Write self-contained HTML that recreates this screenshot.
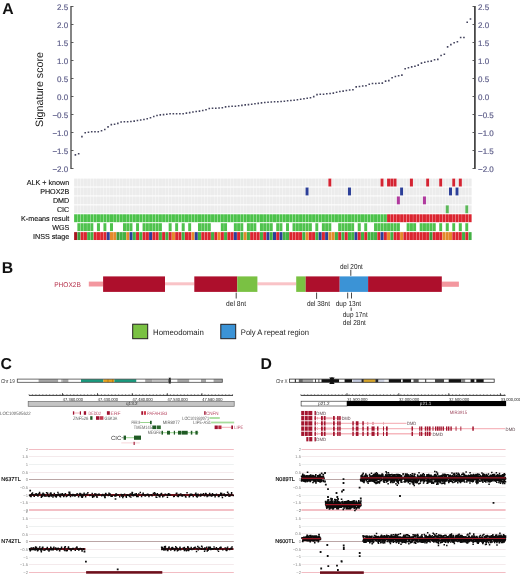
<!DOCTYPE html>
<html><head><meta charset="utf-8"><style>
html,body{margin:0;padding:0;background:#fff;}
svg{display:block;font-family:"Liberation Sans",Arial,Helvetica,sans-serif;text-rendering:geometricPrecision;}
</style></head><body>
<svg width="520" height="576" viewBox="0 0 520 576">
<text x="2.2" y="13.9" font-size="15.8" font-weight="bold" fill="#111">A</text>
<line x1="71" y1="6" x2="71" y2="169" stroke="#333" stroke-width="1.2"/>
<line x1="474.9" y1="6" x2="474.9" y2="169" stroke="#333" stroke-width="1.6"/>
<line x1="71" y1="6.5" x2="73.5" y2="6.5" stroke="#4a4a4a" stroke-width="0.9"/>
<line x1="472.5" y1="6.5" x2="475" y2="6.5" stroke="#4a4a4a" stroke-width="0.9"/>
<text x="68.2" y="9.6" font-size="8" fill="#5c5c88" stroke="#5c5c88" stroke-width="0.18" text-anchor="end">2.5</text>
<text x="478" y="9.6" font-size="8" fill="#5c5c88" stroke="#5c5c88" stroke-width="0.18">2.5</text>
<line x1="71" y1="24.5" x2="73.5" y2="24.5" stroke="#4a4a4a" stroke-width="0.9"/>
<line x1="472.5" y1="24.5" x2="475" y2="24.5" stroke="#4a4a4a" stroke-width="0.9"/>
<text x="68.2" y="27.6" font-size="8" fill="#5c5c88" stroke="#5c5c88" stroke-width="0.18" text-anchor="end">2.0</text>
<text x="478" y="27.6" font-size="8" fill="#5c5c88" stroke="#5c5c88" stroke-width="0.18">2.0</text>
<line x1="71" y1="42.5" x2="73.5" y2="42.5" stroke="#4a4a4a" stroke-width="0.9"/>
<line x1="472.5" y1="42.5" x2="475" y2="42.5" stroke="#4a4a4a" stroke-width="0.9"/>
<text x="68.2" y="45.6" font-size="8" fill="#5c5c88" stroke="#5c5c88" stroke-width="0.18" text-anchor="end">1.5</text>
<text x="478" y="45.6" font-size="8" fill="#5c5c88" stroke="#5c5c88" stroke-width="0.18">1.5</text>
<line x1="71" y1="60.5" x2="73.5" y2="60.5" stroke="#4a4a4a" stroke-width="0.9"/>
<line x1="472.5" y1="60.5" x2="475" y2="60.5" stroke="#4a4a4a" stroke-width="0.9"/>
<text x="68.2" y="63.6" font-size="8" fill="#5c5c88" stroke="#5c5c88" stroke-width="0.18" text-anchor="end">1.0</text>
<text x="478" y="63.6" font-size="8" fill="#5c5c88" stroke="#5c5c88" stroke-width="0.18">1.0</text>
<line x1="71" y1="78.5" x2="73.5" y2="78.5" stroke="#4a4a4a" stroke-width="0.9"/>
<line x1="472.5" y1="78.5" x2="475" y2="78.5" stroke="#4a4a4a" stroke-width="0.9"/>
<text x="68.2" y="81.6" font-size="8" fill="#5c5c88" stroke="#5c5c88" stroke-width="0.18" text-anchor="end">0.5</text>
<text x="478" y="81.6" font-size="8" fill="#5c5c88" stroke="#5c5c88" stroke-width="0.18">0.5</text>
<line x1="71" y1="96.5" x2="73.5" y2="96.5" stroke="#4a4a4a" stroke-width="0.9"/>
<line x1="472.5" y1="96.5" x2="475" y2="96.5" stroke="#4a4a4a" stroke-width="0.9"/>
<text x="68.2" y="99.6" font-size="8" fill="#5c5c88" stroke="#5c5c88" stroke-width="0.18" text-anchor="end">0.0</text>
<text x="478" y="99.6" font-size="8" fill="#5c5c88" stroke="#5c5c88" stroke-width="0.18">0.0</text>
<line x1="71" y1="114.5" x2="73.5" y2="114.5" stroke="#4a4a4a" stroke-width="0.9"/>
<line x1="472.5" y1="114.5" x2="475" y2="114.5" stroke="#4a4a4a" stroke-width="0.9"/>
<text x="68.2" y="117.6" font-size="8" fill="#5c5c88" stroke="#5c5c88" stroke-width="0.18" text-anchor="end">−0.5</text>
<text x="478" y="117.6" font-size="8" fill="#5c5c88" stroke="#5c5c88" stroke-width="0.18">−0.5</text>
<line x1="71" y1="132.5" x2="73.5" y2="132.5" stroke="#4a4a4a" stroke-width="0.9"/>
<line x1="472.5" y1="132.5" x2="475" y2="132.5" stroke="#4a4a4a" stroke-width="0.9"/>
<text x="68.2" y="135.6" font-size="8" fill="#5c5c88" stroke="#5c5c88" stroke-width="0.18" text-anchor="end">−1.0</text>
<text x="478" y="135.6" font-size="8" fill="#5c5c88" stroke="#5c5c88" stroke-width="0.18">−1.0</text>
<line x1="71" y1="150.5" x2="73.5" y2="150.5" stroke="#4a4a4a" stroke-width="0.9"/>
<line x1="472.5" y1="150.5" x2="475" y2="150.5" stroke="#4a4a4a" stroke-width="0.9"/>
<text x="68.2" y="153.6" font-size="8" fill="#5c5c88" stroke="#5c5c88" stroke-width="0.18" text-anchor="end">−1.5</text>
<text x="478" y="153.6" font-size="8" fill="#5c5c88" stroke="#5c5c88" stroke-width="0.18">−1.5</text>
<line x1="71" y1="168.5" x2="73.5" y2="168.5" stroke="#4a4a4a" stroke-width="0.9"/>
<line x1="472.5" y1="168.5" x2="475" y2="168.5" stroke="#4a4a4a" stroke-width="0.9"/>
<text x="68.2" y="171.6" font-size="8" fill="#5c5c88" stroke="#5c5c88" stroke-width="0.18" text-anchor="end">−2.0</text>
<text x="478" y="171.6" font-size="8" fill="#5c5c88" stroke="#5c5c88" stroke-width="0.18">−2.0</text>
<text transform="translate(43.2,89.5) rotate(-90)" font-size="10.7" fill="#1a1a1a" text-anchor="middle">Signature score</text>
<path d="M74.6 154.1h1.6v1.6h-1.6zM77.87 153h1.6v1.6h-1.6zM81.13 135.8h1.6v1.6h-1.6zM84.4 132h1.6v1.6h-1.6zM87.66 131.5h1.6v1.6h-1.6zM90.93 131h1.6v1.6h-1.6zM94.19 131h1.6v1.6h-1.6zM97.46 131h1.6v1.6h-1.6zM100.72 130h1.6v1.6h-1.6zM103.99 128.7h1.6v1.6h-1.6zM107.25 126.1h1.6v1.6h-1.6zM110.52 123.8h1.6v1.6h-1.6zM113.78 123.4h1.6v1.6h-1.6zM117.05 122.6h1.6v1.6h-1.6zM120.31 121.2h1.6v1.6h-1.6zM123.58 121h1.6v1.6h-1.6zM126.84 120.9h1.6v1.6h-1.6zM130.1 120.7h1.6v1.6h-1.6zM133.37 120.3h1.6v1.6h-1.6zM136.63 119.7h1.6v1.6h-1.6zM139.9 119.2h1.6v1.6h-1.6zM143.16 118.7h1.6v1.6h-1.6zM146.43 118h1.6v1.6h-1.6zM149.69 116.9h1.6v1.6h-1.6zM152.96 115.7h1.6v1.6h-1.6zM156.22 114.7h1.6v1.6h-1.6zM159.49 114.1h1.6v1.6h-1.6zM162.75 113.8h1.6v1.6h-1.6zM166.02 113.4h1.6v1.6h-1.6zM169.28 113h1.6v1.6h-1.6zM172.55 113h1.6v1.6h-1.6zM175.81 113h1.6v1.6h-1.6zM179.08 113h1.6v1.6h-1.6zM182.34 113h1.6v1.6h-1.6zM185.61 112.3h1.6v1.6h-1.6zM188.88 111.8h1.6v1.6h-1.6zM192.14 111.2h1.6v1.6h-1.6zM195.41 110.7h1.6v1.6h-1.6zM198.67 110.3h1.6v1.6h-1.6zM201.94 109.7h1.6v1.6h-1.6zM205.2 108.9h1.6v1.6h-1.6zM208.47 107.7h1.6v1.6h-1.6zM211.73 107.4h1.6v1.6h-1.6zM215 107.4h1.6v1.6h-1.6zM218.26 107.2h1.6v1.6h-1.6zM221.53 106.9h1.6v1.6h-1.6zM224.79 106.1h1.6v1.6h-1.6zM228.06 105.7h1.6v1.6h-1.6zM231.32 105.4h1.6v1.6h-1.6zM234.59 105.4h1.6v1.6h-1.6zM237.85 104.9h1.6v1.6h-1.6zM241.12 104.6h1.6v1.6h-1.6zM244.38 104.1h1.6v1.6h-1.6zM247.65 103.8h1.6v1.6h-1.6zM250.91 103.5h1.6v1.6h-1.6zM254.18 103h1.6v1.6h-1.6zM257.44 102.6h1.6v1.6h-1.6zM260.7 102.1h1.6v1.6h-1.6zM263.97 101.7h1.6v1.6h-1.6zM267.24 101.5h1.6v1.6h-1.6zM270.5 101.2h1.6v1.6h-1.6zM273.77 101h1.6v1.6h-1.6zM277.03 100.9h1.6v1.6h-1.6zM280.3 100.7h1.6v1.6h-1.6zM283.56 100.4h1.6v1.6h-1.6zM286.82 100h1.6v1.6h-1.6zM290.09 99.7h1.6v1.6h-1.6zM293.35 99.5h1.6v1.6h-1.6zM296.62 98.9h1.6v1.6h-1.6zM299.88 98.4h1.6v1.6h-1.6zM303.15 98h1.6v1.6h-1.6zM306.42 97.4h1.6v1.6h-1.6zM309.68 96.9h1.6v1.6h-1.6zM312.94 95.8h1.6v1.6h-1.6zM316.21 93.8h1.6v1.6h-1.6zM319.47 93.5h1.6v1.6h-1.6zM322.74 93.4h1.6v1.6h-1.6zM326 93h1.6v1.6h-1.6zM329.27 92.7h1.6v1.6h-1.6zM332.54 92.3h1.6v1.6h-1.6zM335.8 91.5h1.6v1.6h-1.6zM339.06 90.7h1.6v1.6h-1.6zM342.33 90.3h1.6v1.6h-1.6zM345.59 89.7h1.6v1.6h-1.6zM348.86 89.2h1.6v1.6h-1.6zM352.13 88.9h1.6v1.6h-1.6zM355.39 86.1h1.6v1.6h-1.6zM358.66 85.7h1.6v1.6h-1.6zM361.92 85.2h1.6v1.6h-1.6zM365.19 84.9h1.6v1.6h-1.6zM368.45 83.4h1.6v1.6h-1.6zM371.71 82.7h1.6v1.6h-1.6zM374.98 82.7h1.6v1.6h-1.6zM378.25 82.4h1.6v1.6h-1.6zM381.51 82.3h1.6v1.6h-1.6zM384.78 80.3h1.6v1.6h-1.6zM388.04 79.8h1.6v1.6h-1.6zM391.31 76.9h1.6v1.6h-1.6zM394.57 75.7h1.6v1.6h-1.6zM397.83 75h1.6v1.6h-1.6zM401.1 74.3h1.6v1.6h-1.6zM404.36 68h1.6v1.6h-1.6zM407.63 66.9h1.6v1.6h-1.6zM410.9 66.1h1.6v1.6h-1.6zM414.16 65.4h1.6v1.6h-1.6zM417.43 64.3h1.6v1.6h-1.6zM420.69 62.3h1.6v1.6h-1.6zM423.95 61.5h1.6v1.6h-1.6zM427.22 60.7h1.6v1.6h-1.6zM430.48 60.3h1.6v1.6h-1.6zM433.75 59h1.6v1.6h-1.6zM437.02 58.6h1.6v1.6h-1.6zM440.28 54.7h1.6v1.6h-1.6zM443.55 53.5h1.6v1.6h-1.6zM446.81 46.1h1.6v1.6h-1.6zM450.07 43.8h1.6v1.6h-1.6zM453.34 41.9h1.6v1.6h-1.6zM456.6 41h1.6v1.6h-1.6zM459.87 36.7h1.6v1.6h-1.6zM463.14 36.7h1.6v1.6h-1.6zM466.4 21.5h1.6v1.6h-1.6zM469.67 18.2h1.6v1.6h-1.6z" fill="#44445e"/>
<text x="69.3" y="185.1" font-size="7.2" fill="#111" stroke="#111" stroke-width="0.12" text-anchor="end">ALK + known</text>
<text x="69.3" y="194.02" font-size="7.2" fill="#111" stroke="#111" stroke-width="0.12" text-anchor="end">PHOX2B</text>
<text x="69.3" y="202.94" font-size="7.2" fill="#111" stroke="#111" stroke-width="0.12" text-anchor="end">DMD</text>
<text x="69.3" y="211.86" font-size="7.2" fill="#111" stroke="#111" stroke-width="0.12" text-anchor="end">CIC</text>
<text x="69.3" y="220.78" font-size="7.2" fill="#111" stroke="#111" stroke-width="0.12" text-anchor="end">K-means result</text>
<text x="69.3" y="229.7" font-size="7.2" fill="#111" stroke="#111" stroke-width="0.12" text-anchor="end">WGS</text>
<text x="69.3" y="238.62" font-size="7.2" fill="#111" stroke="#111" stroke-width="0.12" text-anchor="end">INSS stage</text>
<rect x="74.12" y="178.6" width="3.02" height="7.9" fill="#ececec"/>
<rect x="77.38" y="178.6" width="3.02" height="7.9" fill="#ececec"/>
<rect x="80.64" y="178.6" width="3.02" height="7.9" fill="#ececec"/>
<rect x="83.9" y="178.6" width="3.02" height="7.9" fill="#ececec"/>
<rect x="87.16" y="178.6" width="3.02" height="7.9" fill="#ececec"/>
<rect x="90.42" y="178.6" width="3.02" height="7.9" fill="#ececec"/>
<rect x="93.68" y="178.6" width="3.02" height="7.9" fill="#ececec"/>
<rect x="96.94" y="178.6" width="3.02" height="7.9" fill="#ececec"/>
<rect x="100.2" y="178.6" width="3.02" height="7.9" fill="#ececec"/>
<rect x="103.46" y="178.6" width="3.02" height="7.9" fill="#ececec"/>
<rect x="106.72" y="178.6" width="3.02" height="7.9" fill="#ececec"/>
<rect x="109.98" y="178.6" width="3.02" height="7.9" fill="#ececec"/>
<rect x="113.24" y="178.6" width="3.02" height="7.9" fill="#ececec"/>
<rect x="116.5" y="178.6" width="3.02" height="7.9" fill="#ececec"/>
<rect x="119.76" y="178.6" width="3.02" height="7.9" fill="#ececec"/>
<rect x="123.02" y="178.6" width="3.02" height="7.9" fill="#ececec"/>
<rect x="126.28" y="178.6" width="3.02" height="7.9" fill="#ececec"/>
<rect x="129.54" y="178.6" width="3.02" height="7.9" fill="#ececec"/>
<rect x="132.8" y="178.6" width="3.02" height="7.9" fill="#ececec"/>
<rect x="136.06" y="178.6" width="3.02" height="7.9" fill="#ececec"/>
<rect x="139.32" y="178.6" width="3.02" height="7.9" fill="#ececec"/>
<rect x="142.58" y="178.6" width="3.02" height="7.9" fill="#ececec"/>
<rect x="145.84" y="178.6" width="3.02" height="7.9" fill="#ececec"/>
<rect x="149.1" y="178.6" width="3.02" height="7.9" fill="#ececec"/>
<rect x="152.36" y="178.6" width="3.02" height="7.9" fill="#ececec"/>
<rect x="155.62" y="178.6" width="3.02" height="7.9" fill="#ececec"/>
<rect x="158.88" y="178.6" width="3.02" height="7.9" fill="#ececec"/>
<rect x="162.14" y="178.6" width="3.02" height="7.9" fill="#ececec"/>
<rect x="165.4" y="178.6" width="3.02" height="7.9" fill="#ececec"/>
<rect x="168.66" y="178.6" width="3.02" height="7.9" fill="#ececec"/>
<rect x="171.92" y="178.6" width="3.02" height="7.9" fill="#ececec"/>
<rect x="175.18" y="178.6" width="3.02" height="7.9" fill="#ececec"/>
<rect x="178.44" y="178.6" width="3.02" height="7.9" fill="#ececec"/>
<rect x="181.7" y="178.6" width="3.02" height="7.9" fill="#ececec"/>
<rect x="184.96" y="178.6" width="3.02" height="7.9" fill="#ececec"/>
<rect x="188.22" y="178.6" width="3.02" height="7.9" fill="#ececec"/>
<rect x="191.48" y="178.6" width="3.02" height="7.9" fill="#ececec"/>
<rect x="194.74" y="178.6" width="3.02" height="7.9" fill="#ececec"/>
<rect x="198" y="178.6" width="3.02" height="7.9" fill="#ececec"/>
<rect x="201.26" y="178.6" width="3.02" height="7.9" fill="#ececec"/>
<rect x="204.52" y="178.6" width="3.02" height="7.9" fill="#ececec"/>
<rect x="207.78" y="178.6" width="3.02" height="7.9" fill="#ececec"/>
<rect x="211.04" y="178.6" width="3.02" height="7.9" fill="#ececec"/>
<rect x="214.3" y="178.6" width="3.02" height="7.9" fill="#ececec"/>
<rect x="217.56" y="178.6" width="3.02" height="7.9" fill="#ececec"/>
<rect x="220.82" y="178.6" width="3.02" height="7.9" fill="#ececec"/>
<rect x="224.08" y="178.6" width="3.02" height="7.9" fill="#ececec"/>
<rect x="227.34" y="178.6" width="3.02" height="7.9" fill="#ececec"/>
<rect x="230.6" y="178.6" width="3.02" height="7.9" fill="#ececec"/>
<rect x="233.86" y="178.6" width="3.02" height="7.9" fill="#ececec"/>
<rect x="237.12" y="178.6" width="3.02" height="7.9" fill="#ececec"/>
<rect x="240.38" y="178.6" width="3.02" height="7.9" fill="#ececec"/>
<rect x="243.64" y="178.6" width="3.02" height="7.9" fill="#ececec"/>
<rect x="246.9" y="178.6" width="3.02" height="7.9" fill="#ececec"/>
<rect x="250.16" y="178.6" width="3.02" height="7.9" fill="#ececec"/>
<rect x="253.42" y="178.6" width="3.02" height="7.9" fill="#ececec"/>
<rect x="256.68" y="178.6" width="3.02" height="7.9" fill="#ececec"/>
<rect x="259.94" y="178.6" width="3.02" height="7.9" fill="#ececec"/>
<rect x="263.2" y="178.6" width="3.02" height="7.9" fill="#ececec"/>
<rect x="266.46" y="178.6" width="3.02" height="7.9" fill="#ececec"/>
<rect x="269.72" y="178.6" width="3.02" height="7.9" fill="#ececec"/>
<rect x="272.98" y="178.6" width="3.02" height="7.9" fill="#ececec"/>
<rect x="276.24" y="178.6" width="3.02" height="7.9" fill="#ececec"/>
<rect x="279.5" y="178.6" width="3.02" height="7.9" fill="#ececec"/>
<rect x="282.76" y="178.6" width="3.02" height="7.9" fill="#ececec"/>
<rect x="286.02" y="178.6" width="3.02" height="7.9" fill="#ececec"/>
<rect x="289.28" y="178.6" width="3.02" height="7.9" fill="#ececec"/>
<rect x="292.54" y="178.6" width="3.02" height="7.9" fill="#ececec"/>
<rect x="295.8" y="178.6" width="3.02" height="7.9" fill="#ececec"/>
<rect x="299.06" y="178.6" width="3.02" height="7.9" fill="#ececec"/>
<rect x="302.32" y="178.6" width="3.02" height="7.9" fill="#ececec"/>
<rect x="305.58" y="178.6" width="3.02" height="7.9" fill="#ececec"/>
<rect x="308.84" y="178.6" width="3.02" height="7.9" fill="#ececec"/>
<rect x="312.1" y="178.6" width="3.02" height="7.9" fill="#ececec"/>
<rect x="315.36" y="178.6" width="3.02" height="7.9" fill="#ececec"/>
<rect x="318.62" y="178.6" width="3.02" height="7.9" fill="#ececec"/>
<rect x="321.88" y="178.6" width="3.02" height="7.9" fill="#ececec"/>
<rect x="325.14" y="178.6" width="3.02" height="7.9" fill="#ececec"/>
<rect x="328.4" y="178.6" width="3.02" height="7.9" fill="#d42432"/>
<rect x="331.66" y="178.6" width="3.02" height="7.9" fill="#ececec"/>
<rect x="334.92" y="178.6" width="3.02" height="7.9" fill="#ececec"/>
<rect x="338.18" y="178.6" width="3.02" height="7.9" fill="#ececec"/>
<rect x="341.44" y="178.6" width="3.02" height="7.9" fill="#ececec"/>
<rect x="344.7" y="178.6" width="3.02" height="7.9" fill="#ececec"/>
<rect x="347.96" y="178.6" width="3.02" height="7.9" fill="#ececec"/>
<rect x="351.22" y="178.6" width="3.02" height="7.9" fill="#ececec"/>
<rect x="354.48" y="178.6" width="3.02" height="7.9" fill="#ececec"/>
<rect x="357.74" y="178.6" width="3.02" height="7.9" fill="#ececec"/>
<rect x="361" y="178.6" width="3.02" height="7.9" fill="#ececec"/>
<rect x="364.26" y="178.6" width="3.02" height="7.9" fill="#ececec"/>
<rect x="367.52" y="178.6" width="3.02" height="7.9" fill="#ececec"/>
<rect x="370.78" y="178.6" width="3.02" height="7.9" fill="#ececec"/>
<rect x="374.04" y="178.6" width="3.02" height="7.9" fill="#ececec"/>
<rect x="377.3" y="178.6" width="3.02" height="7.9" fill="#ececec"/>
<rect x="380.56" y="178.6" width="3.02" height="7.9" fill="#d42432"/>
<rect x="383.82" y="178.6" width="3.02" height="7.9" fill="#ececec"/>
<rect x="387.08" y="178.6" width="3.02" height="7.9" fill="#d42432"/>
<rect x="390.34" y="178.6" width="3.02" height="7.9" fill="#d42432"/>
<rect x="393.6" y="178.6" width="3.02" height="7.9" fill="#d42432"/>
<rect x="396.86" y="178.6" width="3.02" height="7.9" fill="#ececec"/>
<rect x="400.12" y="178.6" width="3.02" height="7.9" fill="#ececec"/>
<rect x="403.38" y="178.6" width="3.02" height="7.9" fill="#ececec"/>
<rect x="406.64" y="178.6" width="3.02" height="7.9" fill="#ececec"/>
<rect x="409.9" y="178.6" width="3.02" height="7.9" fill="#d42432"/>
<rect x="413.16" y="178.6" width="3.02" height="7.9" fill="#ececec"/>
<rect x="416.42" y="178.6" width="3.02" height="7.9" fill="#ececec"/>
<rect x="419.68" y="178.6" width="3.02" height="7.9" fill="#ececec"/>
<rect x="422.94" y="178.6" width="3.02" height="7.9" fill="#ececec"/>
<rect x="426.2" y="178.6" width="3.02" height="7.9" fill="#d42432"/>
<rect x="429.46" y="178.6" width="3.02" height="7.9" fill="#ececec"/>
<rect x="432.72" y="178.6" width="3.02" height="7.9" fill="#ececec"/>
<rect x="435.98" y="178.6" width="3.02" height="7.9" fill="#ececec"/>
<rect x="439.24" y="178.6" width="3.02" height="7.9" fill="#d42432"/>
<rect x="442.5" y="178.6" width="3.02" height="7.9" fill="#ececec"/>
<rect x="445.76" y="178.6" width="3.02" height="7.9" fill="#ececec"/>
<rect x="449.02" y="178.6" width="3.02" height="7.9" fill="#ececec"/>
<rect x="452.28" y="178.6" width="3.02" height="7.9" fill="#d42432"/>
<rect x="455.54" y="178.6" width="3.02" height="7.9" fill="#ececec"/>
<rect x="458.8" y="178.6" width="3.02" height="7.9" fill="#d42432"/>
<rect x="462.06" y="178.6" width="3.02" height="7.9" fill="#ececec"/>
<rect x="465.32" y="178.6" width="3.02" height="7.9" fill="#ececec"/>
<rect x="468.58" y="178.6" width="3.02" height="7.9" fill="#ececec"/>
<rect x="74.12" y="187.52" width="3.02" height="7.9" fill="#ececec"/>
<rect x="77.38" y="187.52" width="3.02" height="7.9" fill="#ececec"/>
<rect x="80.64" y="187.52" width="3.02" height="7.9" fill="#ececec"/>
<rect x="83.9" y="187.52" width="3.02" height="7.9" fill="#ececec"/>
<rect x="87.16" y="187.52" width="3.02" height="7.9" fill="#ececec"/>
<rect x="90.42" y="187.52" width="3.02" height="7.9" fill="#ececec"/>
<rect x="93.68" y="187.52" width="3.02" height="7.9" fill="#ececec"/>
<rect x="96.94" y="187.52" width="3.02" height="7.9" fill="#ececec"/>
<rect x="100.2" y="187.52" width="3.02" height="7.9" fill="#ececec"/>
<rect x="103.46" y="187.52" width="3.02" height="7.9" fill="#ececec"/>
<rect x="106.72" y="187.52" width="3.02" height="7.9" fill="#ececec"/>
<rect x="109.98" y="187.52" width="3.02" height="7.9" fill="#ececec"/>
<rect x="113.24" y="187.52" width="3.02" height="7.9" fill="#ececec"/>
<rect x="116.5" y="187.52" width="3.02" height="7.9" fill="#ececec"/>
<rect x="119.76" y="187.52" width="3.02" height="7.9" fill="#ececec"/>
<rect x="123.02" y="187.52" width="3.02" height="7.9" fill="#ececec"/>
<rect x="126.28" y="187.52" width="3.02" height="7.9" fill="#ececec"/>
<rect x="129.54" y="187.52" width="3.02" height="7.9" fill="#ececec"/>
<rect x="132.8" y="187.52" width="3.02" height="7.9" fill="#ececec"/>
<rect x="136.06" y="187.52" width="3.02" height="7.9" fill="#ececec"/>
<rect x="139.32" y="187.52" width="3.02" height="7.9" fill="#ececec"/>
<rect x="142.58" y="187.52" width="3.02" height="7.9" fill="#ececec"/>
<rect x="145.84" y="187.52" width="3.02" height="7.9" fill="#ececec"/>
<rect x="149.1" y="187.52" width="3.02" height="7.9" fill="#ececec"/>
<rect x="152.36" y="187.52" width="3.02" height="7.9" fill="#ececec"/>
<rect x="155.62" y="187.52" width="3.02" height="7.9" fill="#ececec"/>
<rect x="158.88" y="187.52" width="3.02" height="7.9" fill="#ececec"/>
<rect x="162.14" y="187.52" width="3.02" height="7.9" fill="#ececec"/>
<rect x="165.4" y="187.52" width="3.02" height="7.9" fill="#ececec"/>
<rect x="168.66" y="187.52" width="3.02" height="7.9" fill="#ececec"/>
<rect x="171.92" y="187.52" width="3.02" height="7.9" fill="#ececec"/>
<rect x="175.18" y="187.52" width="3.02" height="7.9" fill="#ececec"/>
<rect x="178.44" y="187.52" width="3.02" height="7.9" fill="#ececec"/>
<rect x="181.7" y="187.52" width="3.02" height="7.9" fill="#ececec"/>
<rect x="184.96" y="187.52" width="3.02" height="7.9" fill="#ececec"/>
<rect x="188.22" y="187.52" width="3.02" height="7.9" fill="#ececec"/>
<rect x="191.48" y="187.52" width="3.02" height="7.9" fill="#ececec"/>
<rect x="194.74" y="187.52" width="3.02" height="7.9" fill="#ececec"/>
<rect x="198" y="187.52" width="3.02" height="7.9" fill="#ececec"/>
<rect x="201.26" y="187.52" width="3.02" height="7.9" fill="#ececec"/>
<rect x="204.52" y="187.52" width="3.02" height="7.9" fill="#ececec"/>
<rect x="207.78" y="187.52" width="3.02" height="7.9" fill="#ececec"/>
<rect x="211.04" y="187.52" width="3.02" height="7.9" fill="#ececec"/>
<rect x="214.3" y="187.52" width="3.02" height="7.9" fill="#ececec"/>
<rect x="217.56" y="187.52" width="3.02" height="7.9" fill="#ececec"/>
<rect x="220.82" y="187.52" width="3.02" height="7.9" fill="#ececec"/>
<rect x="224.08" y="187.52" width="3.02" height="7.9" fill="#ececec"/>
<rect x="227.34" y="187.52" width="3.02" height="7.9" fill="#ececec"/>
<rect x="230.6" y="187.52" width="3.02" height="7.9" fill="#ececec"/>
<rect x="233.86" y="187.52" width="3.02" height="7.9" fill="#ececec"/>
<rect x="237.12" y="187.52" width="3.02" height="7.9" fill="#ececec"/>
<rect x="240.38" y="187.52" width="3.02" height="7.9" fill="#ececec"/>
<rect x="243.64" y="187.52" width="3.02" height="7.9" fill="#ececec"/>
<rect x="246.9" y="187.52" width="3.02" height="7.9" fill="#ececec"/>
<rect x="250.16" y="187.52" width="3.02" height="7.9" fill="#ececec"/>
<rect x="253.42" y="187.52" width="3.02" height="7.9" fill="#ececec"/>
<rect x="256.68" y="187.52" width="3.02" height="7.9" fill="#ececec"/>
<rect x="259.94" y="187.52" width="3.02" height="7.9" fill="#ececec"/>
<rect x="263.2" y="187.52" width="3.02" height="7.9" fill="#ececec"/>
<rect x="266.46" y="187.52" width="3.02" height="7.9" fill="#ececec"/>
<rect x="269.72" y="187.52" width="3.02" height="7.9" fill="#ececec"/>
<rect x="272.98" y="187.52" width="3.02" height="7.9" fill="#ececec"/>
<rect x="276.24" y="187.52" width="3.02" height="7.9" fill="#ececec"/>
<rect x="279.5" y="187.52" width="3.02" height="7.9" fill="#ececec"/>
<rect x="282.76" y="187.52" width="3.02" height="7.9" fill="#ececec"/>
<rect x="286.02" y="187.52" width="3.02" height="7.9" fill="#ececec"/>
<rect x="289.28" y="187.52" width="3.02" height="7.9" fill="#ececec"/>
<rect x="292.54" y="187.52" width="3.02" height="7.9" fill="#ececec"/>
<rect x="295.8" y="187.52" width="3.02" height="7.9" fill="#ececec"/>
<rect x="299.06" y="187.52" width="3.02" height="7.9" fill="#ececec"/>
<rect x="302.32" y="187.52" width="3.02" height="7.9" fill="#ececec"/>
<rect x="305.58" y="187.52" width="3.02" height="7.9" fill="#2c3f98"/>
<rect x="308.84" y="187.52" width="3.02" height="7.9" fill="#ececec"/>
<rect x="312.1" y="187.52" width="3.02" height="7.9" fill="#ececec"/>
<rect x="315.36" y="187.52" width="3.02" height="7.9" fill="#ececec"/>
<rect x="318.62" y="187.52" width="3.02" height="7.9" fill="#ececec"/>
<rect x="321.88" y="187.52" width="3.02" height="7.9" fill="#ececec"/>
<rect x="325.14" y="187.52" width="3.02" height="7.9" fill="#ececec"/>
<rect x="328.4" y="187.52" width="3.02" height="7.9" fill="#ececec"/>
<rect x="331.66" y="187.52" width="3.02" height="7.9" fill="#ececec"/>
<rect x="334.92" y="187.52" width="3.02" height="7.9" fill="#ececec"/>
<rect x="338.18" y="187.52" width="3.02" height="7.9" fill="#ececec"/>
<rect x="341.44" y="187.52" width="3.02" height="7.9" fill="#ececec"/>
<rect x="344.7" y="187.52" width="3.02" height="7.9" fill="#ececec"/>
<rect x="347.96" y="187.52" width="3.02" height="7.9" fill="#2c3f98"/>
<rect x="351.22" y="187.52" width="3.02" height="7.9" fill="#ececec"/>
<rect x="354.48" y="187.52" width="3.02" height="7.9" fill="#ececec"/>
<rect x="357.74" y="187.52" width="3.02" height="7.9" fill="#ececec"/>
<rect x="361" y="187.52" width="3.02" height="7.9" fill="#ececec"/>
<rect x="364.26" y="187.52" width="3.02" height="7.9" fill="#ececec"/>
<rect x="367.52" y="187.52" width="3.02" height="7.9" fill="#ececec"/>
<rect x="370.78" y="187.52" width="3.02" height="7.9" fill="#ececec"/>
<rect x="374.04" y="187.52" width="3.02" height="7.9" fill="#ececec"/>
<rect x="377.3" y="187.52" width="3.02" height="7.9" fill="#ececec"/>
<rect x="380.56" y="187.52" width="3.02" height="7.9" fill="#ececec"/>
<rect x="383.82" y="187.52" width="3.02" height="7.9" fill="#ececec"/>
<rect x="387.08" y="187.52" width="3.02" height="7.9" fill="#ececec"/>
<rect x="390.34" y="187.52" width="3.02" height="7.9" fill="#ececec"/>
<rect x="393.6" y="187.52" width="3.02" height="7.9" fill="#ececec"/>
<rect x="396.86" y="187.52" width="3.02" height="7.9" fill="#ececec"/>
<rect x="400.12" y="187.52" width="3.02" height="7.9" fill="#2c3f98"/>
<rect x="403.38" y="187.52" width="3.02" height="7.9" fill="#ececec"/>
<rect x="406.64" y="187.52" width="3.02" height="7.9" fill="#ececec"/>
<rect x="409.9" y="187.52" width="3.02" height="7.9" fill="#ececec"/>
<rect x="413.16" y="187.52" width="3.02" height="7.9" fill="#ececec"/>
<rect x="416.42" y="187.52" width="3.02" height="7.9" fill="#ececec"/>
<rect x="419.68" y="187.52" width="3.02" height="7.9" fill="#ececec"/>
<rect x="422.94" y="187.52" width="3.02" height="7.9" fill="#ececec"/>
<rect x="426.2" y="187.52" width="3.02" height="7.9" fill="#ececec"/>
<rect x="429.46" y="187.52" width="3.02" height="7.9" fill="#ececec"/>
<rect x="432.72" y="187.52" width="3.02" height="7.9" fill="#ececec"/>
<rect x="435.98" y="187.52" width="3.02" height="7.9" fill="#ececec"/>
<rect x="439.24" y="187.52" width="3.02" height="7.9" fill="#ececec"/>
<rect x="442.5" y="187.52" width="3.02" height="7.9" fill="#ececec"/>
<rect x="445.76" y="187.52" width="3.02" height="7.9" fill="#ececec"/>
<rect x="449.02" y="187.52" width="3.02" height="7.9" fill="#2c3f98"/>
<rect x="452.28" y="187.52" width="3.02" height="7.9" fill="#ececec"/>
<rect x="455.54" y="187.52" width="3.02" height="7.9" fill="#2c3f98"/>
<rect x="458.8" y="187.52" width="3.02" height="7.9" fill="#ececec"/>
<rect x="462.06" y="187.52" width="3.02" height="7.9" fill="#ececec"/>
<rect x="465.32" y="187.52" width="3.02" height="7.9" fill="#ececec"/>
<rect x="468.58" y="187.52" width="3.02" height="7.9" fill="#ececec"/>
<rect x="74.12" y="196.44" width="3.02" height="7.9" fill="#ececec"/>
<rect x="77.38" y="196.44" width="3.02" height="7.9" fill="#ececec"/>
<rect x="80.64" y="196.44" width="3.02" height="7.9" fill="#ececec"/>
<rect x="83.9" y="196.44" width="3.02" height="7.9" fill="#ececec"/>
<rect x="87.16" y="196.44" width="3.02" height="7.9" fill="#ececec"/>
<rect x="90.42" y="196.44" width="3.02" height="7.9" fill="#ececec"/>
<rect x="93.68" y="196.44" width="3.02" height="7.9" fill="#ececec"/>
<rect x="96.94" y="196.44" width="3.02" height="7.9" fill="#ececec"/>
<rect x="100.2" y="196.44" width="3.02" height="7.9" fill="#ececec"/>
<rect x="103.46" y="196.44" width="3.02" height="7.9" fill="#ececec"/>
<rect x="106.72" y="196.44" width="3.02" height="7.9" fill="#ececec"/>
<rect x="109.98" y="196.44" width="3.02" height="7.9" fill="#ececec"/>
<rect x="113.24" y="196.44" width="3.02" height="7.9" fill="#ececec"/>
<rect x="116.5" y="196.44" width="3.02" height="7.9" fill="#ececec"/>
<rect x="119.76" y="196.44" width="3.02" height="7.9" fill="#ececec"/>
<rect x="123.02" y="196.44" width="3.02" height="7.9" fill="#ececec"/>
<rect x="126.28" y="196.44" width="3.02" height="7.9" fill="#ececec"/>
<rect x="129.54" y="196.44" width="3.02" height="7.9" fill="#ececec"/>
<rect x="132.8" y="196.44" width="3.02" height="7.9" fill="#ececec"/>
<rect x="136.06" y="196.44" width="3.02" height="7.9" fill="#ececec"/>
<rect x="139.32" y="196.44" width="3.02" height="7.9" fill="#ececec"/>
<rect x="142.58" y="196.44" width="3.02" height="7.9" fill="#ececec"/>
<rect x="145.84" y="196.44" width="3.02" height="7.9" fill="#ececec"/>
<rect x="149.1" y="196.44" width="3.02" height="7.9" fill="#ececec"/>
<rect x="152.36" y="196.44" width="3.02" height="7.9" fill="#ececec"/>
<rect x="155.62" y="196.44" width="3.02" height="7.9" fill="#ececec"/>
<rect x="158.88" y="196.44" width="3.02" height="7.9" fill="#ececec"/>
<rect x="162.14" y="196.44" width="3.02" height="7.9" fill="#ececec"/>
<rect x="165.4" y="196.44" width="3.02" height="7.9" fill="#ececec"/>
<rect x="168.66" y="196.44" width="3.02" height="7.9" fill="#ececec"/>
<rect x="171.92" y="196.44" width="3.02" height="7.9" fill="#ececec"/>
<rect x="175.18" y="196.44" width="3.02" height="7.9" fill="#ececec"/>
<rect x="178.44" y="196.44" width="3.02" height="7.9" fill="#ececec"/>
<rect x="181.7" y="196.44" width="3.02" height="7.9" fill="#ececec"/>
<rect x="184.96" y="196.44" width="3.02" height="7.9" fill="#ececec"/>
<rect x="188.22" y="196.44" width="3.02" height="7.9" fill="#ececec"/>
<rect x="191.48" y="196.44" width="3.02" height="7.9" fill="#ececec"/>
<rect x="194.74" y="196.44" width="3.02" height="7.9" fill="#ececec"/>
<rect x="198" y="196.44" width="3.02" height="7.9" fill="#ececec"/>
<rect x="201.26" y="196.44" width="3.02" height="7.9" fill="#ececec"/>
<rect x="204.52" y="196.44" width="3.02" height="7.9" fill="#ececec"/>
<rect x="207.78" y="196.44" width="3.02" height="7.9" fill="#ececec"/>
<rect x="211.04" y="196.44" width="3.02" height="7.9" fill="#ececec"/>
<rect x="214.3" y="196.44" width="3.02" height="7.9" fill="#ececec"/>
<rect x="217.56" y="196.44" width="3.02" height="7.9" fill="#ececec"/>
<rect x="220.82" y="196.44" width="3.02" height="7.9" fill="#ececec"/>
<rect x="224.08" y="196.44" width="3.02" height="7.9" fill="#ececec"/>
<rect x="227.34" y="196.44" width="3.02" height="7.9" fill="#ececec"/>
<rect x="230.6" y="196.44" width="3.02" height="7.9" fill="#ececec"/>
<rect x="233.86" y="196.44" width="3.02" height="7.9" fill="#ececec"/>
<rect x="237.12" y="196.44" width="3.02" height="7.9" fill="#ececec"/>
<rect x="240.38" y="196.44" width="3.02" height="7.9" fill="#ececec"/>
<rect x="243.64" y="196.44" width="3.02" height="7.9" fill="#ececec"/>
<rect x="246.9" y="196.44" width="3.02" height="7.9" fill="#ececec"/>
<rect x="250.16" y="196.44" width="3.02" height="7.9" fill="#ececec"/>
<rect x="253.42" y="196.44" width="3.02" height="7.9" fill="#ececec"/>
<rect x="256.68" y="196.44" width="3.02" height="7.9" fill="#ececec"/>
<rect x="259.94" y="196.44" width="3.02" height="7.9" fill="#ececec"/>
<rect x="263.2" y="196.44" width="3.02" height="7.9" fill="#ececec"/>
<rect x="266.46" y="196.44" width="3.02" height="7.9" fill="#ececec"/>
<rect x="269.72" y="196.44" width="3.02" height="7.9" fill="#ececec"/>
<rect x="272.98" y="196.44" width="3.02" height="7.9" fill="#ececec"/>
<rect x="276.24" y="196.44" width="3.02" height="7.9" fill="#ececec"/>
<rect x="279.5" y="196.44" width="3.02" height="7.9" fill="#ececec"/>
<rect x="282.76" y="196.44" width="3.02" height="7.9" fill="#ececec"/>
<rect x="286.02" y="196.44" width="3.02" height="7.9" fill="#ececec"/>
<rect x="289.28" y="196.44" width="3.02" height="7.9" fill="#ececec"/>
<rect x="292.54" y="196.44" width="3.02" height="7.9" fill="#ececec"/>
<rect x="295.8" y="196.44" width="3.02" height="7.9" fill="#ececec"/>
<rect x="299.06" y="196.44" width="3.02" height="7.9" fill="#ececec"/>
<rect x="302.32" y="196.44" width="3.02" height="7.9" fill="#ececec"/>
<rect x="305.58" y="196.44" width="3.02" height="7.9" fill="#ececec"/>
<rect x="308.84" y="196.44" width="3.02" height="7.9" fill="#ececec"/>
<rect x="312.1" y="196.44" width="3.02" height="7.9" fill="#ececec"/>
<rect x="315.36" y="196.44" width="3.02" height="7.9" fill="#ececec"/>
<rect x="318.62" y="196.44" width="3.02" height="7.9" fill="#ececec"/>
<rect x="321.88" y="196.44" width="3.02" height="7.9" fill="#ececec"/>
<rect x="325.14" y="196.44" width="3.02" height="7.9" fill="#ececec"/>
<rect x="328.4" y="196.44" width="3.02" height="7.9" fill="#ececec"/>
<rect x="331.66" y="196.44" width="3.02" height="7.9" fill="#ececec"/>
<rect x="334.92" y="196.44" width="3.02" height="7.9" fill="#ececec"/>
<rect x="338.18" y="196.44" width="3.02" height="7.9" fill="#ececec"/>
<rect x="341.44" y="196.44" width="3.02" height="7.9" fill="#ececec"/>
<rect x="344.7" y="196.44" width="3.02" height="7.9" fill="#ececec"/>
<rect x="347.96" y="196.44" width="3.02" height="7.9" fill="#ececec"/>
<rect x="351.22" y="196.44" width="3.02" height="7.9" fill="#ececec"/>
<rect x="354.48" y="196.44" width="3.02" height="7.9" fill="#ececec"/>
<rect x="357.74" y="196.44" width="3.02" height="7.9" fill="#ececec"/>
<rect x="361" y="196.44" width="3.02" height="7.9" fill="#ececec"/>
<rect x="364.26" y="196.44" width="3.02" height="7.9" fill="#ececec"/>
<rect x="367.52" y="196.44" width="3.02" height="7.9" fill="#ececec"/>
<rect x="370.78" y="196.44" width="3.02" height="7.9" fill="#ececec"/>
<rect x="374.04" y="196.44" width="3.02" height="7.9" fill="#ececec"/>
<rect x="377.3" y="196.44" width="3.02" height="7.9" fill="#ececec"/>
<rect x="380.56" y="196.44" width="3.02" height="7.9" fill="#ececec"/>
<rect x="383.82" y="196.44" width="3.02" height="7.9" fill="#ececec"/>
<rect x="387.08" y="196.44" width="3.02" height="7.9" fill="#ececec"/>
<rect x="390.34" y="196.44" width="3.02" height="7.9" fill="#ececec"/>
<rect x="393.6" y="196.44" width="3.02" height="7.9" fill="#ececec"/>
<rect x="396.86" y="196.44" width="3.02" height="7.9" fill="#b03a9e"/>
<rect x="400.12" y="196.44" width="3.02" height="7.9" fill="#ececec"/>
<rect x="403.38" y="196.44" width="3.02" height="7.9" fill="#ececec"/>
<rect x="406.64" y="196.44" width="3.02" height="7.9" fill="#ececec"/>
<rect x="409.9" y="196.44" width="3.02" height="7.9" fill="#ececec"/>
<rect x="413.16" y="196.44" width="3.02" height="7.9" fill="#ececec"/>
<rect x="416.42" y="196.44" width="3.02" height="7.9" fill="#ececec"/>
<rect x="419.68" y="196.44" width="3.02" height="7.9" fill="#ececec"/>
<rect x="422.94" y="196.44" width="3.02" height="7.9" fill="#b03a9e"/>
<rect x="426.2" y="196.44" width="3.02" height="7.9" fill="#ececec"/>
<rect x="429.46" y="196.44" width="3.02" height="7.9" fill="#ececec"/>
<rect x="432.72" y="196.44" width="3.02" height="7.9" fill="#ececec"/>
<rect x="435.98" y="196.44" width="3.02" height="7.9" fill="#ececec"/>
<rect x="439.24" y="196.44" width="3.02" height="7.9" fill="#ececec"/>
<rect x="442.5" y="196.44" width="3.02" height="7.9" fill="#ececec"/>
<rect x="445.76" y="196.44" width="3.02" height="7.9" fill="#ececec"/>
<rect x="449.02" y="196.44" width="3.02" height="7.9" fill="#ececec"/>
<rect x="452.28" y="196.44" width="3.02" height="7.9" fill="#ececec"/>
<rect x="455.54" y="196.44" width="3.02" height="7.9" fill="#ececec"/>
<rect x="458.8" y="196.44" width="3.02" height="7.9" fill="#ececec"/>
<rect x="462.06" y="196.44" width="3.02" height="7.9" fill="#ececec"/>
<rect x="465.32" y="196.44" width="3.02" height="7.9" fill="#ececec"/>
<rect x="468.58" y="196.44" width="3.02" height="7.9" fill="#ececec"/>
<rect x="74.12" y="205.36" width="3.02" height="7.9" fill="#ececec"/>
<rect x="77.38" y="205.36" width="3.02" height="7.9" fill="#ececec"/>
<rect x="80.64" y="205.36" width="3.02" height="7.9" fill="#ececec"/>
<rect x="83.9" y="205.36" width="3.02" height="7.9" fill="#ececec"/>
<rect x="87.16" y="205.36" width="3.02" height="7.9" fill="#ececec"/>
<rect x="90.42" y="205.36" width="3.02" height="7.9" fill="#ececec"/>
<rect x="93.68" y="205.36" width="3.02" height="7.9" fill="#ececec"/>
<rect x="96.94" y="205.36" width="3.02" height="7.9" fill="#ececec"/>
<rect x="100.2" y="205.36" width="3.02" height="7.9" fill="#ececec"/>
<rect x="103.46" y="205.36" width="3.02" height="7.9" fill="#ececec"/>
<rect x="106.72" y="205.36" width="3.02" height="7.9" fill="#ececec"/>
<rect x="109.98" y="205.36" width="3.02" height="7.9" fill="#ececec"/>
<rect x="113.24" y="205.36" width="3.02" height="7.9" fill="#ececec"/>
<rect x="116.5" y="205.36" width="3.02" height="7.9" fill="#ececec"/>
<rect x="119.76" y="205.36" width="3.02" height="7.9" fill="#ececec"/>
<rect x="123.02" y="205.36" width="3.02" height="7.9" fill="#ececec"/>
<rect x="126.28" y="205.36" width="3.02" height="7.9" fill="#ececec"/>
<rect x="129.54" y="205.36" width="3.02" height="7.9" fill="#ececec"/>
<rect x="132.8" y="205.36" width="3.02" height="7.9" fill="#ececec"/>
<rect x="136.06" y="205.36" width="3.02" height="7.9" fill="#ececec"/>
<rect x="139.32" y="205.36" width="3.02" height="7.9" fill="#ececec"/>
<rect x="142.58" y="205.36" width="3.02" height="7.9" fill="#ececec"/>
<rect x="145.84" y="205.36" width="3.02" height="7.9" fill="#ececec"/>
<rect x="149.1" y="205.36" width="3.02" height="7.9" fill="#ececec"/>
<rect x="152.36" y="205.36" width="3.02" height="7.9" fill="#ececec"/>
<rect x="155.62" y="205.36" width="3.02" height="7.9" fill="#ececec"/>
<rect x="158.88" y="205.36" width="3.02" height="7.9" fill="#ececec"/>
<rect x="162.14" y="205.36" width="3.02" height="7.9" fill="#ececec"/>
<rect x="165.4" y="205.36" width="3.02" height="7.9" fill="#ececec"/>
<rect x="168.66" y="205.36" width="3.02" height="7.9" fill="#ececec"/>
<rect x="171.92" y="205.36" width="3.02" height="7.9" fill="#ececec"/>
<rect x="175.18" y="205.36" width="3.02" height="7.9" fill="#ececec"/>
<rect x="178.44" y="205.36" width="3.02" height="7.9" fill="#ececec"/>
<rect x="181.7" y="205.36" width="3.02" height="7.9" fill="#ececec"/>
<rect x="184.96" y="205.36" width="3.02" height="7.9" fill="#ececec"/>
<rect x="188.22" y="205.36" width="3.02" height="7.9" fill="#ececec"/>
<rect x="191.48" y="205.36" width="3.02" height="7.9" fill="#ececec"/>
<rect x="194.74" y="205.36" width="3.02" height="7.9" fill="#ececec"/>
<rect x="198" y="205.36" width="3.02" height="7.9" fill="#ececec"/>
<rect x="201.26" y="205.36" width="3.02" height="7.9" fill="#ececec"/>
<rect x="204.52" y="205.36" width="3.02" height="7.9" fill="#ececec"/>
<rect x="207.78" y="205.36" width="3.02" height="7.9" fill="#ececec"/>
<rect x="211.04" y="205.36" width="3.02" height="7.9" fill="#ececec"/>
<rect x="214.3" y="205.36" width="3.02" height="7.9" fill="#ececec"/>
<rect x="217.56" y="205.36" width="3.02" height="7.9" fill="#ececec"/>
<rect x="220.82" y="205.36" width="3.02" height="7.9" fill="#ececec"/>
<rect x="224.08" y="205.36" width="3.02" height="7.9" fill="#ececec"/>
<rect x="227.34" y="205.36" width="3.02" height="7.9" fill="#ececec"/>
<rect x="230.6" y="205.36" width="3.02" height="7.9" fill="#ececec"/>
<rect x="233.86" y="205.36" width="3.02" height="7.9" fill="#ececec"/>
<rect x="237.12" y="205.36" width="3.02" height="7.9" fill="#ececec"/>
<rect x="240.38" y="205.36" width="3.02" height="7.9" fill="#ececec"/>
<rect x="243.64" y="205.36" width="3.02" height="7.9" fill="#ececec"/>
<rect x="246.9" y="205.36" width="3.02" height="7.9" fill="#ececec"/>
<rect x="250.16" y="205.36" width="3.02" height="7.9" fill="#ececec"/>
<rect x="253.42" y="205.36" width="3.02" height="7.9" fill="#ececec"/>
<rect x="256.68" y="205.36" width="3.02" height="7.9" fill="#ececec"/>
<rect x="259.94" y="205.36" width="3.02" height="7.9" fill="#ececec"/>
<rect x="263.2" y="205.36" width="3.02" height="7.9" fill="#ececec"/>
<rect x="266.46" y="205.36" width="3.02" height="7.9" fill="#ececec"/>
<rect x="269.72" y="205.36" width="3.02" height="7.9" fill="#ececec"/>
<rect x="272.98" y="205.36" width="3.02" height="7.9" fill="#ececec"/>
<rect x="276.24" y="205.36" width="3.02" height="7.9" fill="#ececec"/>
<rect x="279.5" y="205.36" width="3.02" height="7.9" fill="#ececec"/>
<rect x="282.76" y="205.36" width="3.02" height="7.9" fill="#ececec"/>
<rect x="286.02" y="205.36" width="3.02" height="7.9" fill="#ececec"/>
<rect x="289.28" y="205.36" width="3.02" height="7.9" fill="#ececec"/>
<rect x="292.54" y="205.36" width="3.02" height="7.9" fill="#ececec"/>
<rect x="295.8" y="205.36" width="3.02" height="7.9" fill="#ececec"/>
<rect x="299.06" y="205.36" width="3.02" height="7.9" fill="#ececec"/>
<rect x="302.32" y="205.36" width="3.02" height="7.9" fill="#ececec"/>
<rect x="305.58" y="205.36" width="3.02" height="7.9" fill="#ececec"/>
<rect x="308.84" y="205.36" width="3.02" height="7.9" fill="#ececec"/>
<rect x="312.1" y="205.36" width="3.02" height="7.9" fill="#ececec"/>
<rect x="315.36" y="205.36" width="3.02" height="7.9" fill="#ececec"/>
<rect x="318.62" y="205.36" width="3.02" height="7.9" fill="#ececec"/>
<rect x="321.88" y="205.36" width="3.02" height="7.9" fill="#ececec"/>
<rect x="325.14" y="205.36" width="3.02" height="7.9" fill="#ececec"/>
<rect x="328.4" y="205.36" width="3.02" height="7.9" fill="#ececec"/>
<rect x="331.66" y="205.36" width="3.02" height="7.9" fill="#ececec"/>
<rect x="334.92" y="205.36" width="3.02" height="7.9" fill="#ececec"/>
<rect x="338.18" y="205.36" width="3.02" height="7.9" fill="#ececec"/>
<rect x="341.44" y="205.36" width="3.02" height="7.9" fill="#ececec"/>
<rect x="344.7" y="205.36" width="3.02" height="7.9" fill="#ececec"/>
<rect x="347.96" y="205.36" width="3.02" height="7.9" fill="#ececec"/>
<rect x="351.22" y="205.36" width="3.02" height="7.9" fill="#ececec"/>
<rect x="354.48" y="205.36" width="3.02" height="7.9" fill="#ececec"/>
<rect x="357.74" y="205.36" width="3.02" height="7.9" fill="#ececec"/>
<rect x="361" y="205.36" width="3.02" height="7.9" fill="#ececec"/>
<rect x="364.26" y="205.36" width="3.02" height="7.9" fill="#ececec"/>
<rect x="367.52" y="205.36" width="3.02" height="7.9" fill="#ececec"/>
<rect x="370.78" y="205.36" width="3.02" height="7.9" fill="#ececec"/>
<rect x="374.04" y="205.36" width="3.02" height="7.9" fill="#ececec"/>
<rect x="377.3" y="205.36" width="3.02" height="7.9" fill="#ececec"/>
<rect x="380.56" y="205.36" width="3.02" height="7.9" fill="#ececec"/>
<rect x="383.82" y="205.36" width="3.02" height="7.9" fill="#ececec"/>
<rect x="387.08" y="205.36" width="3.02" height="7.9" fill="#ececec"/>
<rect x="390.34" y="205.36" width="3.02" height="7.9" fill="#ececec"/>
<rect x="393.6" y="205.36" width="3.02" height="7.9" fill="#ececec"/>
<rect x="396.86" y="205.36" width="3.02" height="7.9" fill="#ececec"/>
<rect x="400.12" y="205.36" width="3.02" height="7.9" fill="#ececec"/>
<rect x="403.38" y="205.36" width="3.02" height="7.9" fill="#ececec"/>
<rect x="406.64" y="205.36" width="3.02" height="7.9" fill="#ececec"/>
<rect x="409.9" y="205.36" width="3.02" height="7.9" fill="#ececec"/>
<rect x="413.16" y="205.36" width="3.02" height="7.9" fill="#ececec"/>
<rect x="416.42" y="205.36" width="3.02" height="7.9" fill="#ececec"/>
<rect x="419.68" y="205.36" width="3.02" height="7.9" fill="#ececec"/>
<rect x="422.94" y="205.36" width="3.02" height="7.9" fill="#ececec"/>
<rect x="426.2" y="205.36" width="3.02" height="7.9" fill="#ececec"/>
<rect x="429.46" y="205.36" width="3.02" height="7.9" fill="#ececec"/>
<rect x="432.72" y="205.36" width="3.02" height="7.9" fill="#ececec"/>
<rect x="435.98" y="205.36" width="3.02" height="7.9" fill="#ececec"/>
<rect x="439.24" y="205.36" width="3.02" height="7.9" fill="#ececec"/>
<rect x="442.5" y="205.36" width="3.02" height="7.9" fill="#ececec"/>
<rect x="445.76" y="205.36" width="3.02" height="7.9" fill="#5cb85a"/>
<rect x="449.02" y="205.36" width="3.02" height="7.9" fill="#ececec"/>
<rect x="452.28" y="205.36" width="3.02" height="7.9" fill="#ececec"/>
<rect x="455.54" y="205.36" width="3.02" height="7.9" fill="#ececec"/>
<rect x="458.8" y="205.36" width="3.02" height="7.9" fill="#ececec"/>
<rect x="462.06" y="205.36" width="3.02" height="7.9" fill="#ececec"/>
<rect x="465.32" y="205.36" width="3.02" height="7.9" fill="#5cb85a"/>
<rect x="468.58" y="205.36" width="3.02" height="7.9" fill="#ececec"/>
<rect x="74.12" y="214.28" width="3.02" height="7.9" fill="#4cc24a"/>
<rect x="77.38" y="214.28" width="3.02" height="7.9" fill="#4cc24a"/>
<rect x="80.64" y="214.28" width="3.02" height="7.9" fill="#4cc24a"/>
<rect x="83.9" y="214.28" width="3.02" height="7.9" fill="#4cc24a"/>
<rect x="87.16" y="214.28" width="3.02" height="7.9" fill="#4cc24a"/>
<rect x="90.42" y="214.28" width="3.02" height="7.9" fill="#4cc24a"/>
<rect x="93.68" y="214.28" width="3.02" height="7.9" fill="#4cc24a"/>
<rect x="96.94" y="214.28" width="3.02" height="7.9" fill="#4cc24a"/>
<rect x="100.2" y="214.28" width="3.02" height="7.9" fill="#4cc24a"/>
<rect x="103.46" y="214.28" width="3.02" height="7.9" fill="#4cc24a"/>
<rect x="106.72" y="214.28" width="3.02" height="7.9" fill="#4cc24a"/>
<rect x="109.98" y="214.28" width="3.02" height="7.9" fill="#4cc24a"/>
<rect x="113.24" y="214.28" width="3.02" height="7.9" fill="#4cc24a"/>
<rect x="116.5" y="214.28" width="3.02" height="7.9" fill="#4cc24a"/>
<rect x="119.76" y="214.28" width="3.02" height="7.9" fill="#4cc24a"/>
<rect x="123.02" y="214.28" width="3.02" height="7.9" fill="#4cc24a"/>
<rect x="126.28" y="214.28" width="3.02" height="7.9" fill="#4cc24a"/>
<rect x="129.54" y="214.28" width="3.02" height="7.9" fill="#4cc24a"/>
<rect x="132.8" y="214.28" width="3.02" height="7.9" fill="#4cc24a"/>
<rect x="136.06" y="214.28" width="3.02" height="7.9" fill="#4cc24a"/>
<rect x="139.32" y="214.28" width="3.02" height="7.9" fill="#4cc24a"/>
<rect x="142.58" y="214.28" width="3.02" height="7.9" fill="#4cc24a"/>
<rect x="145.84" y="214.28" width="3.02" height="7.9" fill="#4cc24a"/>
<rect x="149.1" y="214.28" width="3.02" height="7.9" fill="#4cc24a"/>
<rect x="152.36" y="214.28" width="3.02" height="7.9" fill="#4cc24a"/>
<rect x="155.62" y="214.28" width="3.02" height="7.9" fill="#4cc24a"/>
<rect x="158.88" y="214.28" width="3.02" height="7.9" fill="#4cc24a"/>
<rect x="162.14" y="214.28" width="3.02" height="7.9" fill="#4cc24a"/>
<rect x="165.4" y="214.28" width="3.02" height="7.9" fill="#4cc24a"/>
<rect x="168.66" y="214.28" width="3.02" height="7.9" fill="#4cc24a"/>
<rect x="171.92" y="214.28" width="3.02" height="7.9" fill="#4cc24a"/>
<rect x="175.18" y="214.28" width="3.02" height="7.9" fill="#4cc24a"/>
<rect x="178.44" y="214.28" width="3.02" height="7.9" fill="#4cc24a"/>
<rect x="181.7" y="214.28" width="3.02" height="7.9" fill="#4cc24a"/>
<rect x="184.96" y="214.28" width="3.02" height="7.9" fill="#4cc24a"/>
<rect x="188.22" y="214.28" width="3.02" height="7.9" fill="#4cc24a"/>
<rect x="191.48" y="214.28" width="3.02" height="7.9" fill="#4cc24a"/>
<rect x="194.74" y="214.28" width="3.02" height="7.9" fill="#4cc24a"/>
<rect x="198" y="214.28" width="3.02" height="7.9" fill="#4cc24a"/>
<rect x="201.26" y="214.28" width="3.02" height="7.9" fill="#4cc24a"/>
<rect x="204.52" y="214.28" width="3.02" height="7.9" fill="#4cc24a"/>
<rect x="207.78" y="214.28" width="3.02" height="7.9" fill="#4cc24a"/>
<rect x="211.04" y="214.28" width="3.02" height="7.9" fill="#4cc24a"/>
<rect x="214.3" y="214.28" width="3.02" height="7.9" fill="#4cc24a"/>
<rect x="217.56" y="214.28" width="3.02" height="7.9" fill="#4cc24a"/>
<rect x="220.82" y="214.28" width="3.02" height="7.9" fill="#4cc24a"/>
<rect x="224.08" y="214.28" width="3.02" height="7.9" fill="#4cc24a"/>
<rect x="227.34" y="214.28" width="3.02" height="7.9" fill="#4cc24a"/>
<rect x="230.6" y="214.28" width="3.02" height="7.9" fill="#4cc24a"/>
<rect x="233.86" y="214.28" width="3.02" height="7.9" fill="#4cc24a"/>
<rect x="237.12" y="214.28" width="3.02" height="7.9" fill="#4cc24a"/>
<rect x="240.38" y="214.28" width="3.02" height="7.9" fill="#4cc24a"/>
<rect x="243.64" y="214.28" width="3.02" height="7.9" fill="#4cc24a"/>
<rect x="246.9" y="214.28" width="3.02" height="7.9" fill="#4cc24a"/>
<rect x="250.16" y="214.28" width="3.02" height="7.9" fill="#4cc24a"/>
<rect x="253.42" y="214.28" width="3.02" height="7.9" fill="#4cc24a"/>
<rect x="256.68" y="214.28" width="3.02" height="7.9" fill="#4cc24a"/>
<rect x="259.94" y="214.28" width="3.02" height="7.9" fill="#4cc24a"/>
<rect x="263.2" y="214.28" width="3.02" height="7.9" fill="#4cc24a"/>
<rect x="266.46" y="214.28" width="3.02" height="7.9" fill="#4cc24a"/>
<rect x="269.72" y="214.28" width="3.02" height="7.9" fill="#4cc24a"/>
<rect x="272.98" y="214.28" width="3.02" height="7.9" fill="#4cc24a"/>
<rect x="276.24" y="214.28" width="3.02" height="7.9" fill="#4cc24a"/>
<rect x="279.5" y="214.28" width="3.02" height="7.9" fill="#4cc24a"/>
<rect x="282.76" y="214.28" width="3.02" height="7.9" fill="#4cc24a"/>
<rect x="286.02" y="214.28" width="3.02" height="7.9" fill="#4cc24a"/>
<rect x="289.28" y="214.28" width="3.02" height="7.9" fill="#4cc24a"/>
<rect x="292.54" y="214.28" width="3.02" height="7.9" fill="#4cc24a"/>
<rect x="295.8" y="214.28" width="3.02" height="7.9" fill="#4cc24a"/>
<rect x="299.06" y="214.28" width="3.02" height="7.9" fill="#4cc24a"/>
<rect x="302.32" y="214.28" width="3.02" height="7.9" fill="#4cc24a"/>
<rect x="305.58" y="214.28" width="3.02" height="7.9" fill="#4cc24a"/>
<rect x="308.84" y="214.28" width="3.02" height="7.9" fill="#4cc24a"/>
<rect x="312.1" y="214.28" width="3.02" height="7.9" fill="#4cc24a"/>
<rect x="315.36" y="214.28" width="3.02" height="7.9" fill="#4cc24a"/>
<rect x="318.62" y="214.28" width="3.02" height="7.9" fill="#4cc24a"/>
<rect x="321.88" y="214.28" width="3.02" height="7.9" fill="#4cc24a"/>
<rect x="325.14" y="214.28" width="3.02" height="7.9" fill="#4cc24a"/>
<rect x="328.4" y="214.28" width="3.02" height="7.9" fill="#4cc24a"/>
<rect x="331.66" y="214.28" width="3.02" height="7.9" fill="#4cc24a"/>
<rect x="334.92" y="214.28" width="3.02" height="7.9" fill="#4cc24a"/>
<rect x="338.18" y="214.28" width="3.02" height="7.9" fill="#4cc24a"/>
<rect x="341.44" y="214.28" width="3.02" height="7.9" fill="#4cc24a"/>
<rect x="344.7" y="214.28" width="3.02" height="7.9" fill="#4cc24a"/>
<rect x="347.96" y="214.28" width="3.02" height="7.9" fill="#4cc24a"/>
<rect x="351.22" y="214.28" width="3.02" height="7.9" fill="#4cc24a"/>
<rect x="354.48" y="214.28" width="3.02" height="7.9" fill="#4cc24a"/>
<rect x="357.74" y="214.28" width="3.02" height="7.9" fill="#4cc24a"/>
<rect x="361" y="214.28" width="3.02" height="7.9" fill="#4cc24a"/>
<rect x="364.26" y="214.28" width="3.02" height="7.9" fill="#4cc24a"/>
<rect x="367.52" y="214.28" width="3.02" height="7.9" fill="#4cc24a"/>
<rect x="370.78" y="214.28" width="3.02" height="7.9" fill="#4cc24a"/>
<rect x="374.04" y="214.28" width="3.02" height="7.9" fill="#4cc24a"/>
<rect x="377.3" y="214.28" width="3.02" height="7.9" fill="#4cc24a"/>
<rect x="380.56" y="214.28" width="3.02" height="7.9" fill="#4cc24a"/>
<rect x="383.82" y="214.28" width="3.02" height="7.9" fill="#4cc24a"/>
<rect x="387.08" y="214.28" width="3.02" height="7.9" fill="#db2530"/>
<rect x="390.34" y="214.28" width="3.02" height="7.9" fill="#db2530"/>
<rect x="393.6" y="214.28" width="3.02" height="7.9" fill="#db2530"/>
<rect x="396.86" y="214.28" width="3.02" height="7.9" fill="#db2530"/>
<rect x="400.12" y="214.28" width="3.02" height="7.9" fill="#db2530"/>
<rect x="403.38" y="214.28" width="3.02" height="7.9" fill="#db2530"/>
<rect x="406.64" y="214.28" width="3.02" height="7.9" fill="#db2530"/>
<rect x="409.9" y="214.28" width="3.02" height="7.9" fill="#db2530"/>
<rect x="413.16" y="214.28" width="3.02" height="7.9" fill="#db2530"/>
<rect x="416.42" y="214.28" width="3.02" height="7.9" fill="#db2530"/>
<rect x="419.68" y="214.28" width="3.02" height="7.9" fill="#db2530"/>
<rect x="422.94" y="214.28" width="3.02" height="7.9" fill="#db2530"/>
<rect x="426.2" y="214.28" width="3.02" height="7.9" fill="#db2530"/>
<rect x="429.46" y="214.28" width="3.02" height="7.9" fill="#db2530"/>
<rect x="432.72" y="214.28" width="3.02" height="7.9" fill="#db2530"/>
<rect x="435.98" y="214.28" width="3.02" height="7.9" fill="#db2530"/>
<rect x="439.24" y="214.28" width="3.02" height="7.9" fill="#db2530"/>
<rect x="442.5" y="214.28" width="3.02" height="7.9" fill="#db2530"/>
<rect x="445.76" y="214.28" width="3.02" height="7.9" fill="#db2530"/>
<rect x="449.02" y="214.28" width="3.02" height="7.9" fill="#db2530"/>
<rect x="452.28" y="214.28" width="3.02" height="7.9" fill="#db2530"/>
<rect x="455.54" y="214.28" width="3.02" height="7.9" fill="#db2530"/>
<rect x="458.8" y="214.28" width="3.02" height="7.9" fill="#db2530"/>
<rect x="462.06" y="214.28" width="3.02" height="7.9" fill="#db2530"/>
<rect x="465.32" y="214.28" width="3.02" height="7.9" fill="#db2530"/>
<rect x="468.58" y="214.28" width="3.02" height="7.9" fill="#db2530"/>
<rect x="74.12" y="223.2" width="3.02" height="7.9" fill="#ffffff"/>
<rect x="77.38" y="223.2" width="3.02" height="7.9" fill="#50c24e"/>
<rect x="80.64" y="223.2" width="3.02" height="7.9" fill="#50c24e"/>
<rect x="83.9" y="223.2" width="3.02" height="7.9" fill="#50c24e"/>
<rect x="87.16" y="223.2" width="3.02" height="7.9" fill="#50c24e"/>
<rect x="90.42" y="223.2" width="3.02" height="7.9" fill="#50c24e"/>
<rect x="93.68" y="223.2" width="3.02" height="7.9" fill="#ffffff"/>
<rect x="96.94" y="223.2" width="3.02" height="7.9" fill="#50c24e"/>
<rect x="100.2" y="223.2" width="3.02" height="7.9" fill="#ffffff"/>
<rect x="103.46" y="223.2" width="3.02" height="7.9" fill="#50c24e"/>
<rect x="106.72" y="223.2" width="3.02" height="7.9" fill="#ffffff"/>
<rect x="109.98" y="223.2" width="3.02" height="7.9" fill="#50c24e"/>
<rect x="113.24" y="223.2" width="3.02" height="7.9" fill="#ffffff"/>
<rect x="116.5" y="223.2" width="3.02" height="7.9" fill="#ffffff"/>
<rect x="119.76" y="223.2" width="3.02" height="7.9" fill="#ffffff"/>
<rect x="123.02" y="223.2" width="3.02" height="7.9" fill="#50c24e"/>
<rect x="126.28" y="223.2" width="3.02" height="7.9" fill="#50c24e"/>
<rect x="129.54" y="223.2" width="3.02" height="7.9" fill="#50c24e"/>
<rect x="132.8" y="223.2" width="3.02" height="7.9" fill="#ffffff"/>
<rect x="136.06" y="223.2" width="3.02" height="7.9" fill="#50c24e"/>
<rect x="139.32" y="223.2" width="3.02" height="7.9" fill="#ffffff"/>
<rect x="142.58" y="223.2" width="3.02" height="7.9" fill="#50c24e"/>
<rect x="145.84" y="223.2" width="3.02" height="7.9" fill="#50c24e"/>
<rect x="149.1" y="223.2" width="3.02" height="7.9" fill="#50c24e"/>
<rect x="152.36" y="223.2" width="3.02" height="7.9" fill="#50c24e"/>
<rect x="155.62" y="223.2" width="3.02" height="7.9" fill="#50c24e"/>
<rect x="158.88" y="223.2" width="3.02" height="7.9" fill="#50c24e"/>
<rect x="162.14" y="223.2" width="3.02" height="7.9" fill="#ffffff"/>
<rect x="165.4" y="223.2" width="3.02" height="7.9" fill="#ffffff"/>
<rect x="168.66" y="223.2" width="3.02" height="7.9" fill="#50c24e"/>
<rect x="171.92" y="223.2" width="3.02" height="7.9" fill="#ffffff"/>
<rect x="175.18" y="223.2" width="3.02" height="7.9" fill="#50c24e"/>
<rect x="178.44" y="223.2" width="3.02" height="7.9" fill="#ffffff"/>
<rect x="181.7" y="223.2" width="3.02" height="7.9" fill="#50c24e"/>
<rect x="184.96" y="223.2" width="3.02" height="7.9" fill="#ffffff"/>
<rect x="188.22" y="223.2" width="3.02" height="7.9" fill="#50c24e"/>
<rect x="191.48" y="223.2" width="3.02" height="7.9" fill="#ffffff"/>
<rect x="194.74" y="223.2" width="3.02" height="7.9" fill="#ffffff"/>
<rect x="198" y="223.2" width="3.02" height="7.9" fill="#50c24e"/>
<rect x="201.26" y="223.2" width="3.02" height="7.9" fill="#50c24e"/>
<rect x="204.52" y="223.2" width="3.02" height="7.9" fill="#50c24e"/>
<rect x="207.78" y="223.2" width="3.02" height="7.9" fill="#50c24e"/>
<rect x="211.04" y="223.2" width="3.02" height="7.9" fill="#ffffff"/>
<rect x="214.3" y="223.2" width="3.02" height="7.9" fill="#ffffff"/>
<rect x="217.56" y="223.2" width="3.02" height="7.9" fill="#ffffff"/>
<rect x="220.82" y="223.2" width="3.02" height="7.9" fill="#50c24e"/>
<rect x="224.08" y="223.2" width="3.02" height="7.9" fill="#50c24e"/>
<rect x="227.34" y="223.2" width="3.02" height="7.9" fill="#ffffff"/>
<rect x="230.6" y="223.2" width="3.02" height="7.9" fill="#ffffff"/>
<rect x="233.86" y="223.2" width="3.02" height="7.9" fill="#50c24e"/>
<rect x="237.12" y="223.2" width="3.02" height="7.9" fill="#50c24e"/>
<rect x="240.38" y="223.2" width="3.02" height="7.9" fill="#50c24e"/>
<rect x="243.64" y="223.2" width="3.02" height="7.9" fill="#ffffff"/>
<rect x="246.9" y="223.2" width="3.02" height="7.9" fill="#50c24e"/>
<rect x="250.16" y="223.2" width="3.02" height="7.9" fill="#50c24e"/>
<rect x="253.42" y="223.2" width="3.02" height="7.9" fill="#50c24e"/>
<rect x="256.68" y="223.2" width="3.02" height="7.9" fill="#ffffff"/>
<rect x="259.94" y="223.2" width="3.02" height="7.9" fill="#50c24e"/>
<rect x="263.2" y="223.2" width="3.02" height="7.9" fill="#50c24e"/>
<rect x="266.46" y="223.2" width="3.02" height="7.9" fill="#50c24e"/>
<rect x="269.72" y="223.2" width="3.02" height="7.9" fill="#50c24e"/>
<rect x="272.98" y="223.2" width="3.02" height="7.9" fill="#ffffff"/>
<rect x="276.24" y="223.2" width="3.02" height="7.9" fill="#50c24e"/>
<rect x="279.5" y="223.2" width="3.02" height="7.9" fill="#50c24e"/>
<rect x="282.76" y="223.2" width="3.02" height="7.9" fill="#ffffff"/>
<rect x="286.02" y="223.2" width="3.02" height="7.9" fill="#50c24e"/>
<rect x="289.28" y="223.2" width="3.02" height="7.9" fill="#ffffff"/>
<rect x="292.54" y="223.2" width="3.02" height="7.9" fill="#50c24e"/>
<rect x="295.8" y="223.2" width="3.02" height="7.9" fill="#50c24e"/>
<rect x="299.06" y="223.2" width="3.02" height="7.9" fill="#50c24e"/>
<rect x="302.32" y="223.2" width="3.02" height="7.9" fill="#50c24e"/>
<rect x="305.58" y="223.2" width="3.02" height="7.9" fill="#50c24e"/>
<rect x="308.84" y="223.2" width="3.02" height="7.9" fill="#50c24e"/>
<rect x="312.1" y="223.2" width="3.02" height="7.9" fill="#ffffff"/>
<rect x="315.36" y="223.2" width="3.02" height="7.9" fill="#50c24e"/>
<rect x="318.62" y="223.2" width="3.02" height="7.9" fill="#ffffff"/>
<rect x="321.88" y="223.2" width="3.02" height="7.9" fill="#50c24e"/>
<rect x="325.14" y="223.2" width="3.02" height="7.9" fill="#50c24e"/>
<rect x="328.4" y="223.2" width="3.02" height="7.9" fill="#50c24e"/>
<rect x="331.66" y="223.2" width="3.02" height="7.9" fill="#ffffff"/>
<rect x="334.92" y="223.2" width="3.02" height="7.9" fill="#ffffff"/>
<rect x="338.18" y="223.2" width="3.02" height="7.9" fill="#50c24e"/>
<rect x="341.44" y="223.2" width="3.02" height="7.9" fill="#50c24e"/>
<rect x="344.7" y="223.2" width="3.02" height="7.9" fill="#50c24e"/>
<rect x="347.96" y="223.2" width="3.02" height="7.9" fill="#50c24e"/>
<rect x="351.22" y="223.2" width="3.02" height="7.9" fill="#50c24e"/>
<rect x="354.48" y="223.2" width="3.02" height="7.9" fill="#ffffff"/>
<rect x="357.74" y="223.2" width="3.02" height="7.9" fill="#50c24e"/>
<rect x="361" y="223.2" width="3.02" height="7.9" fill="#ffffff"/>
<rect x="364.26" y="223.2" width="3.02" height="7.9" fill="#50c24e"/>
<rect x="367.52" y="223.2" width="3.02" height="7.9" fill="#ffffff"/>
<rect x="370.78" y="223.2" width="3.02" height="7.9" fill="#ffffff"/>
<rect x="374.04" y="223.2" width="3.02" height="7.9" fill="#50c24e"/>
<rect x="377.3" y="223.2" width="3.02" height="7.9" fill="#50c24e"/>
<rect x="380.56" y="223.2" width="3.02" height="7.9" fill="#50c24e"/>
<rect x="383.82" y="223.2" width="3.02" height="7.9" fill="#50c24e"/>
<rect x="387.08" y="223.2" width="3.02" height="7.9" fill="#50c24e"/>
<rect x="390.34" y="223.2" width="3.02" height="7.9" fill="#50c24e"/>
<rect x="393.6" y="223.2" width="3.02" height="7.9" fill="#50c24e"/>
<rect x="396.86" y="223.2" width="3.02" height="7.9" fill="#50c24e"/>
<rect x="400.12" y="223.2" width="3.02" height="7.9" fill="#ffffff"/>
<rect x="403.38" y="223.2" width="3.02" height="7.9" fill="#ffffff"/>
<rect x="406.64" y="223.2" width="3.02" height="7.9" fill="#50c24e"/>
<rect x="409.9" y="223.2" width="3.02" height="7.9" fill="#50c24e"/>
<rect x="413.16" y="223.2" width="3.02" height="7.9" fill="#50c24e"/>
<rect x="416.42" y="223.2" width="3.02" height="7.9" fill="#ffffff"/>
<rect x="419.68" y="223.2" width="3.02" height="7.9" fill="#50c24e"/>
<rect x="422.94" y="223.2" width="3.02" height="7.9" fill="#50c24e"/>
<rect x="426.2" y="223.2" width="3.02" height="7.9" fill="#50c24e"/>
<rect x="429.46" y="223.2" width="3.02" height="7.9" fill="#50c24e"/>
<rect x="432.72" y="223.2" width="3.02" height="7.9" fill="#50c24e"/>
<rect x="435.98" y="223.2" width="3.02" height="7.9" fill="#ffffff"/>
<rect x="439.24" y="223.2" width="3.02" height="7.9" fill="#50c24e"/>
<rect x="442.5" y="223.2" width="3.02" height="7.9" fill="#ffffff"/>
<rect x="445.76" y="223.2" width="3.02" height="7.9" fill="#50c24e"/>
<rect x="449.02" y="223.2" width="3.02" height="7.9" fill="#ffffff"/>
<rect x="452.28" y="223.2" width="3.02" height="7.9" fill="#50c24e"/>
<rect x="455.54" y="223.2" width="3.02" height="7.9" fill="#ffffff"/>
<rect x="458.8" y="223.2" width="3.02" height="7.9" fill="#50c24e"/>
<rect x="462.06" y="223.2" width="3.02" height="7.9" fill="#ffffff"/>
<rect x="465.32" y="223.2" width="3.02" height="7.9" fill="#50c24e"/>
<rect x="468.58" y="223.2" width="3.02" height="7.9" fill="#ffffff"/>
<rect x="74.12" y="232.12" width="3.02" height="7.9" fill="#a8141e"/>
<rect x="77.38" y="232.12" width="3.02" height="7.9" fill="#3d9a3c"/>
<rect x="80.64" y="232.12" width="3.02" height="7.9" fill="#db2530"/>
<rect x="83.9" y="232.12" width="3.02" height="7.9" fill="#db2530"/>
<rect x="87.16" y="232.12" width="3.02" height="7.9" fill="#42b043"/>
<rect x="90.42" y="232.12" width="3.02" height="7.9" fill="#42b043"/>
<rect x="93.68" y="232.12" width="3.02" height="7.9" fill="#db2530"/>
<rect x="96.94" y="232.12" width="3.02" height="7.9" fill="#db2530"/>
<rect x="100.2" y="232.12" width="3.02" height="7.9" fill="#db2530"/>
<rect x="103.46" y="232.12" width="3.02" height="7.9" fill="#db2530"/>
<rect x="106.72" y="232.12" width="3.02" height="7.9" fill="#2c3f98"/>
<rect x="109.98" y="232.12" width="3.02" height="7.9" fill="#e38a2c"/>
<rect x="113.24" y="232.12" width="3.02" height="7.9" fill="#e38a2c"/>
<rect x="116.5" y="232.12" width="3.02" height="7.9" fill="#3d9a3c"/>
<rect x="119.76" y="232.12" width="3.02" height="7.9" fill="#42b043"/>
<rect x="123.02" y="232.12" width="3.02" height="7.9" fill="#42b043"/>
<rect x="126.28" y="232.12" width="3.02" height="7.9" fill="#e38a2c"/>
<rect x="129.54" y="232.12" width="3.02" height="7.9" fill="#2c3f98"/>
<rect x="132.8" y="232.12" width="3.02" height="7.9" fill="#42b043"/>
<rect x="136.06" y="232.12" width="3.02" height="7.9" fill="#db2530"/>
<rect x="139.32" y="232.12" width="3.02" height="7.9" fill="#42b043"/>
<rect x="142.58" y="232.12" width="3.02" height="7.9" fill="#db2530"/>
<rect x="145.84" y="232.12" width="3.02" height="7.9" fill="#db2530"/>
<rect x="149.1" y="232.12" width="3.02" height="7.9" fill="#2c3f98"/>
<rect x="152.36" y="232.12" width="3.02" height="7.9" fill="#db2530"/>
<rect x="155.62" y="232.12" width="3.02" height="7.9" fill="#db2530"/>
<rect x="158.88" y="232.12" width="3.02" height="7.9" fill="#42b043"/>
<rect x="162.14" y="232.12" width="3.02" height="7.9" fill="#db2530"/>
<rect x="165.4" y="232.12" width="3.02" height="7.9" fill="#42b043"/>
<rect x="168.66" y="232.12" width="3.02" height="7.9" fill="#db2530"/>
<rect x="171.92" y="232.12" width="3.02" height="7.9" fill="#e38a2c"/>
<rect x="175.18" y="232.12" width="3.02" height="7.9" fill="#db2530"/>
<rect x="178.44" y="232.12" width="3.02" height="7.9" fill="#db2530"/>
<rect x="181.7" y="232.12" width="3.02" height="7.9" fill="#42b043"/>
<rect x="184.96" y="232.12" width="3.02" height="7.9" fill="#db2530"/>
<rect x="188.22" y="232.12" width="3.02" height="7.9" fill="#db2530"/>
<rect x="191.48" y="232.12" width="3.02" height="7.9" fill="#e38a2c"/>
<rect x="194.74" y="232.12" width="3.02" height="7.9" fill="#2c3f98"/>
<rect x="198" y="232.12" width="3.02" height="7.9" fill="#42b043"/>
<rect x="201.26" y="232.12" width="3.02" height="7.9" fill="#db2530"/>
<rect x="204.52" y="232.12" width="3.02" height="7.9" fill="#db2530"/>
<rect x="207.78" y="232.12" width="3.02" height="7.9" fill="#db2530"/>
<rect x="211.04" y="232.12" width="3.02" height="7.9" fill="#42b043"/>
<rect x="214.3" y="232.12" width="3.02" height="7.9" fill="#db2530"/>
<rect x="217.56" y="232.12" width="3.02" height="7.9" fill="#e38a2c"/>
<rect x="220.82" y="232.12" width="3.02" height="7.9" fill="#db2530"/>
<rect x="224.08" y="232.12" width="3.02" height="7.9" fill="#42b043"/>
<rect x="227.34" y="232.12" width="3.02" height="7.9" fill="#db2530"/>
<rect x="230.6" y="232.12" width="3.02" height="7.9" fill="#db2530"/>
<rect x="233.86" y="232.12" width="3.02" height="7.9" fill="#2c3f98"/>
<rect x="237.12" y="232.12" width="3.02" height="7.9" fill="#db2530"/>
<rect x="240.38" y="232.12" width="3.02" height="7.9" fill="#42b043"/>
<rect x="243.64" y="232.12" width="3.02" height="7.9" fill="#e38a2c"/>
<rect x="246.9" y="232.12" width="3.02" height="7.9" fill="#42b043"/>
<rect x="250.16" y="232.12" width="3.02" height="7.9" fill="#db2530"/>
<rect x="253.42" y="232.12" width="3.02" height="7.9" fill="#db2530"/>
<rect x="256.68" y="232.12" width="3.02" height="7.9" fill="#db2530"/>
<rect x="259.94" y="232.12" width="3.02" height="7.9" fill="#42b043"/>
<rect x="263.2" y="232.12" width="3.02" height="7.9" fill="#db2530"/>
<rect x="266.46" y="232.12" width="3.02" height="7.9" fill="#2c3f98"/>
<rect x="269.72" y="232.12" width="3.02" height="7.9" fill="#42b043"/>
<rect x="272.98" y="232.12" width="3.02" height="7.9" fill="#2c3f98"/>
<rect x="276.24" y="232.12" width="3.02" height="7.9" fill="#db2530"/>
<rect x="279.5" y="232.12" width="3.02" height="7.9" fill="#2c3f98"/>
<rect x="282.76" y="232.12" width="3.02" height="7.9" fill="#42b043"/>
<rect x="286.02" y="232.12" width="3.02" height="7.9" fill="#42b043"/>
<rect x="289.28" y="232.12" width="3.02" height="7.9" fill="#db2530"/>
<rect x="292.54" y="232.12" width="3.02" height="7.9" fill="#db2530"/>
<rect x="295.8" y="232.12" width="3.02" height="7.9" fill="#db2530"/>
<rect x="299.06" y="232.12" width="3.02" height="7.9" fill="#db2530"/>
<rect x="302.32" y="232.12" width="3.02" height="7.9" fill="#42b043"/>
<rect x="305.58" y="232.12" width="3.02" height="7.9" fill="#e38a2c"/>
<rect x="308.84" y="232.12" width="3.02" height="7.9" fill="#db2530"/>
<rect x="312.1" y="232.12" width="3.02" height="7.9" fill="#db2530"/>
<rect x="315.36" y="232.12" width="3.02" height="7.9" fill="#42b043"/>
<rect x="318.62" y="232.12" width="3.02" height="7.9" fill="#2c3f98"/>
<rect x="321.88" y="232.12" width="3.02" height="7.9" fill="#db2530"/>
<rect x="325.14" y="232.12" width="3.02" height="7.9" fill="#2c3f98"/>
<rect x="328.4" y="232.12" width="3.02" height="7.9" fill="#e38a2c"/>
<rect x="331.66" y="232.12" width="3.02" height="7.9" fill="#e38a2c"/>
<rect x="334.92" y="232.12" width="3.02" height="7.9" fill="#42b043"/>
<rect x="338.18" y="232.12" width="3.02" height="7.9" fill="#db2530"/>
<rect x="341.44" y="232.12" width="3.02" height="7.9" fill="#42b043"/>
<rect x="344.7" y="232.12" width="3.02" height="7.9" fill="#db2530"/>
<rect x="347.96" y="232.12" width="3.02" height="7.9" fill="#42b043"/>
<rect x="351.22" y="232.12" width="3.02" height="7.9" fill="#42b043"/>
<rect x="354.48" y="232.12" width="3.02" height="7.9" fill="#2c3f98"/>
<rect x="357.74" y="232.12" width="3.02" height="7.9" fill="#db2530"/>
<rect x="361" y="232.12" width="3.02" height="7.9" fill="#42b043"/>
<rect x="364.26" y="232.12" width="3.02" height="7.9" fill="#db2530"/>
<rect x="367.52" y="232.12" width="3.02" height="7.9" fill="#42b043"/>
<rect x="370.78" y="232.12" width="3.02" height="7.9" fill="#42b043"/>
<rect x="374.04" y="232.12" width="3.02" height="7.9" fill="#42b043"/>
<rect x="377.3" y="232.12" width="3.02" height="7.9" fill="#db2530"/>
<rect x="380.56" y="232.12" width="3.02" height="7.9" fill="#2c3f98"/>
<rect x="383.82" y="232.12" width="3.02" height="7.9" fill="#db2530"/>
<rect x="387.08" y="232.12" width="3.02" height="7.9" fill="#e38a2c"/>
<rect x="390.34" y="232.12" width="3.02" height="7.9" fill="#42b043"/>
<rect x="393.6" y="232.12" width="3.02" height="7.9" fill="#db2530"/>
<rect x="396.86" y="232.12" width="3.02" height="7.9" fill="#db2530"/>
<rect x="400.12" y="232.12" width="3.02" height="7.9" fill="#e38a2c"/>
<rect x="403.38" y="232.12" width="3.02" height="7.9" fill="#db2530"/>
<rect x="406.64" y="232.12" width="3.02" height="7.9" fill="#db2530"/>
<rect x="409.9" y="232.12" width="3.02" height="7.9" fill="#db2530"/>
<rect x="413.16" y="232.12" width="3.02" height="7.9" fill="#db2530"/>
<rect x="416.42" y="232.12" width="3.02" height="7.9" fill="#db2530"/>
<rect x="419.68" y="232.12" width="3.02" height="7.9" fill="#db2530"/>
<rect x="422.94" y="232.12" width="3.02" height="7.9" fill="#db2530"/>
<rect x="426.2" y="232.12" width="3.02" height="7.9" fill="#db2530"/>
<rect x="429.46" y="232.12" width="3.02" height="7.9" fill="#3d9a3c"/>
<rect x="432.72" y="232.12" width="3.02" height="7.9" fill="#db2530"/>
<rect x="435.98" y="232.12" width="3.02" height="7.9" fill="#db2530"/>
<rect x="439.24" y="232.12" width="3.02" height="7.9" fill="#db2530"/>
<rect x="442.5" y="232.12" width="3.02" height="7.9" fill="#e38a2c"/>
<rect x="445.76" y="232.12" width="3.02" height="7.9" fill="#e38a2c"/>
<rect x="449.02" y="232.12" width="3.02" height="7.9" fill="#e38a2c"/>
<rect x="452.28" y="232.12" width="3.02" height="7.9" fill="#db2530"/>
<rect x="455.54" y="232.12" width="3.02" height="7.9" fill="#db2530"/>
<rect x="458.8" y="232.12" width="3.02" height="7.9" fill="#db2530"/>
<rect x="462.06" y="232.12" width="3.02" height="7.9" fill="#42b043"/>
<rect x="465.32" y="232.12" width="3.02" height="7.9" fill="#db2530"/>
<rect x="468.58" y="232.12" width="3.02" height="7.9" fill="#42b043"/>
<text x="1.8" y="273" font-size="15.8" font-weight="bold" fill="#111">B</text>
<text x="54.2" y="286.7" font-size="7" fill="#b8364f" textLength="26.6" lengthAdjust="spacingAndGlyphs">PHOX2B</text>
<rect x="88.8" y="281.6" width="14.3" height="4.9" fill="#f3979f"/>
<rect x="441.8" y="281.6" width="17.1" height="5.2" fill="#f3979f"/>
<rect x="165" y="282.3" width="29.3" height="3" fill="#f9c3c7"/>
<rect x="257.4" y="282.3" width="38.8" height="3" fill="#f9c3c7"/>
<rect x="103.1" y="276.4" width="61.9" height="15.5" fill="#ad0f2c"/>
<rect x="194.3" y="276.4" width="43" height="15.5" fill="#ad0f2c"/>
<rect x="237.3" y="276.4" width="20.1" height="15.5" fill="#7ac143"/>
<rect x="296.2" y="276.4" width="9.5" height="15.5" fill="#7ac143"/>
<rect x="305.7" y="276.4" width="34" height="15.5" fill="#ad0f2c"/>
<rect x="339.7" y="276.4" width="28.4" height="15.5" fill="#3b93d6"/>
<rect x="368.1" y="276.4" width="73.7" height="15.5" fill="#ad0f2c"/>
<line x1="236.2" y1="292.6" x2="236.2" y2="298.5" stroke="#333" stroke-width="0.9"/>
<line x1="316.6" y1="292.6" x2="316.6" y2="298.9" stroke="#333" stroke-width="0.9"/>
<line x1="347.7" y1="292.6" x2="347.7" y2="298.5" stroke="#333" stroke-width="0.9"/>
<line x1="351.5" y1="292.6" x2="351.5" y2="298.5" stroke="#333" stroke-width="0.9"/>
<line x1="351.2" y1="307.6" x2="351.2" y2="310.9" stroke="#333" stroke-width="0.9"/>
<line x1="350.8" y1="269.8" x2="350.8" y2="275.8" stroke="#333" stroke-width="0.9"/>
<text x="226" y="305.6" font-size="7.3" fill="#222" textLength="20" lengthAdjust="spacingAndGlyphs">del 8nt</text>
<text x="306.9" y="306.1" font-size="7.3" fill="#222" textLength="23.1" lengthAdjust="spacingAndGlyphs">del 38nt</text>
<text x="335.7" y="306.1" font-size="7.3" fill="#222" textLength="25.5" lengthAdjust="spacingAndGlyphs">dup 13nt</text>
<text x="342.8" y="316.9" font-size="7.3" fill="#222" textLength="24.9" lengthAdjust="spacingAndGlyphs">dup 17nt</text>
<text x="342.8" y="324.5" font-size="7.3" fill="#222" textLength="23" lengthAdjust="spacingAndGlyphs">del 28nt</text>
<text x="340" y="268.9" font-size="7.3" fill="#222" textLength="22.8" lengthAdjust="spacingAndGlyphs">del 20nt</text>
<rect x="132.7" y="324.2" width="15" height="14.5" fill="#7ac143" stroke="#231f20" stroke-width="1"/>
<rect x="220.8" y="324.3" width="14.9" height="14.4" fill="#3b93d6" stroke="#231f20" stroke-width="1"/>
<text x="153" y="334.5" font-size="8" fill="#222" textLength="50.8" lengthAdjust="spacingAndGlyphs">Homeodomain</text>
<text x="240.8" y="334.5" font-size="8" fill="#222" textLength="68.2" lengthAdjust="spacingAndGlyphs">Poly A repeat region</text>
<text x="0.6" y="369.1" font-size="15.8" font-weight="bold" fill="#111">C</text>
<text x="260.6" y="369.1" font-size="15.8" font-weight="bold" fill="#111">D</text>
<text x="0.9" y="382.6" font-size="5.6" fill="#333" textLength="13.8" lengthAdjust="spacingAndGlyphs">Chr 19</text>
<text x="275.9" y="382.6" font-size="5.6" fill="#333" textLength="11.8" lengthAdjust="spacingAndGlyphs">Chr X</text>
<rect x="17.3" y="379.1" width="21.3" height="3.2" fill="#ffffff"/>
<rect x="38.6" y="379.1" width="19.7" height="3.2" fill="#a6a6a6"/>
<rect x="58.3" y="379.1" width="1.1" height="3.2" fill="#ffffff"/>
<rect x="59.4" y="379.1" width="1.7" height="3.2" fill="#ffffff"/>
<rect x="61.1" y="379.1" width="1.2" height="3.2" fill="#c2c2c2"/>
<rect x="62.3" y="379.1" width="6.3" height="3.2" fill="#a6a6a6"/>
<rect x="68.6" y="379.1" width="12.4" height="3.2" fill="#ffffff"/>
<rect x="81" y="379.1" width="22.4" height="3.2" fill="#1a9a7e"/>
<rect x="103.4" y="379.1" width="11" height="3.2" fill="#e8a21c"/>
<rect x="114.4" y="379.1" width="22.1" height="3.2" fill="#1a9a7e"/>
<rect x="136.5" y="379.1" width="8.7" height="3.2" fill="#ffffff"/>
<rect x="145.2" y="379.1" width="6.9" height="3.2" fill="#a6a6a6"/>
<rect x="152.1" y="379.1" width="16.2" height="3.2" fill="#c2c2c2"/>
<rect x="168.3" y="379.1" width="2.8" height="3.2" fill="#444"/>
<rect x="171.1" y="379.1" width="5.9" height="3.2" fill="#ffffff"/>
<rect x="177" y="379.1" width="0.9" height="3.2" fill="#c2c2c2"/>
<rect x="177.9" y="379.1" width="11.5" height="3.2" fill="#a6a6a6"/>
<rect x="189.4" y="379.1" width="11.6" height="3.2" fill="#ffffff"/>
<rect x="201" y="379.1" width="5.1" height="3.2" fill="#a6a6a6"/>
<rect x="206.1" y="379.1" width="7.5" height="3.2" fill="#ffffff"/>
<rect x="213.6" y="379.1" width="8.7" height="3.2" fill="#a6a6a6"/>
<rect x="17.3" y="379.1" width="205" height="3.2" fill="none" stroke="#4a4a4a" stroke-width="0.8"/>
<line x1="108" y1="379" x2="108" y2="382.4" stroke="#8a5a00" stroke-width="0.5"/><line x1="112.7" y1="379" x2="112.7" y2="382.4" stroke="#8a5a00" stroke-width="0.5"/>
<path d="M168.6 377.8 L171 377.8 L169.8 380.7 L171 383.6 L168.6 383.6 L169.8 380.7 Z" fill="#222"/>
<rect x="289.4" y="379.1" width="5.4" height="3.2" fill="#ffffff"/>
<rect x="294.8" y="379.1" width="1.2" height="3.2" fill="#333"/>
<rect x="296" y="379.1" width="2.8" height="3.2" fill="#ffffff"/>
<rect x="298.8" y="379.1" width="4.1" height="3.2" fill="#666"/>
<rect x="302.9" y="379.1" width="10.4" height="3.2" fill="#a6a6a6"/>
<rect x="313.3" y="379.1" width="1.7" height="3.2" fill="#ffffff"/>
<rect x="315" y="379.1" width="1" height="3.2" fill="#444"/>
<rect x="316" y="379.1" width="2.4" height="3.2" fill="#ffffff"/>
<rect x="318.4" y="379.1" width="1.2" height="3.2" fill="#444"/>
<rect x="319.6" y="379.1" width="1.9" height="3.2" fill="#ffffff"/>
<rect x="321.5" y="379.1" width="17.7" height="3.2" fill="#111111"/>
<rect x="339.2" y="379.1" width="5.4" height="3.2" fill="#ffffff"/>
<rect x="344.6" y="379.1" width="7.7" height="3.2" fill="#111111"/>
<rect x="352.3" y="379.1" width="0.7" height="3.2" fill="#ffffff"/>
<rect x="353" y="379.1" width="8.5" height="3.2" fill="#c4cadf"/>
<rect x="361.5" y="379.1" width="2.3" height="3.2" fill="#222"/>
<rect x="363.8" y="379.1" width="11.6" height="3.2" fill="#d6a52a"/>
<rect x="375.4" y="379.1" width="3.1" height="3.2" fill="#222"/>
<rect x="378.5" y="379.1" width="6.1" height="3.2" fill="#cdd2e2"/>
<rect x="384.6" y="379.1" width="4.2" height="3.2" fill="#f2f2f2"/>
<rect x="388.8" y="379.1" width="12.4" height="3.2" fill="#111111"/>
<rect x="401.2" y="379.1" width="1.5" height="3.2" fill="#ffffff"/>
<rect x="402.7" y="379.1" width="8.5" height="3.2" fill="#111111"/>
<rect x="411.2" y="379.1" width="2.3" height="3.2" fill="#ffffff"/>
<rect x="413.5" y="379.1" width="5.3" height="3.2" fill="#555"/>
<rect x="418.8" y="379.1" width="6.2" height="3.2" fill="#ffffff"/>
<rect x="425" y="379.1" width="1.5" height="3.2" fill="#555"/>
<rect x="426.5" y="379.1" width="8.5" height="3.2" fill="#ffffff"/>
<rect x="435" y="379.1" width="9" height="3.2" fill="#444"/>
<rect x="444" y="379.1" width="4.7" height="3.2" fill="#ffffff"/>
<rect x="448.7" y="379.1" width="12.6" height="3.2" fill="#111111"/>
<rect x="461.3" y="379.1" width="4.1" height="3.2" fill="#888"/>
<rect x="465.4" y="379.1" width="5.2" height="3.2" fill="#ffffff"/>
<rect x="470.6" y="379.1" width="4" height="3.2" fill="#111111"/>
<rect x="474.6" y="379.1" width="1.7" height="3.2" fill="#ffffff"/>
<rect x="476.3" y="379.1" width="7.5" height="3.2" fill="#111111"/>
<rect x="483.8" y="379.1" width="10.4" height="3.2" fill="#ffffff"/>
<rect x="289.4" y="379.1" width="204.8" height="3.2" fill="none" stroke="#333" stroke-width="0.8"/>
<path d="M329.2 377.4 L334.6 377.4 L332.6 380.7 L334.6 384 L329.2 384 L331.2 380.7 Z" fill="#111"/><rect x="330.5" y="377.6" width="2.8" height="6.2" rx="1" fill="#111"/>
<line x1="29" y1="395.4" x2="233" y2="395.4" stroke="#222" stroke-width="0.9"/>
<path d="M29 394v1.4M32.45 394v1.4M35.9 394v1.4M39.35 394v1.4M42.8 394v1.4M46.25 394v1.4M49.7 394v1.4M53.15 394v1.4M56.6 394v1.4M60.05 394v1.4M63.5 394v1.4M66.95 394v1.4M70.4 394v1.4M73.85 394v1.4M77.3 394v1.4M80.75 394v1.4M84.2 394v1.4M87.65 394v1.4M91.1 394v1.4M94.55 394v1.4M98 394v1.4M101.45 394v1.4M104.9 394v1.4M108.35 394v1.4M111.8 394v1.4M115.25 394v1.4M118.7 394v1.4M122.15 394v1.4M125.6 394v1.4M129.05 394v1.4M132.5 394v1.4M135.95 394v1.4M139.4 394v1.4M142.85 394v1.4M146.3 394v1.4M149.75 394v1.4M153.2 394v1.4M156.65 394v1.4M160.1 394v1.4M163.55 394v1.4M167 394v1.4M170.45 394v1.4M173.9 394v1.4M177.35 394v1.4M180.8 394v1.4M184.25 394v1.4M187.7 394v1.4M191.15 394v1.4M194.6 394v1.4M198.05 394v1.4M201.5 394v1.4M204.95 394v1.4M208.4 394v1.4M211.85 394v1.4M215.3 394v1.4M218.75 394v1.4M222.2 394v1.4M225.65 394v1.4M229.1 394v1.4M232.55 394v1.4" stroke="#444" stroke-width="0.5"/>
<line x1="62.5" y1="393.2" x2="62.5" y2="395.4" stroke="#222" stroke-width="0.8"/>
<text x="62.8" y="400.5" font-size="4.4" fill="#222" textLength="20.2" lengthAdjust="spacingAndGlyphs">47,380,000</text>
<line x1="97.5" y1="393.2" x2="97.5" y2="395.4" stroke="#222" stroke-width="0.8"/>
<text x="97.8" y="400.5" font-size="4.4" fill="#222" textLength="20.2" lengthAdjust="spacingAndGlyphs">47,430,000</text>
<line x1="132.3" y1="393.2" x2="132.3" y2="395.4" stroke="#222" stroke-width="0.8"/>
<text x="132.6" y="400.5" font-size="4.4" fill="#222" textLength="20.2" lengthAdjust="spacingAndGlyphs">47,480,000</text>
<line x1="167.3" y1="393.2" x2="167.3" y2="395.4" stroke="#222" stroke-width="0.8"/>
<text x="167.6" y="400.5" font-size="4.4" fill="#222" textLength="20.2" lengthAdjust="spacingAndGlyphs">47,530,000</text>
<line x1="201.9" y1="393.2" x2="201.9" y2="395.4" stroke="#222" stroke-width="0.8"/>
<text x="202.2" y="400.5" font-size="4.4" fill="#222" textLength="20.2" lengthAdjust="spacingAndGlyphs">47,580,000</text>
<line x1="300.8" y1="395.4" x2="505.6" y2="395.4" stroke="#222" stroke-width="0.9"/>
<path d="M300.8 394v1.4M304.25 394v1.4M307.7 394v1.4M311.15 394v1.4M314.6 394v1.4M318.05 394v1.4M321.5 394v1.4M324.95 394v1.4M328.4 394v1.4M331.85 394v1.4M335.3 394v1.4M338.75 394v1.4M342.2 394v1.4M345.65 394v1.4M349.1 394v1.4M352.55 394v1.4M356 394v1.4M359.45 394v1.4M362.9 394v1.4M366.35 394v1.4M369.8 394v1.4M373.25 394v1.4M376.7 394v1.4M380.15 394v1.4M383.6 394v1.4M387.05 394v1.4M390.5 394v1.4M393.95 394v1.4M397.4 394v1.4M400.85 394v1.4M404.3 394v1.4M407.75 394v1.4M411.2 394v1.4M414.65 394v1.4M418.1 394v1.4M421.55 394v1.4M425 394v1.4M428.45 394v1.4M431.9 394v1.4M435.35 394v1.4M438.8 394v1.4M442.25 394v1.4M445.7 394v1.4M449.15 394v1.4M452.6 394v1.4M456.05 394v1.4M459.5 394v1.4M462.95 394v1.4M466.4 394v1.4M469.85 394v1.4M473.3 394v1.4M476.75 394v1.4M480.2 394v1.4M483.65 394v1.4M487.1 394v1.4M490.55 394v1.4M494 394v1.4M497.45 394v1.4M500.9 394v1.4M504.35 394v1.4" stroke="#444" stroke-width="0.5"/>
<line x1="347" y1="393.2" x2="347" y2="395.4" stroke="#222" stroke-width="0.8"/>
<text x="347.3" y="400.5" font-size="4.4" fill="#222" textLength="20.2" lengthAdjust="spacingAndGlyphs">31,500,000</text>
<line x1="398.8" y1="393.2" x2="398.8" y2="395.4" stroke="#222" stroke-width="0.8"/>
<text x="399.1" y="400.5" font-size="4.4" fill="#222" textLength="20.2" lengthAdjust="spacingAndGlyphs">32,000,000</text>
<line x1="448.8" y1="393.2" x2="448.8" y2="395.4" stroke="#222" stroke-width="0.8"/>
<text x="449.1" y="400.5" font-size="4.4" fill="#222" textLength="20.2" lengthAdjust="spacingAndGlyphs">32,500,000</text>
<line x1="500.4" y1="393.2" x2="500.4" y2="395.4" stroke="#222" stroke-width="0.8"/>
<text x="500.7" y="400.5" font-size="4.4" fill="#222" textLength="20.2" lengthAdjust="spacingAndGlyphs">33,000,000</text>
<rect x="28.2" y="401.6" width="206" height="4.7" fill="#c4c4c4" stroke="#6a6a6a" stroke-width="0.7"/>
<text x="131.8" y="405.4" font-size="4.6" fill="#333" text-anchor="middle">q13.2</text>
<rect x="301.1" y="401.2" width="45.9" height="4.8" fill="#fff" stroke="#222" stroke-width="0.6"/>
<rect x="347" y="401" width="159.1" height="5.1" fill="#000"/>
<text x="323.9" y="405.2" font-size="4.6" fill="#333" text-anchor="middle">p21.2</text>
<text x="425.6" y="405.2" font-size="4.6" fill="#ddd" text-anchor="middle">p21.1</text>
<text x="0" y="415" font-size="4.8" fill="#5a5a5a" textLength="30.8" lengthAdjust="spacingAndGlyphs">LOC100505622</text>
<line x1="74" y1="413" x2="79.8" y2="413" stroke="#f0a0a8" stroke-width="0.8"/>
<rect x="72.9" y="411.3" width="1.3" height="3.4" fill="#9e1230"/>
<rect x="79.8" y="411.3" width="1.2" height="3.4" fill="#9e1230"/>
<rect x="83.8" y="411.2" width="2.3" height="3.6" fill="#9e1230"/>
<text x="88.5" y="415" font-size="4.8" fill="#b84a64" textLength="12.6" lengthAdjust="spacingAndGlyphs">DEDD2</text>
<rect x="106.9" y="411.2" width="2.9" height="3.6" fill="#9e1230"/>
<text x="110.6" y="415" font-size="4.8" fill="#b84a64" textLength="10" lengthAdjust="spacingAndGlyphs">ERF</text>
<rect x="141.3" y="411.2" width="1.7" height="3.6" fill="#9e1230"/>
<rect x="143.8" y="411.2" width="2.2" height="3.6" fill="#d2384a"/>
<text x="147.1" y="415" font-size="4.8" fill="#b84a64" textLength="20.2" lengthAdjust="spacingAndGlyphs">PAFAH1B3</text>
<rect x="204.2" y="411.2" width="1.4" height="3.6" fill="#9e1230"/>
<text x="206" y="415" font-size="4.8" fill="#b84a64" textLength="12.6" lengthAdjust="spacingAndGlyphs">CNFN</text>
<text x="72.9" y="420" font-size="4.8" fill="#5a5a5a" textLength="15.6" lengthAdjust="spacingAndGlyphs">ZNF526</text>
<rect x="90.2" y="416.2" width="2.3" height="3.6" fill="#1f5a24"/>
<rect x="96" y="416.2" width="3.5" height="3.6" fill="#9e1230"/>
<rect x="100" y="416.2" width="3.4" height="3.6" fill="#c23a50"/>
<text x="104.6" y="420" font-size="4.8" fill="#5a5a5a" textLength="12.7" lengthAdjust="spacingAndGlyphs">GSK3A</text>
<text x="182.3" y="420" font-size="4.8" fill="#5a5a5a" textLength="26.8" lengthAdjust="spacingAndGlyphs">LOC101930071</text>
<line x1="209.4" y1="418" x2="219.8" y2="418" stroke="#a6dc9c" stroke-width="1.8"/>
<text x="131.5" y="424.2" font-size="4.8" fill="#5a5a5a" textLength="8.7" lengthAdjust="spacingAndGlyphs">PRR19</text>
<line x1="140.2" y1="422.5" x2="150" y2="422.5" stroke="#9ad490" stroke-width="1"/>
<rect x="150" y="420.8" width="1.7" height="3.4" fill="#1f5a24"/>
<text x="162.7" y="424.2" font-size="4.8" fill="#5a5a5a" textLength="17.3" lengthAdjust="spacingAndGlyphs">MIR8077</text>
<text x="193.3" y="424.2" font-size="4.8" fill="#5a5a5a" textLength="17.8" lengthAdjust="spacingAndGlyphs">LIPE-AS1</text>
<line x1="211.1" y1="422.5" x2="234.2" y2="422.5" stroke="#a6dc9c" stroke-width="1.8"/>
<text x="133.8" y="429" font-size="4.8" fill="#5a5a5a" textLength="18" lengthAdjust="spacingAndGlyphs">TMEM145</text>
<rect x="152.3" y="425.5" width="3.7" height="3.6" fill="#1f5a24"/>
<rect x="156.6" y="425.5" width="4.2" height="3.6" fill="#2e6a30"/>
<line x1="221.5" y1="427.3" x2="231.3" y2="427.3" stroke="#f3b0b6" stroke-width="1"/>
<rect x="214.6" y="425.5" width="3.2" height="3.6" fill="#9e1230"/>
<rect x="218.3" y="425.5" width="3.2" height="3.6" fill="#b82a40"/>
<rect x="231.3" y="425.5" width="1.7" height="3.6" fill="#9e1230"/>
<text x="234.2" y="429" font-size="4.8" fill="#b84a64" textLength="9" lengthAdjust="spacingAndGlyphs">LIPE</text>
<text x="147.7" y="434.4" font-size="4.8" fill="#5a5a5a" textLength="12.8" lengthAdjust="spacingAndGlyphs">MEGF8</text>
<line x1="160.8" y1="432.7" x2="198.5" y2="432.7" stroke="#9ad490" stroke-width="1"/>
<rect x="161.5" y="430.8" width="1.5" height="3.8" fill="#1f5a24"/>
<rect x="167" y="430.8" width="3" height="3.8" fill="#1f5a24"/>
<rect x="173.8" y="430.8" width="1.2" height="3.8" fill="#1f5a24"/>
<rect x="178" y="430.8" width="3.5" height="3.8" fill="#1f5a24"/>
<rect x="182" y="430.8" width="5.7" height="3.8" fill="#1f5a24"/>
<rect x="190.8" y="430.8" width="1.5" height="3.8" fill="#1f5a24"/>
<rect x="195.4" y="430.8" width="2.3" height="3.8" fill="#1f5a24"/>
<text x="111" y="439.5" font-size="6" fill="#333" textLength="10.3" lengthAdjust="spacingAndGlyphs">CIC</text>
<line x1="121.5" y1="437.7" x2="123.6" y2="437.7" stroke="#555" stroke-width="0.6"/>
<rect x="123.6" y="435.6" width="2.4" height="4.2" fill="#1f5a24"/>
<line x1="126" y1="437.7" x2="134" y2="437.7" stroke="#9ad490" stroke-width="1"/>
<rect x="134" y="435.6" width="7" height="4.2" fill="#1f5a24"/>
<line x1="121.3" y1="442.9" x2="139.8" y2="442.9" stroke="#f4c4c8" stroke-width="0.7"/>
<rect x="133.6" y="441.8" width="1.1" height="3.2" fill="#9e1230"/>
<rect x="301.2" y="410.95" width="3" height="4.3" fill="#a3152f"/>
<rect x="304.8" y="410.95" width="3" height="4.3" fill="#a3152f"/>
<rect x="308.3" y="410.95" width="4" height="4.3" fill="#a3152f"/>
<rect x="314.5" y="410.95" width="1.4" height="4.3" fill="#a3152f"/>
<text x="316.3" y="415" font-size="4.6" fill="#5a4048" textLength="9.8" lengthAdjust="spacingAndGlyphs">DMD</text>
<line x1="314" y1="418.2" x2="341.5" y2="418.2" stroke="#f6b8be" stroke-width="1.4"/>
<rect x="301.2" y="416.05" width="3" height="4.3" fill="#a3152f"/>
<rect x="304.8" y="416.05" width="3" height="4.3" fill="#a3152f"/>
<rect x="308.3" y="416.05" width="4" height="4.3" fill="#a3152f"/>
<rect x="314.5" y="416.05" width="1.4" height="4.3" fill="#a3152f"/>
<rect x="321" y="416.05" width="1.8" height="4.3" fill="#a3152f"/>
<rect x="323.8" y="416.05" width="1.8" height="4.3" fill="#a3152f"/>
<rect x="333" y="416.05" width="1.8" height="4.3" fill="#a3152f"/>
<rect x="337.1" y="416.05" width="1.6" height="4.3" fill="#a3152f"/>
<rect x="339.2" y="416.05" width="1.5" height="4.3" fill="#a3152f"/>
<text x="341.7" y="420.1" font-size="4.6" fill="#5a4048" textLength="8.7" lengthAdjust="spacingAndGlyphs">DMD</text>
<line x1="314" y1="423.4" x2="406.5" y2="423.4" stroke="#f6b8be" stroke-width="1.4"/>
<rect x="301.2" y="421.25" width="3" height="4.3" fill="#a3152f"/>
<rect x="304.8" y="421.25" width="3" height="4.3" fill="#a3152f"/>
<rect x="308.3" y="421.25" width="4" height="4.3" fill="#a3152f"/>
<rect x="314.5" y="421.25" width="1.4" height="4.3" fill="#a3152f"/>
<rect x="321" y="421.25" width="1.8" height="4.3" fill="#a3152f"/>
<rect x="323.8" y="421.25" width="1.8" height="4.3" fill="#a3152f"/>
<rect x="333" y="421.25" width="1.8" height="4.3" fill="#a3152f"/>
<rect x="337.1" y="421.25" width="1.6" height="4.3" fill="#a3152f"/>
<rect x="339.2" y="421.25" width="1.5" height="4.3" fill="#a3152f"/>
<rect x="352.3" y="421.25" width="1.5" height="4.3" fill="#a3152f"/>
<rect x="355.8" y="421.25" width="2.7" height="4.3" fill="#a3152f"/>
<rect x="362.3" y="421.25" width="1.5" height="4.3" fill="#a3152f"/>
<text x="407" y="425.3" font-size="4.6" fill="#5a4048" textLength="9.2" lengthAdjust="spacingAndGlyphs">DMD</text>
<rect x="367" y="421.9" width="1.3" height="3" fill="#e8a0aa"/>
<rect x="372" y="421.9" width="2" height="3" fill="#e8a0aa"/>
<rect x="383.2" y="421.9" width="0.8" height="3" fill="#e8a0aa"/>
<rect x="317" y="416.9" width="1" height="2.6" fill="#eaa4ae"/>
<rect x="326.5" y="416.9" width="1" height="2.6" fill="#eaa4ae"/>
<rect x="328.5" y="416.9" width="1" height="2.6" fill="#eaa4ae"/>
<rect x="330.5" y="416.9" width="1" height="2.6" fill="#eaa4ae"/>
<rect x="317" y="422.1" width="1" height="2.6" fill="#eaa4ae"/>
<rect x="326.5" y="422.1" width="1" height="2.6" fill="#eaa4ae"/>
<rect x="328.5" y="422.1" width="1" height="2.6" fill="#eaa4ae"/>
<rect x="330.5" y="422.1" width="1" height="2.6" fill="#eaa4ae"/>
<rect x="317" y="427.3" width="1" height="2.6" fill="#eaa4ae"/>
<rect x="326.5" y="427.3" width="1" height="2.6" fill="#eaa4ae"/>
<rect x="328.5" y="427.3" width="1" height="2.6" fill="#eaa4ae"/>
<rect x="330.5" y="427.3" width="1" height="2.6" fill="#eaa4ae"/>
<rect x="317" y="432.5" width="1" height="2.6" fill="#eaa4ae"/>
<rect x="326.5" y="432.5" width="1" height="2.6" fill="#eaa4ae"/>
<rect x="328.5" y="432.5" width="1" height="2.6" fill="#eaa4ae"/>
<rect x="330.5" y="432.5" width="1" height="2.6" fill="#eaa4ae"/>
<line x1="314" y1="428.6" x2="505" y2="428.6" stroke="#f6b8be" stroke-width="1.4"/>
<rect x="301.2" y="426.45" width="3" height="4.3" fill="#a3152f"/>
<rect x="304.8" y="426.45" width="3" height="4.3" fill="#a3152f"/>
<rect x="308.3" y="426.45" width="4" height="4.3" fill="#a3152f"/>
<rect x="314.5" y="426.45" width="1.4" height="4.3" fill="#a3152f"/>
<rect x="321" y="426.45" width="1.8" height="4.3" fill="#a3152f"/>
<rect x="323.8" y="426.45" width="1.8" height="4.3" fill="#a3152f"/>
<rect x="333" y="426.45" width="1.8" height="4.3" fill="#a3152f"/>
<rect x="337.1" y="426.45" width="1.6" height="4.3" fill="#a3152f"/>
<rect x="339.2" y="426.45" width="1.5" height="4.3" fill="#a3152f"/>
<rect x="352.3" y="426.45" width="1.5" height="4.3" fill="#a3152f"/>
<rect x="355.8" y="426.45" width="2.7" height="4.3" fill="#a3152f"/>
<rect x="362.3" y="426.45" width="1.5" height="4.3" fill="#a3152f"/>
<rect x="366.9" y="426.45" width="1.6" height="4.3" fill="#a3152f"/>
<rect x="371.5" y="426.45" width="3.1" height="4.3" fill="#a3152f"/>
<rect x="377" y="426.45" width="1.5" height="4.3" fill="#a3152f"/>
<rect x="383" y="426.45" width="1" height="4.3" fill="#a3152f"/>
<rect x="386" y="426.45" width="1.7" height="4.3" fill="#a3152f"/>
<rect x="411.5" y="426.45" width="1.5" height="4.3" fill="#a3152f"/>
<rect x="419.2" y="426.45" width="1.3" height="4.3" fill="#a3152f"/>
<rect x="421" y="426.45" width="1.3" height="4.3" fill="#a3152f"/>
<rect x="424.8" y="426.45" width="1.4" height="4.3" fill="#a3152f"/>
<rect x="426.8" y="426.45" width="1.6" height="4.3" fill="#a3152f"/>
<rect x="429" y="426.45" width="1.6" height="4.3" fill="#a3152f"/>
<rect x="432.5" y="426.45" width="1" height="4.3" fill="#a3152f"/>
<rect x="435" y="426.45" width="1.4" height="4.3" fill="#a3152f"/>
<rect x="437" y="426.45" width="1.6" height="4.3" fill="#a3152f"/>
<rect x="439.2" y="426.45" width="1.4" height="4.3" fill="#a3152f"/>
<rect x="441.2" y="426.45" width="1.2" height="4.3" fill="#a3152f"/>
<rect x="443" y="426.45" width="1" height="4.3" fill="#a3152f"/>
<rect x="446" y="426.45" width="1.2" height="4.3" fill="#a3152f"/>
<rect x="447.8" y="426.45" width="1.2" height="4.3" fill="#a3152f"/>
<rect x="449.6" y="426.45" width="1" height="4.3" fill="#a3152f"/>
<rect x="451.1" y="426.45" width="0.8" height="4.3" fill="#a3152f"/>
<rect x="455.6" y="426.45" width="0.9" height="4.3" fill="#a3152f"/>
<rect x="460.4" y="426.45" width="0.9" height="4.3" fill="#a3152f"/>
<rect x="472.3" y="426.45" width="1.5" height="4.3" fill="#a3152f"/>
<text x="505.6" y="430.5" font-size="4.6" fill="#5a4048" textLength="9.6" lengthAdjust="spacingAndGlyphs">DMD</text>
<line x1="314" y1="433.8" x2="432" y2="433.8" stroke="#f6b8be" stroke-width="1.4"/>
<rect x="301.2" y="431.65" width="3" height="4.3" fill="#a3152f"/>
<rect x="304.8" y="431.65" width="3" height="4.3" fill="#a3152f"/>
<rect x="308.3" y="431.65" width="4" height="4.3" fill="#a3152f"/>
<rect x="314.5" y="431.65" width="1.4" height="4.3" fill="#a3152f"/>
<rect x="321" y="431.65" width="1.8" height="4.3" fill="#a3152f"/>
<rect x="323.8" y="431.65" width="1.8" height="4.3" fill="#a3152f"/>
<rect x="333" y="431.65" width="1.8" height="4.3" fill="#a3152f"/>
<rect x="337.1" y="431.65" width="1.6" height="4.3" fill="#a3152f"/>
<rect x="339.2" y="431.65" width="1.5" height="4.3" fill="#a3152f"/>
<rect x="352.3" y="431.65" width="1.5" height="4.3" fill="#a3152f"/>
<rect x="355.8" y="431.65" width="2.7" height="4.3" fill="#a3152f"/>
<rect x="362.3" y="431.65" width="1.5" height="4.3" fill="#a3152f"/>
<rect x="366.9" y="431.65" width="1.6" height="4.3" fill="#a3152f"/>
<rect x="371.5" y="431.65" width="3.1" height="4.3" fill="#a3152f"/>
<rect x="377" y="431.65" width="1.5" height="4.3" fill="#a3152f"/>
<rect x="383" y="431.65" width="1" height="4.3" fill="#a3152f"/>
<rect x="386" y="431.65" width="1.7" height="4.3" fill="#a3152f"/>
<rect x="411.5" y="431.65" width="1.5" height="4.3" fill="#a3152f"/>
<rect x="419.2" y="431.65" width="1.3" height="4.3" fill="#a3152f"/>
<rect x="421" y="431.65" width="1.3" height="4.3" fill="#a3152f"/>
<rect x="424.8" y="431.65" width="1.4" height="4.3" fill="#a3152f"/>
<rect x="426.8" y="431.65" width="1.6" height="4.3" fill="#a3152f"/>
<rect x="429" y="431.65" width="1.6" height="4.3" fill="#a3152f"/>
<text x="432.5" y="435.7" font-size="4.6" fill="#5a4048" textLength="10.5" lengthAdjust="spacingAndGlyphs">DMD</text>
<rect x="306.3" y="437.05" width="2.1" height="4.3" fill="#a3152f"/>
<rect x="309.2" y="437.05" width="3.1" height="4.3" fill="#a3152f"/>
<rect x="314.5" y="437.05" width="1.4" height="4.3" fill="#a3152f"/>
<text x="316.3" y="441.1" font-size="4.6" fill="#5a4048" textLength="9.8" lengthAdjust="spacingAndGlyphs">DMD</text>
<text x="449.8" y="414.3" font-size="4.8" fill="#a04a60" textLength="17.3" lengthAdjust="spacingAndGlyphs">MIR3915</text>
<line x1="29" y1="510" x2="233.8" y2="510" stroke="#f3c0c6" stroke-width="2"/>
<line x1="29" y1="502.5" x2="233.8" y2="502.5" stroke="#f4eaec" stroke-width="1"/>
<line x1="29" y1="495.5" x2="233.8" y2="495.5" stroke="#eef1f1" stroke-width="1"/>
<line x1="29" y1="487.5" x2="233.8" y2="487.5" stroke="#f4eaec" stroke-width="1"/>
<line x1="29" y1="479.5" x2="233.8" y2="479.5" stroke="#bba6a6" stroke-width="1"/>
<line x1="29" y1="472.5" x2="233.8" y2="472.5" stroke="#f4eaec" stroke-width="1"/>
<line x1="29" y1="464.5" x2="233.8" y2="464.5" stroke="#eef1f1" stroke-width="1"/>
<line x1="29" y1="456.5" x2="233.8" y2="456.5" stroke="#f4eaec" stroke-width="1"/>
<line x1="29" y1="449.5" x2="233.8" y2="449.5" stroke="#f2bcc3" stroke-width="1"/>
<text x="28" y="511.9" font-size="4.2" fill="#8a8a8a" text-anchor="end">−2</text>
<text x="28" y="504.22" font-size="4.2" fill="#8a8a8a" text-anchor="end">−1.5</text>
<text x="28" y="496.55" font-size="4.2" fill="#8a8a8a" text-anchor="end">−1</text>
<text x="28" y="488.88" font-size="4.2" fill="#8a8a8a" text-anchor="end">−0.5</text>
<text x="28" y="481.2" font-size="4.2" fill="#8a8a8a" text-anchor="end">0</text>
<text x="28" y="473.52" font-size="4.2" fill="#8a8a8a" text-anchor="end">0.5</text>
<text x="28" y="465.85" font-size="4.2" fill="#8a8a8a" text-anchor="end">1</text>
<text x="28" y="458.18" font-size="4.2" fill="#8a8a8a" text-anchor="end">1.5</text>
<text x="28" y="450.5" font-size="4.2" fill="#8a8a8a" text-anchor="end">2</text>
<text x="1.2" y="481.2" font-size="5.8" fill="#000" stroke="#000" stroke-width="0.15" textLength="19.5" lengthAdjust="spacingAndGlyphs">N637TL</text>
<line x1="29" y1="572.5" x2="233.8" y2="572.5" stroke="#f2bcc3" stroke-width="1"/>
<line x1="29" y1="564.5" x2="233.8" y2="564.5" stroke="#f4eaec" stroke-width="1"/>
<line x1="29" y1="557.5" x2="233.8" y2="557.5" stroke="#eef1f1" stroke-width="1"/>
<line x1="29" y1="549.5" x2="233.8" y2="549.5" stroke="#f4eaec" stroke-width="1"/>
<line x1="29" y1="541.5" x2="233.8" y2="541.5" stroke="#bba6a6" stroke-width="1"/>
<line x1="29" y1="534.5" x2="233.8" y2="534.5" stroke="#f4eaec" stroke-width="1"/>
<line x1="29" y1="526.5" x2="233.8" y2="526.5" stroke="#eef1f1" stroke-width="1"/>
<line x1="29" y1="518.5" x2="233.8" y2="518.5" stroke="#f4eaec" stroke-width="1"/>
<text x="28" y="574.1" font-size="4.2" fill="#8a8a8a" text-anchor="end">−2</text>
<text x="28" y="566.42" font-size="4.2" fill="#8a8a8a" text-anchor="end">−1.5</text>
<text x="28" y="558.75" font-size="4.2" fill="#8a8a8a" text-anchor="end">−1</text>
<text x="28" y="551.07" font-size="4.2" fill="#8a8a8a" text-anchor="end">−0.5</text>
<text x="28" y="543.4" font-size="4.2" fill="#8a8a8a" text-anchor="end">0</text>
<text x="28" y="535.73" font-size="4.2" fill="#8a8a8a" text-anchor="end">0.5</text>
<text x="28" y="528.05" font-size="4.2" fill="#8a8a8a" text-anchor="end">1</text>
<text x="28" y="520.38" font-size="4.2" fill="#8a8a8a" text-anchor="end">1.5</text>
<text x="28" y="512.7" font-size="4.2" fill="#8a8a8a" text-anchor="end">2</text>
<text x="1.2" y="543.4" font-size="5.8" fill="#000" stroke="#000" stroke-width="0.15" textLength="19.5" lengthAdjust="spacingAndGlyphs">N742TL</text>
<line x1="29.5" y1="495" x2="233.5" y2="495" stroke="#6a1018" stroke-width="2.0"/>
<path d="M94.84 493.22h1.45v1.45h-1.45zM138.09 493.35h1.45v1.45h-1.45zM40.61 496.3h1.45v1.45h-1.45zM43.03 493.49h1.45v1.45h-1.45zM115.38 494.74h1.45v1.45h-1.45zM156.77 493.53h1.45v1.45h-1.45zM146.5 493.66h1.45v1.45h-1.45zM203.9 494.99h1.45v1.45h-1.45zM58.2 493.41h1.45v1.45h-1.45zM65.64 495.74h1.45v1.45h-1.45zM159.11 495.18h1.45v1.45h-1.45zM40.93 495.35h1.45v1.45h-1.45zM167.58 493.3h1.45v1.45h-1.45zM121.22 495.43h1.45v1.45h-1.45zM190.83 493.57h1.45v1.45h-1.45zM135.92 495.71h1.45v1.45h-1.45zM177.58 495.86h1.45v1.45h-1.45zM114.07 495.11h1.45v1.45h-1.45zM59.78 496.02h1.45v1.45h-1.45zM184.75 495.76h1.45v1.45h-1.45zM207.37 494.95h1.45v1.45h-1.45zM147.07 493.51h1.45v1.45h-1.45zM200.13 493.59h1.45v1.45h-1.45zM41.15 495.19h1.45v1.45h-1.45zM160.79 493.41h1.45v1.45h-1.45zM107.48 494.7h1.45v1.45h-1.45zM33.38 495.66h1.45v1.45h-1.45zM40.8 495.74h1.45v1.45h-1.45zM55.16 493.96h1.45v1.45h-1.45zM45.21 495.51h1.45v1.45h-1.45zM140.86 495.7h1.45v1.45h-1.45zM85.57 493.6h1.45v1.45h-1.45zM101.96 493.83h1.45v1.45h-1.45zM64.72 492.96h1.45v1.45h-1.45zM76.38 493.08h1.45v1.45h-1.45zM29.61 495.14h1.45v1.45h-1.45zM104.1 496.05h1.45v1.45h-1.45zM133.94 493.97h1.45v1.45h-1.45zM166.72 496.52h1.45v1.45h-1.45zM207.18 494.52h1.45v1.45h-1.45zM108.82 494.1h1.45v1.45h-1.45zM41.47 495.51h1.45v1.45h-1.45zM71.36 493.99h1.45v1.45h-1.45zM28.82 494.56h1.45v1.45h-1.45zM49.47 495.08h1.45v1.45h-1.45zM154.05 493.77h1.45v1.45h-1.45zM80.24 493.55h1.45v1.45h-1.45zM201.96 494.1h1.45v1.45h-1.45zM123.84 493.39h1.45v1.45h-1.45zM98.67 493.88h1.45v1.45h-1.45zM197.86 495.02h1.45v1.45h-1.45zM136.54 495.54h1.45v1.45h-1.45zM139.58 491.83h1.45v1.45h-1.45zM204.89 492.75h1.45v1.45h-1.45zM82.04 495.48h1.45v1.45h-1.45zM137.42 495.82h1.45v1.45h-1.45zM96.03 496.29h1.45v1.45h-1.45zM202.71 492.95h1.45v1.45h-1.45zM195.71 495.59h1.45v1.45h-1.45zM101.31 494.47h1.45v1.45h-1.45zM34.47 493.83h1.45v1.45h-1.45zM223.9 494.41h1.45v1.45h-1.45zM219.93 493.85h1.45v1.45h-1.45zM73.75 495.12h1.45v1.45h-1.45zM68.9 492.12h1.45v1.45h-1.45zM200.22 493.68h1.45v1.45h-1.45zM161.98 495.99h1.45v1.45h-1.45zM214.37 496.06h1.45v1.45h-1.45zM181.8 495.39h1.45v1.45h-1.45zM96.61 496.18h1.45v1.45h-1.45zM226.99 491.73h1.45v1.45h-1.45zM176.63 495.42h1.45v1.45h-1.45zM54.69 495.53h1.45v1.45h-1.45zM58.59 494.33h1.45v1.45h-1.45zM228.76 494.66h1.45v1.45h-1.45zM55.5 496.26h1.45v1.45h-1.45zM226.84 491.55h1.45v1.45h-1.45zM117.27 494.03h1.45v1.45h-1.45zM197.31 493.55h1.45v1.45h-1.45zM77.85 496.04h1.45v1.45h-1.45zM81.69 496.49h1.45v1.45h-1.45zM100.95 495.17h1.45v1.45h-1.45zM147.78 493.9h1.45v1.45h-1.45zM131.11 493.95h1.45v1.45h-1.45zM135.57 492.97h1.45v1.45h-1.45zM29.58 495.65h1.45v1.45h-1.45zM63.93 493.82h1.45v1.45h-1.45zM95.28 493.45h1.45v1.45h-1.45zM142.09 493.91h1.45v1.45h-1.45zM79.47 493.73h1.45v1.45h-1.45zM186.32 492.03h1.45v1.45h-1.45zM214.92 494.54h1.45v1.45h-1.45zM153.73 492.03h1.45v1.45h-1.45zM121.05 494.18h1.45v1.45h-1.45zM126.29 494.08h1.45v1.45h-1.45zM220.98 492.8h1.45v1.45h-1.45zM142.92 494.17h1.45v1.45h-1.45zM53.59 492.71h1.45v1.45h-1.45zM43.57 495.41h1.45v1.45h-1.45zM188.7 495.83h1.45v1.45h-1.45zM60.28 493.49h1.45v1.45h-1.45zM208.87 492.76h1.45v1.45h-1.45zM73.57 494.66h1.45v1.45h-1.45zM230.71 493.69h1.45v1.45h-1.45zM61.71 493.07h1.45v1.45h-1.45zM68.71 493.11h1.45v1.45h-1.45zM176.09 492.46h1.45v1.45h-1.45zM32.46 494.07h1.45v1.45h-1.45zM156.06 496.65h1.45v1.45h-1.45zM189.6 494.56h1.45v1.45h-1.45zM50.15 494.46h1.45v1.45h-1.45zM83.95 494.05h1.45v1.45h-1.45zM114.91 495.38h1.45v1.45h-1.45zM59.25 494.82h1.45v1.45h-1.45zM145.18 494.19h1.45v1.45h-1.45zM169.17 494.48h1.45v1.45h-1.45zM43.55 493.82h1.45v1.45h-1.45zM45.86 492.1h1.45v1.45h-1.45zM42.37 492.38h1.45v1.45h-1.45zM141.6 493.8h1.45v1.45h-1.45zM83.42 492.51h1.45v1.45h-1.45zM51.1 494.46h1.45v1.45h-1.45zM39.05 492.84h1.45v1.45h-1.45zM183.71 494.39h1.45v1.45h-1.45zM130.79 493.48h1.45v1.45h-1.45zM79.87 493.28h1.45v1.45h-1.45zM178.32 494.64h1.45v1.45h-1.45zM219.44 494.54h1.45v1.45h-1.45zM195.83 493.94h1.45v1.45h-1.45zM108.96 493.14h1.45v1.45h-1.45zM169.07 493.71h1.45v1.45h-1.45zM172.95 495.91h1.45v1.45h-1.45zM111.33 495.63h1.45v1.45h-1.45zM43.2 494.09h1.45v1.45h-1.45zM80.92 496.33h1.45v1.45h-1.45zM206.36 495.73h1.45v1.45h-1.45zM86.29 493.55h1.45v1.45h-1.45zM60.91 493.95h1.45v1.45h-1.45zM82.48 494.54h1.45v1.45h-1.45zM78.64 493.62h1.45v1.45h-1.45zM91.92 495.77h1.45v1.45h-1.45zM125.6 495.47h1.45v1.45h-1.45zM69.77 495.74h1.45v1.45h-1.45zM47.08 494.1h1.45v1.45h-1.45zM37.28 495.25h1.45v1.45h-1.45zM148.23 495.78h1.45v1.45h-1.45zM181.89 494.15h1.45v1.45h-1.45zM108.24 492.58h1.45v1.45h-1.45zM229.66 495.07h1.45v1.45h-1.45zM37.71 493.3h1.45v1.45h-1.45zM210.73 495.32h1.45v1.45h-1.45zM57.19 491.64h1.45v1.45h-1.45zM131.67 494.07h1.45v1.45h-1.45zM147.92 494h1.45v1.45h-1.45zM168.09 493.1h1.45v1.45h-1.45zM55.93 495.39h1.45v1.45h-1.45zM50.18 492.26h1.45v1.45h-1.45zM156.53 493.1h1.45v1.45h-1.45zM128.59 494.58h1.45v1.45h-1.45zM131.38 491.85h1.45v1.45h-1.45zM163.27 495.06h1.45v1.45h-1.45zM43.96 494.47h1.45v1.45h-1.45zM177.56 495.33h1.45v1.45h-1.45zM129.54 493.27h1.45v1.45h-1.45zM126.49 494.5h1.45v1.45h-1.45zM159.9 493.43h1.45v1.45h-1.45zM58.85 495.18h1.45v1.45h-1.45zM144.6 494.68h1.45v1.45h-1.45zM41.15 494.64h1.45v1.45h-1.45zM166.62 494.32h1.45v1.45h-1.45zM134.15 493.61h1.45v1.45h-1.45zM211.08 495.42h1.45v1.45h-1.45zM228.31 495.59h1.45v1.45h-1.45zM196.03 495.43h1.45v1.45h-1.45zM120.46 493.65h1.45v1.45h-1.45zM71.76 495.1h1.45v1.45h-1.45zM57.69 493.74h1.45v1.45h-1.45zM196.1 495.29h1.45v1.45h-1.45zM209.69 494.47h1.45v1.45h-1.45zM127.95 494.87h1.45v1.45h-1.45zM29.51 494.82h1.45v1.45h-1.45zM57.48 493.3h1.45v1.45h-1.45zM93.25 495.55h1.45v1.45h-1.45zM199.95 495.41h1.45v1.45h-1.45zM217.76 495.91h1.45v1.45h-1.45zM104.71 493.42h1.45v1.45h-1.45zM232.53 494.77h1.45v1.45h-1.45zM84.91 495.99h1.45v1.45h-1.45zM49.52 492.79h1.45v1.45h-1.45zM79.64 494.91h1.45v1.45h-1.45zM133.01 494.02h1.45v1.45h-1.45zM209.17 494.81h1.45v1.45h-1.45zM157.48 494.46h1.45v1.45h-1.45zM175.57 492.76h1.45v1.45h-1.45zM178.17 494.69h1.45v1.45h-1.45zM87.16 491.95h1.45v1.45h-1.45zM217.84 494.51h1.45v1.45h-1.45zM89.52 494.5h1.45v1.45h-1.45zM227.94 493.15h1.45v1.45h-1.45zM142.47 492.53h1.45v1.45h-1.45zM62.91 495.92h1.45v1.45h-1.45zM130.18 496.4h1.45v1.45h-1.45zM213.65 494.55h1.45v1.45h-1.45zM68.03 493.64h1.45v1.45h-1.45zM98.53 493.41h1.45v1.45h-1.45zM144.98 494.84h1.45v1.45h-1.45zM181.71 494.15h1.45v1.45h-1.45zM105.66 493.68h1.45v1.45h-1.45zM41.44 495.17h1.45v1.45h-1.45zM131.47 493.13h1.45v1.45h-1.45zM204.8 493.33h1.45v1.45h-1.45zM110.33 495.51h1.45v1.45h-1.45zM223.38 493.22h1.45v1.45h-1.45zM35.35 493.1h1.45v1.45h-1.45zM211.5 494.53h1.45v1.45h-1.45zM108.65 493.18h1.45v1.45h-1.45zM197.2 493.99h1.45v1.45h-1.45zM51.02 494.28h1.45v1.45h-1.45zM135.34 494.64h1.45v1.45h-1.45zM160.83 492.64h1.45v1.45h-1.45zM122.07 496.81h1.45v1.45h-1.45zM76.22 493.95h1.45v1.45h-1.45zM160.46 493.78h1.45v1.45h-1.45zM158.58 495.76h1.45v1.45h-1.45zM51.65 494.31h1.45v1.45h-1.45zM107.94 494.67h1.45v1.45h-1.45zM151.39 495h1.45v1.45h-1.45zM224.4 494.91h1.45v1.45h-1.45zM209.06 493.21h1.45v1.45h-1.45zM224.74 495.39h1.45v1.45h-1.45zM91.48 492.71h1.45v1.45h-1.45zM114.46 495.4h1.45v1.45h-1.45zM164.92 493.63h1.45v1.45h-1.45zM97.74 493.4h1.45v1.45h-1.45zM168.02 493.59h1.45v1.45h-1.45zM131.77 492.14h1.45v1.45h-1.45zM226.63 494.2h1.45v1.45h-1.45zM73.95 494.93h1.45v1.45h-1.45zM88.94 494.72h1.45v1.45h-1.45zM74.33 495.27h1.45v1.45h-1.45zM164.5 493.6h1.45v1.45h-1.45zM72.22 493.85h1.45v1.45h-1.45zM57.72 493.93h1.45v1.45h-1.45zM212 493.64h1.45v1.45h-1.45zM178.25 494.78h1.45v1.45h-1.45zM66.62 495.09h1.45v1.45h-1.45zM181.02 494.95h1.45v1.45h-1.45zM105.05 492.63h1.45v1.45h-1.45zM63.3 495.21h1.45v1.45h-1.45zM223.7 493.81h1.45v1.45h-1.45zM225.49 494.54h1.45v1.45h-1.45zM196.46 496.18h1.45v1.45h-1.45zM38.82 491.82h1.45v1.45h-1.45zM68.15 494.51h1.45v1.45h-1.45zM211.76 493.08h1.45v1.45h-1.45zM185.18 496.19h1.45v1.45h-1.45zM35.89 494.18h1.45v1.45h-1.45zM181.22 495.08h1.45v1.45h-1.45zM97.95 494.16h1.45v1.45h-1.45zM82.26 493.83h1.45v1.45h-1.45zM93.34 495.8h1.45v1.45h-1.45zM215.73 493.45h1.45v1.45h-1.45zM221.2 494.71h1.45v1.45h-1.45zM223.96 494.37h1.45v1.45h-1.45zM107.62 494.45h1.45v1.45h-1.45zM218.11 495.86h1.45v1.45h-1.45zM192.5 495.85h1.45v1.45h-1.45zM152.65 492.81h1.45v1.45h-1.45zM93.96 493.35h1.45v1.45h-1.45zM69.03 493.54h1.45v1.45h-1.45zM79.23 494.35h1.45v1.45h-1.45zM95.23 494.9h1.45v1.45h-1.45zM209 493.23h1.45v1.45h-1.45zM48.45 495.57h1.45v1.45h-1.45zM173.57 495.5h1.45v1.45h-1.45zM155.32 496.27h1.45v1.45h-1.45zM181.36 495.05h1.45v1.45h-1.45zM200.31 494.49h1.45v1.45h-1.45zM144.42 495.36h1.45v1.45h-1.45zM79.25 492.72h1.45v1.45h-1.45zM60.05 493.43h1.45v1.45h-1.45zM109.57 493.48h1.45v1.45h-1.45zM132.27 494.73h1.45v1.45h-1.45zM230.93 492.08h1.45v1.45h-1.45zM125.63 496.43h1.45v1.45h-1.45zM37.01 493.98h1.45v1.45h-1.45zM53.1 494.74h1.45v1.45h-1.45zM218.53 495.03h1.45v1.45h-1.45zM205.46 493.14h1.45v1.45h-1.45zM221.7 496.77h1.45v1.45h-1.45zM150.39 494.02h1.45v1.45h-1.45zM57.61 493.89h1.45v1.45h-1.45zM80.78 494.72h1.45v1.45h-1.45zM31.1 492.91h1.45v1.45h-1.45zM167.15 494.52h1.45v1.45h-1.45zM191.01 494.26h1.45v1.45h-1.45zM41.68 493.6h1.45v1.45h-1.45zM159.17 496.08h1.45v1.45h-1.45zM62.17 494.32h1.45v1.45h-1.45zM91.52 495h1.45v1.45h-1.45zM92.5 494.94h1.45v1.45h-1.45zM205.08 493.74h1.45v1.45h-1.45zM102.99 494.77h1.45v1.45h-1.45zM29.97 494.49h1.45v1.45h-1.45zM115.22 493.28h1.45v1.45h-1.45zM122.8 495.66h1.45v1.45h-1.45zM31.8 492.21h1.45v1.45h-1.45zM46.94 492.58h1.45v1.45h-1.45zM104.43 494.68h1.45v1.45h-1.45zM135.09 493.76h1.45v1.45h-1.45zM50.97 495.23h1.45v1.45h-1.45zM69.03 491.52h1.45v1.45h-1.45zM221.16 494.87h1.45v1.45h-1.45zM217.71 495.22h1.45v1.45h-1.45zM213.24 494.11h1.45v1.45h-1.45zM189.08 494.69h1.45v1.45h-1.45zM111.29 495.29h1.45v1.45h-1.45zM73.27 494.27h1.45v1.45h-1.45zM134.43 493.98h1.45v1.45h-1.45zM176.65 495.26h1.45v1.45h-1.45zM37.16 495.42h1.45v1.45h-1.45zM199.77 495.25h1.45v1.45h-1.45zM151.08 494.64h1.45v1.45h-1.45zM114.47 494.97h1.45v1.45h-1.45zM115.63 493.14h1.45v1.45h-1.45zM33.54 495.61h1.45v1.45h-1.45zM128.63 494.56h1.45v1.45h-1.45zM122.27 494.04h1.45v1.45h-1.45zM125.31 495.63h1.45v1.45h-1.45zM47.48 495.51h1.45v1.45h-1.45zM132.85 495h1.45v1.45h-1.45zM178.4 493.72h1.45v1.45h-1.45zM133.12 494.67h1.45v1.45h-1.45zM222.75 494.42h1.45v1.45h-1.45zM203.62 494.92h1.45v1.45h-1.45zM68.29 491.62h1.45v1.45h-1.45zM129.12 495.87h1.45v1.45h-1.45zM189.6 493.42h1.45v1.45h-1.45zM42.14 493.41h1.45v1.45h-1.45zM211.67 493.86h1.45v1.45h-1.45zM195.16 492.58h1.45v1.45h-1.45zM71.27 494.21h1.45v1.45h-1.45zM132 494.33h1.45v1.45h-1.45zM61.67 494.17h1.45v1.45h-1.45zM167.43 494.37h1.45v1.45h-1.45zM52.25 496.3h1.45v1.45h-1.45zM158.58 495.9h1.45v1.45h-1.45zM147.1 494.13h1.45v1.45h-1.45zM50.12 492.76h1.45v1.45h-1.45zM191.5 493.95h1.45v1.45h-1.45zM230.84 492.25h1.45v1.45h-1.45zM119 495.96h1.45v1.45h-1.45zM180.47 494.75h1.45v1.45h-1.45zM159.18 494.65h1.45v1.45h-1.45zM148.29 495.07h1.45v1.45h-1.45zM35.67 493.4h1.45v1.45h-1.45zM154.45 492.77h1.45v1.45h-1.45zM55.71 495.3h1.45v1.45h-1.45zM162.01 495.26h1.45v1.45h-1.45zM50.47 493.5h1.45v1.45h-1.45zM74.52 494.43h1.45v1.45h-1.45zM156.06 494.25h1.45v1.45h-1.45zM56.26 494.23h1.45v1.45h-1.45zM48.32 495.78h1.45v1.45h-1.45zM206.52 494.72h1.45v1.45h-1.45zM31.12 493.56h1.45v1.45h-1.45zM143.49 494.14h1.45v1.45h-1.45zM219.96 492.41h1.45v1.45h-1.45zM79.47 494.05h1.45v1.45h-1.45zM111.6 495.17h1.45v1.45h-1.45zM40.68 496.47h1.45v1.45h-1.45zM220.72 493.84h1.45v1.45h-1.45zM69.48 493.52h1.45v1.45h-1.45zM194.7 493.48h1.45v1.45h-1.45zM91.89 496.5h1.45v1.45h-1.45zM188.5 495.97h1.45v1.45h-1.45zM30.07 494.87h1.45v1.45h-1.45zM180.09 493.13h1.45v1.45h-1.45zM74.87 494.58h1.45v1.45h-1.45zM97.22 493.97h1.45v1.45h-1.45z" fill="#0a0a0a"/>
<path d="M29.35 489.85h1.7v1.7h-1.7zM30.15 495.65h1.7v1.7h-1.7zM104.15 496.65h1.7v1.7h-1.7zM114.65 498.15h1.7v1.7h-1.7z" fill="#111"/>
<line x1="29.5" y1="548.9" x2="85.4" y2="548.9" stroke="#6a1018" stroke-width="2.0"/>
<path d="M67.63 547.48h1.45v1.45h-1.45zM59.73 548.28h1.45v1.45h-1.45zM72.85 547.74h1.45v1.45h-1.45zM82.73 548.61h1.45v1.45h-1.45zM77.97 549.29h1.45v1.45h-1.45zM70.36 549.84h1.45v1.45h-1.45zM70.48 549.84h1.45v1.45h-1.45zM42.14 546.58h1.45v1.45h-1.45zM64.03 546.42h1.45v1.45h-1.45zM55.02 547.28h1.45v1.45h-1.45zM67.77 546.2h1.45v1.45h-1.45zM60.66 547.76h1.45v1.45h-1.45zM40.62 550.93h1.45v1.45h-1.45zM36.86 550.06h1.45v1.45h-1.45zM34.74 546.83h1.45v1.45h-1.45zM30.38 549.12h1.45v1.45h-1.45zM67.49 547.61h1.45v1.45h-1.45zM32.45 547.18h1.45v1.45h-1.45zM49.09 548.47h1.45v1.45h-1.45zM32.46 547.1h1.45v1.45h-1.45zM79.89 547.91h1.45v1.45h-1.45zM35.03 547.43h1.45v1.45h-1.45zM76.16 546.36h1.45v1.45h-1.45zM64.08 546.61h1.45v1.45h-1.45zM34.36 548.19h1.45v1.45h-1.45zM46.61 546.66h1.45v1.45h-1.45zM29.94 548.99h1.45v1.45h-1.45zM49.35 548.85h1.45v1.45h-1.45zM82.66 548.07h1.45v1.45h-1.45zM30.51 547.36h1.45v1.45h-1.45zM53.17 546.46h1.45v1.45h-1.45zM58.84 550.11h1.45v1.45h-1.45zM76.97 548.62h1.45v1.45h-1.45zM28.85 547.89h1.45v1.45h-1.45zM71.38 548.38h1.45v1.45h-1.45zM56.25 548.27h1.45v1.45h-1.45zM39.09 546.22h1.45v1.45h-1.45zM43.34 549.51h1.45v1.45h-1.45zM44.64 549.04h1.45v1.45h-1.45zM34.92 546.13h1.45v1.45h-1.45zM33.3 548.89h1.45v1.45h-1.45zM63.88 546.75h1.45v1.45h-1.45zM51.21 549.07h1.45v1.45h-1.45zM78.44 548.53h1.45v1.45h-1.45zM40.3 549.79h1.45v1.45h-1.45zM49.98 546.49h1.45v1.45h-1.45zM41.83 546.43h1.45v1.45h-1.45zM70.87 548.41h1.45v1.45h-1.45zM48.26 550.21h1.45v1.45h-1.45zM65.79 549.94h1.45v1.45h-1.45zM38.25 547.7h1.45v1.45h-1.45zM35.82 546.64h1.45v1.45h-1.45zM78.25 549.17h1.45v1.45h-1.45zM68.08 547.67h1.45v1.45h-1.45zM37.42 549.22h1.45v1.45h-1.45zM57.96 548.15h1.45v1.45h-1.45zM47.11 549.17h1.45v1.45h-1.45zM34.47 547.19h1.45v1.45h-1.45zM34.46 549.18h1.45v1.45h-1.45zM69.77 548.82h1.45v1.45h-1.45zM39.74 548.68h1.45v1.45h-1.45zM50.48 547.58h1.45v1.45h-1.45zM51.08 548.5h1.45v1.45h-1.45zM64.12 546.65h1.45v1.45h-1.45zM36.7 548.19h1.45v1.45h-1.45zM79.53 547.72h1.45v1.45h-1.45zM60.86 546.47h1.45v1.45h-1.45zM69.15 548.37h1.45v1.45h-1.45zM72.04 547.7h1.45v1.45h-1.45zM64.64 546.02h1.45v1.45h-1.45zM46.27 547.67h1.45v1.45h-1.45zM72.51 547.85h1.45v1.45h-1.45zM63.97 547.18h1.45v1.45h-1.45zM63.52 549.15h1.45v1.45h-1.45zM66.52 549.83h1.45v1.45h-1.45zM72.28 548.07h1.45v1.45h-1.45zM56.16 549.27h1.45v1.45h-1.45zM37.77 548.5h1.45v1.45h-1.45zM81.35 550.22h1.45v1.45h-1.45zM59.02 549.99h1.45v1.45h-1.45zM57.41 547.47h1.45v1.45h-1.45zM51.71 548.5h1.45v1.45h-1.45zM40.52 548.3h1.45v1.45h-1.45zM35.62 548.49h1.45v1.45h-1.45zM48.65 548.96h1.45v1.45h-1.45zM29.52 550.16h1.45v1.45h-1.45zM52.28 548.45h1.45v1.45h-1.45zM41.32 549.07h1.45v1.45h-1.45zM81.32 549.65h1.45v1.45h-1.45zM50.69 549.08h1.45v1.45h-1.45zM36 548.68h1.45v1.45h-1.45zM55 548h1.45v1.45h-1.45zM41.41 547.55h1.45v1.45h-1.45zM74.54 549.51h1.45v1.45h-1.45zM54.94 548.42h1.45v1.45h-1.45zM75.38 547.2h1.45v1.45h-1.45zM76.33 546.88h1.45v1.45h-1.45zM52.59 549.02h1.45v1.45h-1.45zM28.93 548.71h1.45v1.45h-1.45zM45.65 548.11h1.45v1.45h-1.45zM52.73 547.59h1.45v1.45h-1.45zM80.69 548.3h1.45v1.45h-1.45zM31.96 548.78h1.45v1.45h-1.45zM36.62 548.49h1.45v1.45h-1.45zM64.17 549.7h1.45v1.45h-1.45z" fill="#0a0a0a"/>
<line x1="161.5" y1="549" x2="233.5" y2="549" stroke="#6a1018" stroke-width="2.0"/>
<path d="M208 548.43h1.45v1.45h-1.45zM168.08 547.31h1.45v1.45h-1.45zM185.72 549.95h1.45v1.45h-1.45zM225.87 549.91h1.45v1.45h-1.45zM204.58 548.91h1.45v1.45h-1.45zM208.9 547.5h1.45v1.45h-1.45zM174.99 546.04h1.45v1.45h-1.45zM198.99 547.49h1.45v1.45h-1.45zM200.74 548.64h1.45v1.45h-1.45zM177.64 549.19h1.45v1.45h-1.45zM194.41 547.17h1.45v1.45h-1.45zM196.15 547.83h1.45v1.45h-1.45zM161.25 547.21h1.45v1.45h-1.45zM194.47 546.6h1.45v1.45h-1.45zM187.77 547.26h1.45v1.45h-1.45zM229.94 548.13h1.45v1.45h-1.45zM162.83 548.53h1.45v1.45h-1.45zM209.92 547.77h1.45v1.45h-1.45zM197.54 549.14h1.45v1.45h-1.45zM225.4 549.15h1.45v1.45h-1.45zM185.15 548.03h1.45v1.45h-1.45zM187.14 546.07h1.45v1.45h-1.45zM175.95 547.05h1.45v1.45h-1.45zM191.19 548.41h1.45v1.45h-1.45zM220.37 546.76h1.45v1.45h-1.45zM197.04 545.84h1.45v1.45h-1.45zM207.9 548.02h1.45v1.45h-1.45zM184.6 549.01h1.45v1.45h-1.45zM206.48 550.2h1.45v1.45h-1.45zM163.66 548.69h1.45v1.45h-1.45zM164.35 546.49h1.45v1.45h-1.45zM161.22 548.21h1.45v1.45h-1.45zM208.15 547.11h1.45v1.45h-1.45zM226.28 547.6h1.45v1.45h-1.45zM210.92 548.61h1.45v1.45h-1.45zM209.81 547.7h1.45v1.45h-1.45zM215.69 547.04h1.45v1.45h-1.45zM173.83 549.74h1.45v1.45h-1.45zM207.99 546.49h1.45v1.45h-1.45zM220 546.55h1.45v1.45h-1.45zM182.52 547.22h1.45v1.45h-1.45zM183.71 546.67h1.45v1.45h-1.45zM164.71 545.72h1.45v1.45h-1.45zM163.61 548.85h1.45v1.45h-1.45zM226.92 546.41h1.45v1.45h-1.45zM161.79 546.76h1.45v1.45h-1.45zM231.39 546.26h1.45v1.45h-1.45zM190.47 546.74h1.45v1.45h-1.45zM171.7 546.85h1.45v1.45h-1.45zM161.12 548.83h1.45v1.45h-1.45zM167.12 549.75h1.45v1.45h-1.45zM170.06 549.32h1.45v1.45h-1.45zM213.59 547.72h1.45v1.45h-1.45zM164.38 546.72h1.45v1.45h-1.45zM213.31 546.16h1.45v1.45h-1.45zM206.04 546.55h1.45v1.45h-1.45zM179.07 547.53h1.45v1.45h-1.45zM212.41 548.38h1.45v1.45h-1.45zM219.62 547.53h1.45v1.45h-1.45zM183.17 548.01h1.45v1.45h-1.45zM195.79 550.72h1.45v1.45h-1.45zM187.24 546.53h1.45v1.45h-1.45zM171.21 548.05h1.45v1.45h-1.45zM186.93 546.67h1.45v1.45h-1.45zM188.55 548.84h1.45v1.45h-1.45zM228.81 548.75h1.45v1.45h-1.45zM165.14 547.78h1.45v1.45h-1.45zM211.41 547.92h1.45v1.45h-1.45zM231.15 548.13h1.45v1.45h-1.45zM204.06 547.24h1.45v1.45h-1.45zM187.9 549.7h1.45v1.45h-1.45zM204.1 548.47h1.45v1.45h-1.45zM160.9 546.46h1.45v1.45h-1.45zM191.2 548.82h1.45v1.45h-1.45zM163.82 546.04h1.45v1.45h-1.45zM219.22 547.04h1.45v1.45h-1.45zM222.06 548.95h1.45v1.45h-1.45zM210.07 548.91h1.45v1.45h-1.45zM200.64 548.12h1.45v1.45h-1.45zM175.21 547.75h1.45v1.45h-1.45zM204.47 547.43h1.45v1.45h-1.45zM194.28 547.06h1.45v1.45h-1.45zM217.77 550.63h1.45v1.45h-1.45zM167.09 548.5h1.45v1.45h-1.45zM202.51 548.23h1.45v1.45h-1.45zM224.5 547.13h1.45v1.45h-1.45zM174.39 549.14h1.45v1.45h-1.45zM173.78 548.78h1.45v1.45h-1.45zM189.75 548.44h1.45v1.45h-1.45zM171.5 548.33h1.45v1.45h-1.45zM168.42 547.19h1.45v1.45h-1.45zM217.46 548.03h1.45v1.45h-1.45zM198.18 546.76h1.45v1.45h-1.45zM163.19 549.3h1.45v1.45h-1.45zM201.61 546.4h1.45v1.45h-1.45zM216.88 548.96h1.45v1.45h-1.45zM219.73 546.63h1.45v1.45h-1.45zM179.06 547.47h1.45v1.45h-1.45zM166.8 549.81h1.45v1.45h-1.45zM200.91 545.49h1.45v1.45h-1.45zM226.29 549.3h1.45v1.45h-1.45zM203.84 550.55h1.45v1.45h-1.45zM179.29 548.46h1.45v1.45h-1.45zM206.9 549.08h1.45v1.45h-1.45zM193.06 547.98h1.45v1.45h-1.45zM230.31 547.58h1.45v1.45h-1.45zM179.2 547.33h1.45v1.45h-1.45zM225.77 549.29h1.45v1.45h-1.45zM217.39 548.66h1.45v1.45h-1.45zM207.34 549.47h1.45v1.45h-1.45zM215.13 548.48h1.45v1.45h-1.45zM209.51 546.51h1.45v1.45h-1.45zM168.37 546.36h1.45v1.45h-1.45zM179.28 546.62h1.45v1.45h-1.45zM177.94 549.28h1.45v1.45h-1.45zM209.57 547.45h1.45v1.45h-1.45zM163.37 547.86h1.45v1.45h-1.45zM176.65 549.99h1.45v1.45h-1.45zM170.84 547.32h1.45v1.45h-1.45zM167.76 547.83h1.45v1.45h-1.45zM193.34 547.03h1.45v1.45h-1.45zM220.04 546.78h1.45v1.45h-1.45zM176.73 548.1h1.45v1.45h-1.45zM212.16 548.29h1.45v1.45h-1.45zM179.96 549.01h1.45v1.45h-1.45zM171.98 547.46h1.45v1.45h-1.45zM172.86 547.75h1.45v1.45h-1.45zM183.68 549.78h1.45v1.45h-1.45zM164.87 548.96h1.45v1.45h-1.45zM208.89 546.43h1.45v1.45h-1.45zM179.34 547.17h1.45v1.45h-1.45zM187 549.31h1.45v1.45h-1.45zM167.8 547.41h1.45v1.45h-1.45zM225.3 549.19h1.45v1.45h-1.45zM231.24 546.42h1.45v1.45h-1.45z" fill="#0a0a0a"/>
<rect x="86.1" y="571.1" width="76.2" height="2.6" fill="#6e0f1c"/>
<path d="M85 560.7h1.8v1.8h-1.8zM116.8 568.4h1.8v1.8h-1.8zM83.6 550.6h1.8v1.8h-1.8z" fill="#111"/>
<line x1="301.5" y1="510" x2="505.6" y2="510" stroke="#f3c0c6" stroke-width="2"/>
<line x1="301.5" y1="502.5" x2="505.6" y2="502.5" stroke="#f4eaec" stroke-width="1"/>
<line x1="301.5" y1="495.5" x2="505.6" y2="495.5" stroke="#eef1f1" stroke-width="1"/>
<line x1="301.5" y1="487.5" x2="505.6" y2="487.5" stroke="#f4eaec" stroke-width="1"/>
<line x1="301.5" y1="479.5" x2="505.6" y2="479.5" stroke="#bba6a6" stroke-width="1"/>
<line x1="301.5" y1="472.5" x2="505.6" y2="472.5" stroke="#f4eaec" stroke-width="1"/>
<line x1="301.5" y1="464.5" x2="505.6" y2="464.5" stroke="#eef1f1" stroke-width="1"/>
<line x1="301.5" y1="456.5" x2="505.6" y2="456.5" stroke="#f4eaec" stroke-width="1"/>
<line x1="301.5" y1="449.5" x2="505.6" y2="449.5" stroke="#f2bcc3" stroke-width="1"/>
<text x="301" y="511.9" font-size="4.2" fill="#8a8a8a" text-anchor="end">−2</text>
<text x="301" y="504.22" font-size="4.2" fill="#8a8a8a" text-anchor="end">−1.5</text>
<text x="301" y="496.55" font-size="4.2" fill="#8a8a8a" text-anchor="end">−1</text>
<text x="301" y="488.88" font-size="4.2" fill="#8a8a8a" text-anchor="end">−0.5</text>
<text x="301" y="481.2" font-size="4.2" fill="#8a8a8a" text-anchor="end">0</text>
<text x="301" y="473.52" font-size="4.2" fill="#8a8a8a" text-anchor="end">0.5</text>
<text x="301" y="465.85" font-size="4.2" fill="#8a8a8a" text-anchor="end">1</text>
<text x="301" y="458.18" font-size="4.2" fill="#8a8a8a" text-anchor="end">1.5</text>
<text x="301" y="450.5" font-size="4.2" fill="#8a8a8a" text-anchor="end">2</text>
<text x="275.4" y="481.2" font-size="5.8" fill="#000" stroke="#000" stroke-width="0.15" textLength="19.5" lengthAdjust="spacingAndGlyphs">N089TL</text>
<line x1="301.5" y1="572.5" x2="505.6" y2="572.5" stroke="#f2bcc3" stroke-width="1"/>
<line x1="301.5" y1="564.5" x2="505.6" y2="564.5" stroke="#f4eaec" stroke-width="1"/>
<line x1="301.5" y1="556.5" x2="505.6" y2="556.5" stroke="#eef1f1" stroke-width="1"/>
<line x1="301.5" y1="549.5" x2="505.6" y2="549.5" stroke="#f4eaec" stroke-width="1"/>
<line x1="301.5" y1="541.5" x2="505.6" y2="541.5" stroke="#bba6a6" stroke-width="1"/>
<line x1="301.5" y1="533.5" x2="505.6" y2="533.5" stroke="#f4eaec" stroke-width="1"/>
<line x1="301.5" y1="526.5" x2="505.6" y2="526.5" stroke="#eef1f1" stroke-width="1"/>
<line x1="301.5" y1="518.5" x2="505.6" y2="518.5" stroke="#f4eaec" stroke-width="1"/>
<text x="301" y="573.8" font-size="4.2" fill="#8a8a8a" text-anchor="end">−2</text>
<text x="301" y="566.12" font-size="4.2" fill="#8a8a8a" text-anchor="end">−1.5</text>
<text x="301" y="558.45" font-size="4.2" fill="#8a8a8a" text-anchor="end">−1</text>
<text x="301" y="550.77" font-size="4.2" fill="#8a8a8a" text-anchor="end">−0.5</text>
<text x="301" y="543.1" font-size="4.2" fill="#8a8a8a" text-anchor="end">0</text>
<text x="301" y="535.43" font-size="4.2" fill="#8a8a8a" text-anchor="end">0.5</text>
<text x="301" y="527.75" font-size="4.2" fill="#8a8a8a" text-anchor="end">1</text>
<text x="301" y="520.08" font-size="4.2" fill="#8a8a8a" text-anchor="end">1.5</text>
<text x="301" y="512.4" font-size="4.2" fill="#8a8a8a" text-anchor="end">2</text>
<text x="275.2" y="543.1" font-size="5.8" fill="#000" stroke="#000" stroke-width="0.15" textLength="19.5" lengthAdjust="spacingAndGlyphs">N600TL</text>
<path d="M319.02 477.57h1.6v1.6h-1.6zM319.59 477.59h1.6v1.6h-1.6zM304.92 478.57h1.6v1.6h-1.6zM313.67 476.84h1.6v1.6h-1.6zM304.79 477.22h1.6v1.6h-1.6zM302.5 476.34h1.6v1.6h-1.6zM314.51 477.32h1.6v1.6h-1.6zM314.6 478.71h1.6v1.6h-1.6zM319.12 477.7h1.6v1.6h-1.6zM317.33 478.13h1.6v1.6h-1.6zM317.08 478.1h1.6v1.6h-1.6zM319.81 475.99h1.6v1.6h-1.6zM311.89 479.23h1.6v1.6h-1.6zM320.49 476.4h1.6v1.6h-1.6zM304.92 476.78h1.6v1.6h-1.6zM309.13 478.3h1.6v1.6h-1.6zM300.81 475.46h1.6v1.6h-1.6zM303.44 478.22h1.6v1.6h-1.6zM319.24 476.28h1.6v1.6h-1.6zM309.36 480.06h1.6v1.6h-1.6zM302.09 479.52h1.6v1.6h-1.6zM312.35 476.9h1.6v1.6h-1.6zM312.9 478.75h1.6v1.6h-1.6zM304.84 477.24h1.6v1.6h-1.6zM306.39 478.3h1.6v1.6h-1.6zM316.57 477.65h1.6v1.6h-1.6zM301.1 475.56h1.6v1.6h-1.6zM316.65 476.49h1.6v1.6h-1.6zM320.44 478.39h1.6v1.6h-1.6zM311.9 477.76h1.6v1.6h-1.6zM307.05 476.69h1.6v1.6h-1.6zM314.13 478.05h1.6v1.6h-1.6zM304.04 477.48h1.6v1.6h-1.6zM319.45 476.42h1.6v1.6h-1.6zM309.52 478.67h1.6v1.6h-1.6zM309.68 475.64h1.6v1.6h-1.6zM318.34 477.6h1.6v1.6h-1.6zM310.59 479.12h1.6v1.6h-1.6zM318.96 478.89h1.6v1.6h-1.6zM301.92 474.3h1.6v1.6h-1.6zM322.44 477.51h1.6v1.6h-1.6zM315.06 479.39h1.6v1.6h-1.6zM312.75 475.55h1.6v1.6h-1.6zM301.17 478.37h1.6v1.6h-1.6zM322.71 479.85h1.6v1.6h-1.6zM319.07 476.52h1.6v1.6h-1.6zM320.78 476.61h1.6v1.6h-1.6zM316.1 476.4h1.6v1.6h-1.6zM313.01 476.51h1.6v1.6h-1.6zM312.51 476.56h1.6v1.6h-1.6zM322.28 476.61h1.6v1.6h-1.6zM303.43 479.94h1.6v1.6h-1.6zM322.4 477.27h1.6v1.6h-1.6zM312.82 479.5h1.6v1.6h-1.6zM303.51 477h1.6v1.6h-1.6zM307.24 479.27h1.6v1.6h-1.6zM302.69 478.82h1.6v1.6h-1.6zM313.64 475.41h1.6v1.6h-1.6zM305.27 475.3h1.6v1.6h-1.6zM314.61 478.05h1.6v1.6h-1.6zM307.75 477.88h1.6v1.6h-1.6zM309.4 479.62h1.6v1.6h-1.6zM300.97 478.36h1.6v1.6h-1.6zM313.34 476.49h1.6v1.6h-1.6zM307.17 476.63h1.6v1.6h-1.6zM304.3 480.47h1.6v1.6h-1.6zM320.48 479.15h1.6v1.6h-1.6zM310.69 478.18h1.6v1.6h-1.6zM303.18 480.35h1.6v1.6h-1.6zM304.21 476.75h1.6v1.6h-1.6zM308.7 474.89h1.6v1.6h-1.6zM319.34 475.16h1.6v1.6h-1.6zM317.47 477.62h1.6v1.6h-1.6zM318.52 475.46h1.6v1.6h-1.6zM321.46 477.62h1.6v1.6h-1.6zM318.08 477.38h1.6v1.6h-1.6zM312 475.82h1.6v1.6h-1.6zM318.49 476.68h1.6v1.6h-1.6zM314.49 475.6h1.6v1.6h-1.6zM317.11 478.09h1.6v1.6h-1.6zM309.57 476.31h1.6v1.6h-1.6zM318.57 478.55h1.6v1.6h-1.6zM312.04 478.12h1.6v1.6h-1.6zM303.99 478.9h1.6v1.6h-1.6zM313.9 478.9h1.6v1.6h-1.6zM319.84 476.73h1.6v1.6h-1.6zM322.46 473.96h1.6v1.6h-1.6zM300.94 479.26h1.6v1.6h-1.6zM313.52 480.22h1.6v1.6h-1.6zM312.92 476.01h1.6v1.6h-1.6zM312.45 476.79h1.6v1.6h-1.6zM308.82 475.86h1.6v1.6h-1.6zM308.67 476.52h1.6v1.6h-1.6zM302.95 475.53h1.6v1.6h-1.6zM309.8 474.19h1.6v1.6h-1.6zM322.59 475.84h1.6v1.6h-1.6zM310.69 479.15h1.6v1.6h-1.6zM312.73 477.46h1.6v1.6h-1.6zM304.58 480.84h1.6v1.6h-1.6zM312.34 477.05h1.6v1.6h-1.6zM321.01 479.85h1.6v1.6h-1.6zM320.86 472.55h1.6v1.6h-1.6zM304.25 475.37h1.6v1.6h-1.6zM304.97 477.34h1.6v1.6h-1.6zM315 474.04h1.6v1.6h-1.6zM315.15 482.07h1.6v1.6h-1.6zM310.04 476.54h1.6v1.6h-1.6zM300.79 480.08h1.6v1.6h-1.6zM319.82 476.91h1.6v1.6h-1.6zM312 476.46h1.6v1.6h-1.6zM306.74 471.47h1.6v1.6h-1.6zM313.74 476.29h1.6v1.6h-1.6zM303.46 477.55h1.6v1.6h-1.6zM302.97 476.65h1.6v1.6h-1.6zM312.56 475.03h1.6v1.6h-1.6zM302.11 475.37h1.6v1.6h-1.6zM318.19 477.14h1.6v1.6h-1.6zM304.55 475.86h1.6v1.6h-1.6zM302.96 476.05h1.6v1.6h-1.6zM310.91 476.68h1.6v1.6h-1.6zM301.94 473.54h1.6v1.6h-1.6zM310.68 475.24h1.6v1.6h-1.6zM306.36 480.71h1.6v1.6h-1.6zM307.85 476.01h1.6v1.6h-1.6zM319.22 473.85h1.6v1.6h-1.6zM311.95 474.76h1.6v1.6h-1.6zM306.21 477.25h1.6v1.6h-1.6zM307.72 476.25h1.6v1.6h-1.6zM311.7 477.55h1.6v1.6h-1.6zM308.84 478.61h1.6v1.6h-1.6zM322.75 476.68h1.6v1.6h-1.6zM312.82 477.16h1.6v1.6h-1.6zM309.85 479.91h1.6v1.6h-1.6zM308.67 479.85h1.6v1.6h-1.6zM305.04 477.54h1.6v1.6h-1.6zM315.78 477.98h1.6v1.6h-1.6zM304.24 478.69h1.6v1.6h-1.6zM319.65 478.28h1.6v1.6h-1.6zM310.76 477.86h1.6v1.6h-1.6zM308.71 476.5h1.6v1.6h-1.6zM309.26 478.65h1.6v1.6h-1.6zM312.16 481.77h1.6v1.6h-1.6zM310.98 477.12h1.6v1.6h-1.6zM321.12 476.15h1.6v1.6h-1.6zM309.05 476.53h1.6v1.6h-1.6zM320.5 476.72h1.6v1.6h-1.6zM312.35 477.1h1.6v1.6h-1.6zM309.44 480.57h1.6v1.6h-1.6zM313.59 476.91h1.6v1.6h-1.6zM304.72 477.99h1.6v1.6h-1.6zM307.99 479.29h1.6v1.6h-1.6zM308.91 478.96h1.6v1.6h-1.6zM307.44 477.02h1.6v1.6h-1.6zM303.56 478.7h1.6v1.6h-1.6zM307.11 480.11h1.6v1.6h-1.6zM320.74 475.82h1.6v1.6h-1.6zM303.7 480.17h1.6v1.6h-1.6zM315.76 478h1.6v1.6h-1.6zM310.07 477.07h1.6v1.6h-1.6zM319.92 476.21h1.6v1.6h-1.6zM314.97 480.48h1.6v1.6h-1.6zM317.36 480.13h1.6v1.6h-1.6zM301.62 478.13h1.6v1.6h-1.6zM307.58 478.52h1.6v1.6h-1.6zM301.59 476.77h1.6v1.6h-1.6zM319.76 476.63h1.6v1.6h-1.6zM316.97 474.99h1.6v1.6h-1.6zM308.62 478.59h1.6v1.6h-1.6zM319.64 477.38h1.6v1.6h-1.6zM320.09 478.02h1.6v1.6h-1.6zM301.77 479.94h1.6v1.6h-1.6zM305.47 479.55h1.6v1.6h-1.6zM317.71 476.89h1.6v1.6h-1.6zM317.67 475.81h1.6v1.6h-1.6zM307.08 479.28h1.6v1.6h-1.6zM321.82 476.87h1.6v1.6h-1.6zM317.47 476.13h1.6v1.6h-1.6zM301.93 476.08h1.6v1.6h-1.6zM310.42 478.35h1.6v1.6h-1.6zM318 477.09h1.6v1.6h-1.6zM316.65 477.34h1.6v1.6h-1.6zM322.71 479.76h1.6v1.6h-1.6zM313.05 479.08h1.6v1.6h-1.6zM310.04 478.12h1.6v1.6h-1.6zM307.75 476.78h1.6v1.6h-1.6zM306.1 474.92h1.6v1.6h-1.6zM312.4 479.04h1.6v1.6h-1.6zM307.5 476.84h1.6v1.6h-1.6zM303.92 475.84h1.6v1.6h-1.6zM313.15 480.36h1.6v1.6h-1.6zM304.54 475.87h1.6v1.6h-1.6zM318.09 476.34h1.6v1.6h-1.6zM303.3 476.72h1.6v1.6h-1.6zM302.07 478.44h1.6v1.6h-1.6zM305.17 476.67h1.6v1.6h-1.6zM308.07 477.78h1.6v1.6h-1.6zM308.94 477.74h1.6v1.6h-1.6zM323.22 477.62h1.6v1.6h-1.6zM302.61 479.8h1.6v1.6h-1.6zM303.17 477.21h1.6v1.6h-1.6zM310.56 477.28h1.6v1.6h-1.6zM321.57 477.44h1.6v1.6h-1.6zM314.95 476.71h1.6v1.6h-1.6zM306.28 476.38h1.6v1.6h-1.6zM301.33 478.31h1.6v1.6h-1.6zM304.92 476.22h1.6v1.6h-1.6zM319.9 479.05h1.6v1.6h-1.6zM319.55 480.25h1.6v1.6h-1.6zM308.12 478.22h1.6v1.6h-1.6zM309.07 476.09h1.6v1.6h-1.6zM309.08 477.53h1.6v1.6h-1.6zM313.57 478.02h1.6v1.6h-1.6zM319.31 481.09h1.6v1.6h-1.6zM311.92 475.07h1.6v1.6h-1.6zM304.27 476.86h1.6v1.6h-1.6zM316.32 477.14h1.6v1.6h-1.6zM310.76 477.93h1.6v1.6h-1.6zM310.68 477.77h1.6v1.6h-1.6zM317.11 479.41h1.6v1.6h-1.6zM318.56 474.52h1.6v1.6h-1.6zM307.13 475.63h1.6v1.6h-1.6zM308.39 477.33h1.6v1.6h-1.6zM315.82 478.39h1.6v1.6h-1.6zM307.41 476.89h1.6v1.6h-1.6zM313.49 477.76h1.6v1.6h-1.6zM308.05 478.21h1.6v1.6h-1.6zM322.75 480.73h1.6v1.6h-1.6zM322.53 473.85h1.6v1.6h-1.6zM319.11 476.4h1.6v1.6h-1.6zM307.44 475.29h1.6v1.6h-1.6zM322.33 476.59h1.6v1.6h-1.6zM308.5 476.29h1.6v1.6h-1.6zM301.33 476.65h1.6v1.6h-1.6zM302.63 475.73h1.6v1.6h-1.6zM309.14 475.59h1.6v1.6h-1.6zM313.52 478.61h1.6v1.6h-1.6zM303.29 479.25h1.6v1.6h-1.6zM303.25 476.05h1.6v1.6h-1.6zM306.45 476.16h1.6v1.6h-1.6zM311.81 477.24h1.6v1.6h-1.6zM305.84 479.14h1.6v1.6h-1.6zM314.06 478.91h1.6v1.6h-1.6zM309.96 474.16h1.6v1.6h-1.6zM313.2 478.83h1.6v1.6h-1.6zM317.88 480.37h1.6v1.6h-1.6zM303.02 477.33h1.6v1.6h-1.6zM309.6 479.74h1.6v1.6h-1.6zM318.29 476.92h1.6v1.6h-1.6zM318.32 477.64h1.6v1.6h-1.6zM301.04 479.23h1.6v1.6h-1.6zM305.54 477h1.6v1.6h-1.6zM320.87 475.67h1.6v1.6h-1.6zM320.5 480.66h1.6v1.6h-1.6zM304.51 475.7h1.6v1.6h-1.6zM308.45 476.08h1.6v1.6h-1.6zM303.49 474.45h1.6v1.6h-1.6zM317.44 477.41h1.6v1.6h-1.6zM314.41 476.97h1.6v1.6h-1.6zM313.16 480.61h1.6v1.6h-1.6zM316.03 480.17h1.6v1.6h-1.6z" fill="#0a0a0a"/>
<line x1="301.5" y1="478.3" x2="324.2" y2="478.3" stroke="#a01826" stroke-width="1.2"/>
<path d="M331.56 505.19h1.6v1.6h-1.6zM328.73 501.56h1.6v1.6h-1.6zM328.62 504.81h1.6v1.6h-1.6zM335 506.14h1.6v1.6h-1.6zM338.22 505.56h1.6v1.6h-1.6zM349.18 502.05h1.6v1.6h-1.6zM358.38 503.17h1.6v1.6h-1.6zM342.51 504.76h1.6v1.6h-1.6zM353.12 505.32h1.6v1.6h-1.6zM348.82 507.16h1.6v1.6h-1.6zM341.59 504.93h1.6v1.6h-1.6zM355.69 502.15h1.6v1.6h-1.6zM327.39 504.69h1.6v1.6h-1.6zM345.62 507.94h1.6v1.6h-1.6zM330.73 501.23h1.6v1.6h-1.6zM338.47 504.33h1.6v1.6h-1.6zM324.91 503.6h1.6v1.6h-1.6zM341.01 504.15h1.6v1.6h-1.6zM326.31 503.04h1.6v1.6h-1.6zM334.4 502.4h1.6v1.6h-1.6zM334 498.86h1.6v1.6h-1.6zM359.92 502.92h1.6v1.6h-1.6zM344.6 506.2h1.6v1.6h-1.6zM347.18 501.32h1.6v1.6h-1.6zM337.58 504.94h1.6v1.6h-1.6zM358.02 499.9h1.6v1.6h-1.6zM335.49 503.64h1.6v1.6h-1.6zM347.25 501.42h1.6v1.6h-1.6zM344.25 505.48h1.6v1.6h-1.6zM336.17 504.47h1.6v1.6h-1.6zM341.79 503.86h1.6v1.6h-1.6zM337.1 505.26h1.6v1.6h-1.6zM324.96 501.72h1.6v1.6h-1.6zM344.89 504.43h1.6v1.6h-1.6zM330.7 503.25h1.6v1.6h-1.6zM350.5 505.43h1.6v1.6h-1.6zM357.98 506.13h1.6v1.6h-1.6zM327.54 502.54h1.6v1.6h-1.6zM345.31 501.65h1.6v1.6h-1.6zM339.9 506.5h1.6v1.6h-1.6zM327.11 505.09h1.6v1.6h-1.6zM333.84 502.85h1.6v1.6h-1.6zM330.54 503.4h1.6v1.6h-1.6zM338.88 502.45h1.6v1.6h-1.6zM346.1 503.01h1.6v1.6h-1.6zM350.75 502.74h1.6v1.6h-1.6zM346.04 505.29h1.6v1.6h-1.6zM336.81 500h1.6v1.6h-1.6zM331.38 505.83h1.6v1.6h-1.6zM357.46 501.78h1.6v1.6h-1.6zM336.3 502.59h1.6v1.6h-1.6zM348.8 502.16h1.6v1.6h-1.6zM326.74 506.49h1.6v1.6h-1.6zM336.58 504.59h1.6v1.6h-1.6zM345.92 503.48h1.6v1.6h-1.6zM357.55 503.88h1.6v1.6h-1.6zM359.76 501.38h1.6v1.6h-1.6zM336.39 501.69h1.6v1.6h-1.6zM330.24 503.89h1.6v1.6h-1.6zM353.6 502.94h1.6v1.6h-1.6zM343.82 501.05h1.6v1.6h-1.6zM346.06 502.81h1.6v1.6h-1.6zM351.01 502.99h1.6v1.6h-1.6zM352.25 500.5h1.6v1.6h-1.6zM352.13 502.25h1.6v1.6h-1.6zM343.28 504.27h1.6v1.6h-1.6zM329.38 500.91h1.6v1.6h-1.6zM352.18 504.24h1.6v1.6h-1.6zM359.83 503.84h1.6v1.6h-1.6zM325.69 502.93h1.6v1.6h-1.6zM326.84 502.61h1.6v1.6h-1.6zM358.06 503.37h1.6v1.6h-1.6zM330 503.45h1.6v1.6h-1.6zM330.45 499.3h1.6v1.6h-1.6zM352.32 506.14h1.6v1.6h-1.6zM347.28 503.54h1.6v1.6h-1.6zM353.12 501.86h1.6v1.6h-1.6zM328.53 507.67h1.6v1.6h-1.6zM327.02 500.54h1.6v1.6h-1.6zM326.83 506.11h1.6v1.6h-1.6zM339.25 506.44h1.6v1.6h-1.6zM332.65 502.85h1.6v1.6h-1.6zM334.01 503.96h1.6v1.6h-1.6zM351.65 505.14h1.6v1.6h-1.6zM335.3 504.34h1.6v1.6h-1.6zM330.26 506.34h1.6v1.6h-1.6zM355.56 503.84h1.6v1.6h-1.6zM334.73 500.08h1.6v1.6h-1.6zM341.94 505.4h1.6v1.6h-1.6zM345.91 506.38h1.6v1.6h-1.6zM345.26 504.84h1.6v1.6h-1.6zM337.49 507.82h1.6v1.6h-1.6zM355.35 508.06h1.6v1.6h-1.6zM335.26 498.9h1.6v1.6h-1.6zM328.66 508.2h1.6v1.6h-1.6zM330.05 504.06h1.6v1.6h-1.6zM328.16 503.44h1.6v1.6h-1.6zM336.75 503.01h1.6v1.6h-1.6zM350.13 504.31h1.6v1.6h-1.6zM333.03 503.73h1.6v1.6h-1.6zM349.18 502.35h1.6v1.6h-1.6zM339.98 503.76h1.6v1.6h-1.6zM325.41 502.13h1.6v1.6h-1.6zM328.98 507.55h1.6v1.6h-1.6zM329.52 505.11h1.6v1.6h-1.6zM329.95 506.54h1.6v1.6h-1.6zM342.48 502.38h1.6v1.6h-1.6zM357.31 505.66h1.6v1.6h-1.6zM332.34 506.21h1.6v1.6h-1.6zM334.39 501.63h1.6v1.6h-1.6zM334.1 506.1h1.6v1.6h-1.6zM339.19 504.44h1.6v1.6h-1.6zM337.57 502.7h1.6v1.6h-1.6zM344.01 501.11h1.6v1.6h-1.6zM349.21 506.04h1.6v1.6h-1.6zM338.87 501.54h1.6v1.6h-1.6zM339.58 502.3h1.6v1.6h-1.6zM339.25 505.09h1.6v1.6h-1.6zM360.14 500.24h1.6v1.6h-1.6zM333.74 500.94h1.6v1.6h-1.6zM338.08 504.12h1.6v1.6h-1.6zM354.63 504.74h1.6v1.6h-1.6zM356.95 503.19h1.6v1.6h-1.6zM347.64 502.14h1.6v1.6h-1.6zM335.9 507.11h1.6v1.6h-1.6zM355 503.82h1.6v1.6h-1.6zM345.73 504.08h1.6v1.6h-1.6zM351.09 506.6h1.6v1.6h-1.6zM349.98 501.08h1.6v1.6h-1.6zM348.74 503.35h1.6v1.6h-1.6zM347.03 504.26h1.6v1.6h-1.6zM334.11 506.52h1.6v1.6h-1.6zM341.5 501.55h1.6v1.6h-1.6zM332.55 503.49h1.6v1.6h-1.6zM357.62 501.38h1.6v1.6h-1.6zM353.57 503.43h1.6v1.6h-1.6zM330.82 501.03h1.6v1.6h-1.6zM354.07 504.51h1.6v1.6h-1.6zM355.51 501.03h1.6v1.6h-1.6zM353.73 506.36h1.6v1.6h-1.6zM330.16 505.3h1.6v1.6h-1.6zM353.21 504.93h1.6v1.6h-1.6zM340.77 498.4h1.6v1.6h-1.6zM349.37 507.96h1.6v1.6h-1.6zM341.68 503.86h1.6v1.6h-1.6zM348.85 502.66h1.6v1.6h-1.6zM343.18 502.55h1.6v1.6h-1.6zM338.23 505.12h1.6v1.6h-1.6zM331.83 504.97h1.6v1.6h-1.6zM350.2 504.24h1.6v1.6h-1.6zM336.2 504.24h1.6v1.6h-1.6zM347.28 503.04h1.6v1.6h-1.6zM331.86 504.53h1.6v1.6h-1.6zM337.89 501.12h1.6v1.6h-1.6zM340.41 503.41h1.6v1.6h-1.6zM339.18 502.17h1.6v1.6h-1.6zM353.48 501.82h1.6v1.6h-1.6zM357.53 505.53h1.6v1.6h-1.6zM359.18 501.74h1.6v1.6h-1.6zM336.4 505.93h1.6v1.6h-1.6zM351.54 501.49h1.6v1.6h-1.6zM356.7 503.42h1.6v1.6h-1.6zM325.61 501.63h1.6v1.6h-1.6zM354.51 504.32h1.6v1.6h-1.6zM341.51 501.64h1.6v1.6h-1.6zM342.87 504.66h1.6v1.6h-1.6zM348.5 503.33h1.6v1.6h-1.6zM348.83 504.13h1.6v1.6h-1.6zM352.01 504.84h1.6v1.6h-1.6zM327.44 504.75h1.6v1.6h-1.6zM328.31 503.85h1.6v1.6h-1.6zM326.65 501.22h1.6v1.6h-1.6zM349.94 506.69h1.6v1.6h-1.6zM339.54 504.83h1.6v1.6h-1.6zM360.13 504.58h1.6v1.6h-1.6zM336.57 502.99h1.6v1.6h-1.6zM324.91 503.56h1.6v1.6h-1.6zM335.81 505.34h1.6v1.6h-1.6zM355.19 501.72h1.6v1.6h-1.6zM326.52 503.66h1.6v1.6h-1.6zM355.47 504.76h1.6v1.6h-1.6zM331.87 502.59h1.6v1.6h-1.6zM343.76 501.54h1.6v1.6h-1.6zM345.42 504.32h1.6v1.6h-1.6zM353.15 506.03h1.6v1.6h-1.6zM326.52 502.56h1.6v1.6h-1.6zM343.62 502.18h1.6v1.6h-1.6zM334.41 503.1h1.6v1.6h-1.6zM335.05 504.67h1.6v1.6h-1.6zM340.84 501.27h1.6v1.6h-1.6zM340.49 505.79h1.6v1.6h-1.6zM347.39 504.56h1.6v1.6h-1.6zM355.32 502.76h1.6v1.6h-1.6zM357.45 503.08h1.6v1.6h-1.6zM353.12 502.42h1.6v1.6h-1.6zM335.17 501.14h1.6v1.6h-1.6zM354.46 504.98h1.6v1.6h-1.6zM328.28 503.13h1.6v1.6h-1.6zM352.54 501.28h1.6v1.6h-1.6zM333.84 505.3h1.6v1.6h-1.6zM349.05 506.69h1.6v1.6h-1.6zM326.18 504.88h1.6v1.6h-1.6zM335.12 502.28h1.6v1.6h-1.6zM344.6 502.94h1.6v1.6h-1.6zM357.07 504.42h1.6v1.6h-1.6zM353.08 502.84h1.6v1.6h-1.6zM338.6 501.71h1.6v1.6h-1.6zM332.63 505.76h1.6v1.6h-1.6zM328.02 503.51h1.6v1.6h-1.6zM348.8 501.7h1.6v1.6h-1.6zM354.11 509.71h1.6v1.6h-1.6zM358.05 500.71h1.6v1.6h-1.6zM335.02 503.81h1.6v1.6h-1.6zM357.71 501.46h1.6v1.6h-1.6zM341.91 501.76h1.6v1.6h-1.6zM327.84 502.36h1.6v1.6h-1.6zM334.33 504.61h1.6v1.6h-1.6zM357.52 502.61h1.6v1.6h-1.6zM345.96 501.12h1.6v1.6h-1.6zM348.01 507.79h1.6v1.6h-1.6zM336.53 503.85h1.6v1.6h-1.6zM331.05 507.09h1.6v1.6h-1.6zM335.29 502.96h1.6v1.6h-1.6zM344.28 503.47h1.6v1.6h-1.6zM345.84 506.15h1.6v1.6h-1.6zM328.15 504.3h1.6v1.6h-1.6zM329.38 502.63h1.6v1.6h-1.6zM348.24 505.35h1.6v1.6h-1.6zM330.72 501.91h1.6v1.6h-1.6zM355.71 507.15h1.6v1.6h-1.6zM329.99 504.52h1.6v1.6h-1.6zM342.31 503.11h1.6v1.6h-1.6zM328.87 505.07h1.6v1.6h-1.6zM342.69 505.92h1.6v1.6h-1.6zM331.72 504.1h1.6v1.6h-1.6zM333.22 504.8h1.6v1.6h-1.6zM342.51 508.57h1.6v1.6h-1.6zM342.04 504.25h1.6v1.6h-1.6zM344.95 504.23h1.6v1.6h-1.6zM330.15 507.1h1.6v1.6h-1.6zM325.8 502.15h1.6v1.6h-1.6zM356.31 503.61h1.6v1.6h-1.6zM345.24 500.91h1.6v1.6h-1.6zM349.93 501.83h1.6v1.6h-1.6zM333.42 504.38h1.6v1.6h-1.6zM346.65 503.74h1.6v1.6h-1.6zM353.62 504.63h1.6v1.6h-1.6zM357.39 501.73h1.6v1.6h-1.6zM358.08 503.08h1.6v1.6h-1.6zM333.39 504.27h1.6v1.6h-1.6zM348.8 503.19h1.6v1.6h-1.6zM331.74 504.71h1.6v1.6h-1.6zM336.45 507.34h1.6v1.6h-1.6zM341.73 503.74h1.6v1.6h-1.6zM352.36 503.83h1.6v1.6h-1.6zM331.77 500.96h1.6v1.6h-1.6zM354.72 506.46h1.6v1.6h-1.6zM337.1 505.54h1.6v1.6h-1.6zM358.98 503.77h1.6v1.6h-1.6zM354.11 502.72h1.6v1.6h-1.6zM356.82 505.58h1.6v1.6h-1.6zM345.66 500.67h1.6v1.6h-1.6zM353.99 504.96h1.6v1.6h-1.6zM358.81 502.58h1.6v1.6h-1.6zM358.28 507.25h1.6v1.6h-1.6zM333.65 503.11h1.6v1.6h-1.6zM332.94 502.38h1.6v1.6h-1.6zM342.19 504.18h1.6v1.6h-1.6zM349.03 501.07h1.6v1.6h-1.6zM352.87 506h1.6v1.6h-1.6zM358.13 503.09h1.6v1.6h-1.6zM347.86 504.27h1.6v1.6h-1.6zM336.76 505.63h1.6v1.6h-1.6zM324.86 500.76h1.6v1.6h-1.6zM325.28 504.6h1.6v1.6h-1.6zM346.17 501.87h1.6v1.6h-1.6zM336.61 501.46h1.6v1.6h-1.6zM346.68 506.87h1.6v1.6h-1.6zM327.82 503.15h1.6v1.6h-1.6zM348.17 501.74h1.6v1.6h-1.6zM328.99 507.4h1.6v1.6h-1.6zM331.24 504.76h1.6v1.6h-1.6zM358.7 504.48h1.6v1.6h-1.6zM346.36 507.95h1.6v1.6h-1.6zM338.7 506.09h1.6v1.6h-1.6zM359.79 503.15h1.6v1.6h-1.6zM354.19 503.75h1.6v1.6h-1.6zM330.92 503.79h1.6v1.6h-1.6zM340.84 503.79h1.6v1.6h-1.6zM328.28 505.66h1.6v1.6h-1.6zM355.31 500.52h1.6v1.6h-1.6zM356.43 507.01h1.6v1.6h-1.6zM327.39 499.07h1.6v1.6h-1.6zM337.54 505.53h1.6v1.6h-1.6zM347.13 500.82h1.6v1.6h-1.6zM356.91 503.38h1.6v1.6h-1.6zM337.61 507.35h1.6v1.6h-1.6zM348.97 505.13h1.6v1.6h-1.6zM340.59 506.3h1.6v1.6h-1.6zM351.32 501.76h1.6v1.6h-1.6zM336.24 507.83h1.6v1.6h-1.6zM329.83 502.57h1.6v1.6h-1.6zM345.18 501.21h1.6v1.6h-1.6zM347.47 505.88h1.6v1.6h-1.6zM351.77 501.79h1.6v1.6h-1.6zM359.42 503.23h1.6v1.6h-1.6zM353.27 500.05h1.6v1.6h-1.6zM349.89 507.3h1.6v1.6h-1.6zM334.55 500.47h1.6v1.6h-1.6zM352.87 502.1h1.6v1.6h-1.6zM329.67 504.65h1.6v1.6h-1.6zM350.91 502.97h1.6v1.6h-1.6zM335.78 503.22h1.6v1.6h-1.6zM359.03 505.68h1.6v1.6h-1.6zM331.34 505.04h1.6v1.6h-1.6zM336.09 503.34h1.6v1.6h-1.6zM328.55 502.25h1.6v1.6h-1.6zM358.91 505.02h1.6v1.6h-1.6zM331.94 500.17h1.6v1.6h-1.6zM347.32 504.97h1.6v1.6h-1.6zM335.87 503.9h1.6v1.6h-1.6zM344.54 501.55h1.6v1.6h-1.6zM351.42 500.89h1.6v1.6h-1.6zM343.49 507.19h1.6v1.6h-1.6zM347.07 503.88h1.6v1.6h-1.6zM354.05 503.22h1.6v1.6h-1.6zM337.25 503.65h1.6v1.6h-1.6zM327.18 505.29h1.6v1.6h-1.6zM351.46 500.7h1.6v1.6h-1.6zM328.65 505.69h1.6v1.6h-1.6zM347.59 501.75h1.6v1.6h-1.6zM352.2 501.51h1.6v1.6h-1.6zM358.08 502.71h1.6v1.6h-1.6zM353.3 505.47h1.6v1.6h-1.6zM331.29 501.42h1.6v1.6h-1.6zM348.46 503.32h1.6v1.6h-1.6zM329.44 505.69h1.6v1.6h-1.6zM342.53 504.63h1.6v1.6h-1.6zM348.41 501.65h1.6v1.6h-1.6zM334.42 505.29h1.6v1.6h-1.6zM352.69 505.54h1.6v1.6h-1.6zM351.47 506.23h1.6v1.6h-1.6zM356.59 503.64h1.6v1.6h-1.6zM347.73 500.09h1.6v1.6h-1.6zM329.36 503.01h1.6v1.6h-1.6zM334.47 501.16h1.6v1.6h-1.6zM346.12 503.6h1.6v1.6h-1.6zM332.65 505.17h1.6v1.6h-1.6zM348.7 504.41h1.6v1.6h-1.6zM349.53 502.01h1.6v1.6h-1.6zM354.47 506.62h1.6v1.6h-1.6zM329.63 503.86h1.6v1.6h-1.6zM326.8 500.38h1.6v1.6h-1.6zM326.11 502.57h1.6v1.6h-1.6zM328.62 502.55h1.6v1.6h-1.6zM336.45 502.48h1.6v1.6h-1.6zM332.43 504.77h1.6v1.6h-1.6zM353.41 507.5h1.6v1.6h-1.6zM325.78 506.13h1.6v1.6h-1.6zM339.75 504.22h1.6v1.6h-1.6zM347.07 502.06h1.6v1.6h-1.6zM342.88 502.77h1.6v1.6h-1.6zM332.73 507.41h1.6v1.6h-1.6zM358.83 503.7h1.6v1.6h-1.6zM359.71 502.74h1.6v1.6h-1.6zM340.82 503.95h1.6v1.6h-1.6zM349.85 503.09h1.6v1.6h-1.6zM339 504.89h1.6v1.6h-1.6zM331.59 501.66h1.6v1.6h-1.6zM331.72 503.58h1.6v1.6h-1.6zM331.68 500.91h1.6v1.6h-1.6zM359.24 502.65h1.6v1.6h-1.6zM358.36 503.25h1.6v1.6h-1.6zM326.93 500.66h1.6v1.6h-1.6zM325.16 503.31h1.6v1.6h-1.6zM334.06 501.02h1.6v1.6h-1.6zM330.51 505.51h1.6v1.6h-1.6zM326.27 503.71h1.6v1.6h-1.6zM337.31 504.54h1.6v1.6h-1.6zM328.33 501.72h1.6v1.6h-1.6zM330.16 497.79h1.6v1.6h-1.6zM357.07 504.9h1.6v1.6h-1.6zM341.61 504.46h1.6v1.6h-1.6zM344.7 504.49h1.6v1.6h-1.6zM332.13 508.14h1.6v1.6h-1.6zM349.91 504.38h1.6v1.6h-1.6zM359.51 503.58h1.6v1.6h-1.6zM353.52 501.84h1.6v1.6h-1.6zM329.45 504.39h1.6v1.6h-1.6zM338.15 506.39h1.6v1.6h-1.6zM354.18 503.22h1.6v1.6h-1.6zM356.26 503.93h1.6v1.6h-1.6zM327.22 500.85h1.6v1.6h-1.6zM341.9 500.86h1.6v1.6h-1.6zM332 505.43h1.6v1.6h-1.6zM328.39 502.7h1.6v1.6h-1.6zM329.18 501.24h1.6v1.6h-1.6zM347.29 504.52h1.6v1.6h-1.6zM340.31 503.69h1.6v1.6h-1.6zM341.41 503.14h1.6v1.6h-1.6zM348.59 503.99h1.6v1.6h-1.6zM349.27 506.69h1.6v1.6h-1.6zM329.73 503.22h1.6v1.6h-1.6zM333.17 503.38h1.6v1.6h-1.6zM332.82 504.68h1.6v1.6h-1.6zM347.2 500.18h1.6v1.6h-1.6zM326.06 507.36h1.6v1.6h-1.6zM326.05 503.26h1.6v1.6h-1.6zM333.24 504.37h1.6v1.6h-1.6zM357.73 506.73h1.6v1.6h-1.6zM357.33 504.02h1.6v1.6h-1.6zM351.58 504.12h1.6v1.6h-1.6zM359.25 505.2h1.6v1.6h-1.6zM330.48 507.15h1.6v1.6h-1.6zM328.46 507.23h1.6v1.6h-1.6zM324.78 500.95h1.6v1.6h-1.6zM344.43 501.02h1.6v1.6h-1.6zM345.81 503.76h1.6v1.6h-1.6zM327.46 502.21h1.6v1.6h-1.6zM338.79 503.33h1.6v1.6h-1.6z" fill="#0a0a0a"/>
<line x1="325.5" y1="504.6" x2="361" y2="504.6" stroke="#a01826" stroke-width="1.2"/>
<path d="M467.85 479.48h1.5v1.5h-1.5zM426.2 474.02h1.5v1.5h-1.5zM454.07 476.59h1.5v1.5h-1.5zM501.43 478.01h1.5v1.5h-1.5zM410.9 477.02h1.5v1.5h-1.5zM482.84 473.3h1.5v1.5h-1.5zM413.09 477.65h1.5v1.5h-1.5zM447.74 476.31h1.5v1.5h-1.5zM471.3 478.51h1.5v1.5h-1.5zM460.23 478.04h1.5v1.5h-1.5zM435.22 475.02h1.5v1.5h-1.5zM453.86 479.21h1.5v1.5h-1.5zM466.06 481.13h1.5v1.5h-1.5zM463.74 475.37h1.5v1.5h-1.5zM458.54 473.46h1.5v1.5h-1.5zM385.84 479.45h1.5v1.5h-1.5zM423.85 477.52h1.5v1.5h-1.5zM410.31 479.41h1.5v1.5h-1.5zM373.49 480.73h1.5v1.5h-1.5zM495.01 477.17h1.5v1.5h-1.5zM481.17 477.58h1.5v1.5h-1.5zM395.99 475.79h1.5v1.5h-1.5zM362.79 481.29h1.5v1.5h-1.5zM407.45 474.3h1.5v1.5h-1.5zM472.2 478.3h1.5v1.5h-1.5zM374.96 474.94h1.5v1.5h-1.5zM405.26 475.72h1.5v1.5h-1.5zM499.86 479.57h1.5v1.5h-1.5zM436.79 472.51h1.5v1.5h-1.5zM418.88 476.31h1.5v1.5h-1.5zM459.84 478.84h1.5v1.5h-1.5zM401.45 478.36h1.5v1.5h-1.5zM361.73 476.13h1.5v1.5h-1.5zM385.33 471.05h1.5v1.5h-1.5zM459.42 477.46h1.5v1.5h-1.5zM395.81 473.87h1.5v1.5h-1.5zM363.77 477.98h1.5v1.5h-1.5zM499.67 479.2h1.5v1.5h-1.5zM445.52 474.78h1.5v1.5h-1.5zM403.85 475.59h1.5v1.5h-1.5zM369.46 476.76h1.5v1.5h-1.5zM376.13 478.48h1.5v1.5h-1.5zM500.43 477h1.5v1.5h-1.5zM385.56 481.28h1.5v1.5h-1.5zM403.74 476.66h1.5v1.5h-1.5zM465.43 475.33h1.5v1.5h-1.5zM495.03 477.82h1.5v1.5h-1.5zM480 477.07h1.5v1.5h-1.5zM483.81 476.7h1.5v1.5h-1.5zM361.17 475.99h1.5v1.5h-1.5zM491.05 475.97h1.5v1.5h-1.5zM455.69 475.09h1.5v1.5h-1.5zM380.59 479.7h1.5v1.5h-1.5zM454.39 477.32h1.5v1.5h-1.5zM392.14 481.84h1.5v1.5h-1.5zM378.62 477.95h1.5v1.5h-1.5zM412.51 480.05h1.5v1.5h-1.5zM396.26 480.51h1.5v1.5h-1.5zM435.64 477.59h1.5v1.5h-1.5zM401.14 481.47h1.5v1.5h-1.5zM470.72 478.08h1.5v1.5h-1.5zM415.49 479h1.5v1.5h-1.5zM452.82 478.03h1.5v1.5h-1.5zM456.04 477.03h1.5v1.5h-1.5zM393.82 476.54h1.5v1.5h-1.5zM426.49 477.96h1.5v1.5h-1.5zM373.35 476.2h1.5v1.5h-1.5zM393.23 477.72h1.5v1.5h-1.5zM376.92 475.96h1.5v1.5h-1.5zM495.65 479.45h1.5v1.5h-1.5zM370.13 477.45h1.5v1.5h-1.5zM486.02 474.72h1.5v1.5h-1.5zM484.23 480.07h1.5v1.5h-1.5zM394.54 476.62h1.5v1.5h-1.5zM485.21 479.05h1.5v1.5h-1.5zM493.84 478.41h1.5v1.5h-1.5zM465.87 475.71h1.5v1.5h-1.5zM389.54 478.11h1.5v1.5h-1.5zM412.17 480.06h1.5v1.5h-1.5zM385.86 477.3h1.5v1.5h-1.5zM454.5 480h1.5v1.5h-1.5zM467.19 477.93h1.5v1.5h-1.5zM393.72 475.03h1.5v1.5h-1.5zM380.79 475.59h1.5v1.5h-1.5zM496.95 478.87h1.5v1.5h-1.5zM490.73 475.9h1.5v1.5h-1.5zM392.67 478.29h1.5v1.5h-1.5zM391.23 477.02h1.5v1.5h-1.5zM423.45 478.86h1.5v1.5h-1.5zM444.39 480.96h1.5v1.5h-1.5zM418.08 482.89h1.5v1.5h-1.5zM393.57 477.97h1.5v1.5h-1.5zM433.99 470.73h1.5v1.5h-1.5zM449.89 477.89h1.5v1.5h-1.5zM480.75 479.98h1.5v1.5h-1.5zM392.58 477.54h1.5v1.5h-1.5zM406.44 475.74h1.5v1.5h-1.5zM363.08 480.28h1.5v1.5h-1.5zM383.27 480.56h1.5v1.5h-1.5zM397.16 477.55h1.5v1.5h-1.5zM441.28 478.61h1.5v1.5h-1.5zM377.24 478.79h1.5v1.5h-1.5zM381.39 474.67h1.5v1.5h-1.5zM488.38 477.15h1.5v1.5h-1.5zM393.75 475.48h1.5v1.5h-1.5zM419.09 476.31h1.5v1.5h-1.5zM455.76 479.23h1.5v1.5h-1.5zM496.44 477.08h1.5v1.5h-1.5zM367.24 477.88h1.5v1.5h-1.5zM401.78 477.8h1.5v1.5h-1.5zM500.05 475.18h1.5v1.5h-1.5zM482.91 478.85h1.5v1.5h-1.5zM454.56 478.77h1.5v1.5h-1.5zM455.24 478.65h1.5v1.5h-1.5zM475.98 478.95h1.5v1.5h-1.5zM370.78 477.21h1.5v1.5h-1.5zM442.5 476.95h1.5v1.5h-1.5zM394.07 475.97h1.5v1.5h-1.5zM435.76 480.79h1.5v1.5h-1.5zM450.33 479.16h1.5v1.5h-1.5zM457.27 480.04h1.5v1.5h-1.5zM458.12 477.7h1.5v1.5h-1.5zM453.7 481.28h1.5v1.5h-1.5zM393.54 476.55h1.5v1.5h-1.5zM498.74 472.82h1.5v1.5h-1.5zM490.35 480.59h1.5v1.5h-1.5zM466.44 475.61h1.5v1.5h-1.5zM378.26 474.34h1.5v1.5h-1.5zM390.94 478.71h1.5v1.5h-1.5zM418.68 477.81h1.5v1.5h-1.5zM371.04 480.25h1.5v1.5h-1.5zM411.36 476.53h1.5v1.5h-1.5zM423.19 477.14h1.5v1.5h-1.5zM457.83 477.6h1.5v1.5h-1.5zM413.39 477.99h1.5v1.5h-1.5zM452.92 473.39h1.5v1.5h-1.5zM462.03 478.79h1.5v1.5h-1.5zM403.4 481.09h1.5v1.5h-1.5zM478.96 480.18h1.5v1.5h-1.5zM445.19 473.91h1.5v1.5h-1.5zM361.93 477.28h1.5v1.5h-1.5zM369.91 475.82h1.5v1.5h-1.5zM384.88 479.14h1.5v1.5h-1.5zM398.22 477.59h1.5v1.5h-1.5zM502.99 481.42h1.5v1.5h-1.5zM500.49 480.93h1.5v1.5h-1.5zM408.41 476.57h1.5v1.5h-1.5zM429.23 479.62h1.5v1.5h-1.5zM367.73 478.05h1.5v1.5h-1.5zM450.3 478.37h1.5v1.5h-1.5zM397.9 477.28h1.5v1.5h-1.5zM431.11 475.56h1.5v1.5h-1.5zM494.54 478.76h1.5v1.5h-1.5zM460.25 477.95h1.5v1.5h-1.5zM463.79 478.71h1.5v1.5h-1.5zM373.42 473.76h1.5v1.5h-1.5zM387.51 478.85h1.5v1.5h-1.5zM393.3 473.88h1.5v1.5h-1.5zM456.02 478.48h1.5v1.5h-1.5zM444.27 478.65h1.5v1.5h-1.5zM451.74 477.43h1.5v1.5h-1.5zM437.11 479.86h1.5v1.5h-1.5zM364.23 477.88h1.5v1.5h-1.5zM452.58 479.34h1.5v1.5h-1.5zM448.95 478.08h1.5v1.5h-1.5zM455.88 479.37h1.5v1.5h-1.5zM382.58 478.1h1.5v1.5h-1.5zM463.68 473.47h1.5v1.5h-1.5zM475.01 476.14h1.5v1.5h-1.5zM367.83 480.77h1.5v1.5h-1.5zM372.68 476.29h1.5v1.5h-1.5zM494.93 477.44h1.5v1.5h-1.5zM426.75 479.46h1.5v1.5h-1.5zM435.39 479.34h1.5v1.5h-1.5zM463.69 477.72h1.5v1.5h-1.5zM369.91 476.52h1.5v1.5h-1.5zM429.91 476.79h1.5v1.5h-1.5zM405.93 476.19h1.5v1.5h-1.5zM463.11 475.89h1.5v1.5h-1.5zM494.34 479.28h1.5v1.5h-1.5zM449.53 474.54h1.5v1.5h-1.5zM400.17 478.41h1.5v1.5h-1.5zM502.12 479.25h1.5v1.5h-1.5zM449.62 479.33h1.5v1.5h-1.5zM369.7 477.86h1.5v1.5h-1.5zM372.19 475.21h1.5v1.5h-1.5zM373.4 479.27h1.5v1.5h-1.5zM471.18 478.12h1.5v1.5h-1.5zM375.21 478.94h1.5v1.5h-1.5zM480.63 479.87h1.5v1.5h-1.5zM384.95 475.77h1.5v1.5h-1.5zM377.64 478.45h1.5v1.5h-1.5zM500.75 477.33h1.5v1.5h-1.5zM489.14 481.16h1.5v1.5h-1.5zM428.35 476.11h1.5v1.5h-1.5zM427.26 476.45h1.5v1.5h-1.5zM466.25 479.47h1.5v1.5h-1.5zM375.28 482.75h1.5v1.5h-1.5zM408.92 477.47h1.5v1.5h-1.5zM503.48 480.02h1.5v1.5h-1.5zM483.74 479.24h1.5v1.5h-1.5zM409.32 480.77h1.5v1.5h-1.5zM420.46 479.43h1.5v1.5h-1.5zM361.26 475.37h1.5v1.5h-1.5zM447.76 479.42h1.5v1.5h-1.5zM482.87 476.97h1.5v1.5h-1.5zM398.34 476.1h1.5v1.5h-1.5zM414.63 479h1.5v1.5h-1.5zM392.71 474.9h1.5v1.5h-1.5zM488.5 479.22h1.5v1.5h-1.5zM395.21 479.8h1.5v1.5h-1.5zM465.39 471.21h1.5v1.5h-1.5zM477.72 476.35h1.5v1.5h-1.5zM481.59 475.76h1.5v1.5h-1.5zM437.98 478.42h1.5v1.5h-1.5zM482.19 475.72h1.5v1.5h-1.5zM487.27 480.91h1.5v1.5h-1.5zM457.97 476.18h1.5v1.5h-1.5zM366.71 475.23h1.5v1.5h-1.5zM408.98 476.83h1.5v1.5h-1.5zM473.25 478h1.5v1.5h-1.5zM395.93 479.51h1.5v1.5h-1.5zM407.22 478.01h1.5v1.5h-1.5zM370 476.04h1.5v1.5h-1.5zM467.28 475.38h1.5v1.5h-1.5zM476.18 478.08h1.5v1.5h-1.5zM404.71 479.51h1.5v1.5h-1.5zM490.29 476.03h1.5v1.5h-1.5zM404.95 476.62h1.5v1.5h-1.5zM444.99 477.09h1.5v1.5h-1.5zM434.99 473.63h1.5v1.5h-1.5zM456.32 479.82h1.5v1.5h-1.5zM412.33 480.83h1.5v1.5h-1.5zM377.87 476.68h1.5v1.5h-1.5zM364.81 474.36h1.5v1.5h-1.5zM422.04 478.99h1.5v1.5h-1.5zM435.74 478.05h1.5v1.5h-1.5zM392.01 475.55h1.5v1.5h-1.5zM476.08 482.65h1.5v1.5h-1.5zM422.65 472.94h1.5v1.5h-1.5zM462.75 478.11h1.5v1.5h-1.5zM407.49 479.33h1.5v1.5h-1.5zM386.86 474.28h1.5v1.5h-1.5zM380.54 477.54h1.5v1.5h-1.5zM504.84 477.94h1.5v1.5h-1.5zM491.82 476.21h1.5v1.5h-1.5zM469.96 474.33h1.5v1.5h-1.5zM389.84 481.36h1.5v1.5h-1.5zM432.65 481.99h1.5v1.5h-1.5zM433.87 474.34h1.5v1.5h-1.5zM441 474.85h1.5v1.5h-1.5zM421.25 474.64h1.5v1.5h-1.5zM397.35 475.23h1.5v1.5h-1.5zM427.7 478.82h1.5v1.5h-1.5zM360.57 476.8h1.5v1.5h-1.5zM394.15 473.97h1.5v1.5h-1.5zM434.72 473.75h1.5v1.5h-1.5zM389.06 474.68h1.5v1.5h-1.5zM464.34 476.73h1.5v1.5h-1.5zM399.3 474.18h1.5v1.5h-1.5zM493.98 479.78h1.5v1.5h-1.5zM372.28 476.73h1.5v1.5h-1.5zM475.37 479.08h1.5v1.5h-1.5zM452.43 479.45h1.5v1.5h-1.5zM408.51 477.59h1.5v1.5h-1.5zM383.14 479.01h1.5v1.5h-1.5zM449.45 478.36h1.5v1.5h-1.5zM372.08 478.86h1.5v1.5h-1.5zM405.57 478.57h1.5v1.5h-1.5zM423.57 479.85h1.5v1.5h-1.5zM430.3 476.11h1.5v1.5h-1.5zM445.64 477.81h1.5v1.5h-1.5zM384.3 475.82h1.5v1.5h-1.5zM418.28 472.07h1.5v1.5h-1.5zM421.44 476.75h1.5v1.5h-1.5zM381.85 475.51h1.5v1.5h-1.5zM442.83 479.63h1.5v1.5h-1.5zM411.18 474.67h1.5v1.5h-1.5zM493.28 475.86h1.5v1.5h-1.5zM440.17 478.31h1.5v1.5h-1.5zM466.41 478.83h1.5v1.5h-1.5zM483.31 479.21h1.5v1.5h-1.5zM445.36 474.71h1.5v1.5h-1.5zM439.47 482.02h1.5v1.5h-1.5zM386.22 480.71h1.5v1.5h-1.5zM363.63 475.18h1.5v1.5h-1.5zM429.34 474.49h1.5v1.5h-1.5zM410.51 481.08h1.5v1.5h-1.5zM494.6 475.59h1.5v1.5h-1.5zM415.92 477.84h1.5v1.5h-1.5zM473.79 476.05h1.5v1.5h-1.5zM412.4 479.13h1.5v1.5h-1.5zM437.95 475.53h1.5v1.5h-1.5zM383 481.1h1.5v1.5h-1.5zM362.91 481.26h1.5v1.5h-1.5zM381.06 479h1.5v1.5h-1.5zM368.11 477.18h1.5v1.5h-1.5zM491.84 474.06h1.5v1.5h-1.5zM439.68 481.79h1.5v1.5h-1.5zM422.73 480.22h1.5v1.5h-1.5zM468.29 476.82h1.5v1.5h-1.5zM486.41 478.19h1.5v1.5h-1.5zM446.37 478.28h1.5v1.5h-1.5zM377.78 477.73h1.5v1.5h-1.5zM462.52 478.55h1.5v1.5h-1.5zM386 478.4h1.5v1.5h-1.5zM457.33 473.63h1.5v1.5h-1.5zM422.79 482.25h1.5v1.5h-1.5zM396.51 484.61h1.5v1.5h-1.5zM462.17 476.41h1.5v1.5h-1.5zM385.85 475.42h1.5v1.5h-1.5zM368.3 480.45h1.5v1.5h-1.5zM458.52 473.93h1.5v1.5h-1.5zM443.28 478.99h1.5v1.5h-1.5zM487.64 476.4h1.5v1.5h-1.5zM496.63 479.44h1.5v1.5h-1.5zM492.49 478.4h1.5v1.5h-1.5zM415.37 478.61h1.5v1.5h-1.5zM360.42 478.14h1.5v1.5h-1.5zM360.56 474.97h1.5v1.5h-1.5zM419.84 474.33h1.5v1.5h-1.5zM419.06 476.04h1.5v1.5h-1.5zM498.39 476.11h1.5v1.5h-1.5zM414.39 476.28h1.5v1.5h-1.5zM490.89 478.52h1.5v1.5h-1.5zM503.51 473.58h1.5v1.5h-1.5zM405.93 477.32h1.5v1.5h-1.5zM382.74 480.56h1.5v1.5h-1.5zM430.67 478.36h1.5v1.5h-1.5zM494.72 477.12h1.5v1.5h-1.5zM381.38 473.25h1.5v1.5h-1.5zM444.85 475.42h1.5v1.5h-1.5zM495.18 477.72h1.5v1.5h-1.5zM399.89 476.54h1.5v1.5h-1.5zM486.17 477.3h1.5v1.5h-1.5zM465.72 475.87h1.5v1.5h-1.5zM373.91 477.28h1.5v1.5h-1.5zM454.69 476.05h1.5v1.5h-1.5zM413.51 484.79h1.5v1.5h-1.5zM421.67 474.85h1.5v1.5h-1.5zM477.06 473.32h1.5v1.5h-1.5zM417.97 478.74h1.5v1.5h-1.5zM428.35 477.54h1.5v1.5h-1.5zM458.35 476.32h1.5v1.5h-1.5zM503.15 477.48h1.5v1.5h-1.5zM452.16 476.39h1.5v1.5h-1.5zM395.89 480h1.5v1.5h-1.5zM372.36 478.07h1.5v1.5h-1.5zM489.36 475.14h1.5v1.5h-1.5zM464.03 478.1h1.5v1.5h-1.5zM409.55 478.02h1.5v1.5h-1.5zM477.96 478.65h1.5v1.5h-1.5zM386.73 476.87h1.5v1.5h-1.5zM494.68 478.68h1.5v1.5h-1.5zM473.78 478.88h1.5v1.5h-1.5zM491.27 476.74h1.5v1.5h-1.5zM500.65 475.7h1.5v1.5h-1.5zM483.79 475.56h1.5v1.5h-1.5zM374.02 478.69h1.5v1.5h-1.5zM467.81 474.42h1.5v1.5h-1.5zM426.98 482.39h1.5v1.5h-1.5zM383.04 476.37h1.5v1.5h-1.5zM440.15 478.14h1.5v1.5h-1.5zM427.99 478.59h1.5v1.5h-1.5zM398.61 474.04h1.5v1.5h-1.5zM445.27 476.31h1.5v1.5h-1.5zM488.32 483.57h1.5v1.5h-1.5zM380.11 475.99h1.5v1.5h-1.5zM500.03 475.72h1.5v1.5h-1.5zM363.91 476.99h1.5v1.5h-1.5zM377.74 475.61h1.5v1.5h-1.5zM497.34 475.49h1.5v1.5h-1.5zM412.32 475.72h1.5v1.5h-1.5zM484.91 475.5h1.5v1.5h-1.5zM412.04 475.75h1.5v1.5h-1.5zM395.19 483.07h1.5v1.5h-1.5zM369.09 476.14h1.5v1.5h-1.5zM433.38 477.06h1.5v1.5h-1.5zM481.17 475.53h1.5v1.5h-1.5zM503.71 472.94h1.5v1.5h-1.5zM463.23 479.76h1.5v1.5h-1.5zM500.36 478.26h1.5v1.5h-1.5zM442.24 473.45h1.5v1.5h-1.5zM445.29 479.95h1.5v1.5h-1.5zM361.65 479.34h1.5v1.5h-1.5zM374.5 481.3h1.5v1.5h-1.5zM398.56 475.61h1.5v1.5h-1.5zM499.98 477.36h1.5v1.5h-1.5zM460.95 480.55h1.5v1.5h-1.5zM375.78 472.12h1.5v1.5h-1.5zM398.99 475.42h1.5v1.5h-1.5zM498.11 479.99h1.5v1.5h-1.5zM503.92 476.81h1.5v1.5h-1.5zM465.1 476.48h1.5v1.5h-1.5zM411.84 477.51h1.5v1.5h-1.5zM382.7 478.77h1.5v1.5h-1.5zM445.15 478.94h1.5v1.5h-1.5zM443.1 479.75h1.5v1.5h-1.5zM419.63 478.31h1.5v1.5h-1.5zM421.08 477.62h1.5v1.5h-1.5zM469.57 478.28h1.5v1.5h-1.5zM373.18 476.09h1.5v1.5h-1.5zM415.98 477.7h1.5v1.5h-1.5zM456.97 476h1.5v1.5h-1.5zM425.43 480.21h1.5v1.5h-1.5zM386 476.17h1.5v1.5h-1.5zM371.67 480.25h1.5v1.5h-1.5zM421.21 479.24h1.5v1.5h-1.5zM434.07 477.6h1.5v1.5h-1.5zM404.06 478.82h1.5v1.5h-1.5zM491.78 476.35h1.5v1.5h-1.5zM366.34 478.12h1.5v1.5h-1.5zM482.72 479.26h1.5v1.5h-1.5zM368.22 480.12h1.5v1.5h-1.5zM408.41 477.39h1.5v1.5h-1.5zM433.84 474.06h1.5v1.5h-1.5zM456.91 477.04h1.5v1.5h-1.5zM490.72 476.73h1.5v1.5h-1.5zM392.07 477.85h1.5v1.5h-1.5zM459.5 478.44h1.5v1.5h-1.5zM408.35 476.8h1.5v1.5h-1.5zM417.9 476.18h1.5v1.5h-1.5zM422.25 480.04h1.5v1.5h-1.5zM503.49 478.73h1.5v1.5h-1.5zM374.24 476.11h1.5v1.5h-1.5zM456.94 477.65h1.5v1.5h-1.5zM477.1 481.25h1.5v1.5h-1.5zM428.46 475.92h1.5v1.5h-1.5zM429.93 476.21h1.5v1.5h-1.5zM443.64 474.42h1.5v1.5h-1.5zM366.31 477.89h1.5v1.5h-1.5zM406.48 476.53h1.5v1.5h-1.5zM444.34 475.59h1.5v1.5h-1.5zM412.96 480.32h1.5v1.5h-1.5zM399.93 477.38h1.5v1.5h-1.5zM373.02 477.62h1.5v1.5h-1.5zM485.22 480.05h1.5v1.5h-1.5zM463.76 481.25h1.5v1.5h-1.5zM414.97 478.2h1.5v1.5h-1.5zM411.06 477.56h1.5v1.5h-1.5zM504.32 480.8h1.5v1.5h-1.5zM485.28 475.46h1.5v1.5h-1.5zM500.4 480.24h1.5v1.5h-1.5zM388.27 476.64h1.5v1.5h-1.5zM429.83 475.71h1.5v1.5h-1.5zM445.08 479.42h1.5v1.5h-1.5zM400 475.26h1.5v1.5h-1.5zM456.12 477.49h1.5v1.5h-1.5zM436.92 477.98h1.5v1.5h-1.5zM473.08 474.15h1.5v1.5h-1.5zM395.87 475.42h1.5v1.5h-1.5zM401.89 477.4h1.5v1.5h-1.5zM462.58 474.01h1.5v1.5h-1.5zM390.64 477.94h1.5v1.5h-1.5zM411.69 475.21h1.5v1.5h-1.5zM466.16 480.4h1.5v1.5h-1.5zM393.68 475.69h1.5v1.5h-1.5zM451.92 474.82h1.5v1.5h-1.5zM399.33 477.19h1.5v1.5h-1.5zM499.33 477.98h1.5v1.5h-1.5zM457 478.08h1.5v1.5h-1.5zM408.64 476.05h1.5v1.5h-1.5zM475.2 475.44h1.5v1.5h-1.5zM398.91 477.71h1.5v1.5h-1.5zM463.07 480.12h1.5v1.5h-1.5zM423.49 473.95h1.5v1.5h-1.5zM405.32 478.07h1.5v1.5h-1.5zM400.51 478.73h1.5v1.5h-1.5zM483.48 480.31h1.5v1.5h-1.5zM421.74 473.83h1.5v1.5h-1.5zM471.87 481.03h1.5v1.5h-1.5zM423.53 480.79h1.5v1.5h-1.5zM446.12 479.72h1.5v1.5h-1.5zM414.78 477.83h1.5v1.5h-1.5zM413.69 475.9h1.5v1.5h-1.5zM450.37 480.43h1.5v1.5h-1.5zM362.71 476.14h1.5v1.5h-1.5zM388.8 476.37h1.5v1.5h-1.5zM491.69 475.08h1.5v1.5h-1.5zM406.47 476.07h1.5v1.5h-1.5zM406.96 475.44h1.5v1.5h-1.5zM377.5 475.98h1.5v1.5h-1.5zM404.92 474.45h1.5v1.5h-1.5zM376.58 481.14h1.5v1.5h-1.5zM394.63 477.67h1.5v1.5h-1.5zM414.48 480.47h1.5v1.5h-1.5zM475.31 477.09h1.5v1.5h-1.5zM429.27 481.33h1.5v1.5h-1.5zM367.64 477.98h1.5v1.5h-1.5zM472.63 480.6h1.5v1.5h-1.5zM439.32 477.87h1.5v1.5h-1.5zM397.47 476.57h1.5v1.5h-1.5zM423.66 479.61h1.5v1.5h-1.5zM390.58 478.87h1.5v1.5h-1.5zM373.32 475.96h1.5v1.5h-1.5zM433.43 479.27h1.5v1.5h-1.5zM461.61 478.88h1.5v1.5h-1.5zM433.84 477.4h1.5v1.5h-1.5zM413.7 478.68h1.5v1.5h-1.5zM411.66 481.91h1.5v1.5h-1.5zM448.96 477.35h1.5v1.5h-1.5zM498.35 478.45h1.5v1.5h-1.5zM376.35 475.63h1.5v1.5h-1.5zM407.41 477.16h1.5v1.5h-1.5zM408.88 479.56h1.5v1.5h-1.5zM418.08 476.99h1.5v1.5h-1.5zM455.88 475.43h1.5v1.5h-1.5zM393.52 478.29h1.5v1.5h-1.5zM426.1 475.02h1.5v1.5h-1.5zM363.92 480.08h1.5v1.5h-1.5zM499.13 476.39h1.5v1.5h-1.5zM428.29 475.25h1.5v1.5h-1.5zM384.85 476.96h1.5v1.5h-1.5zM453.28 475.95h1.5v1.5h-1.5zM448.7 475.64h1.5v1.5h-1.5zM439.65 477.44h1.5v1.5h-1.5zM429.89 478.8h1.5v1.5h-1.5zM458.22 478.97h1.5v1.5h-1.5zM449.23 476.15h1.5v1.5h-1.5zM423.96 476.87h1.5v1.5h-1.5zM441.98 475.97h1.5v1.5h-1.5zM500.47 479.36h1.5v1.5h-1.5zM454.47 477.11h1.5v1.5h-1.5zM495.26 477.18h1.5v1.5h-1.5zM465.4 478.33h1.5v1.5h-1.5zM479.87 476.42h1.5v1.5h-1.5zM362.04 473.7h1.5v1.5h-1.5zM459.65 479.07h1.5v1.5h-1.5zM484.89 479.16h1.5v1.5h-1.5zM363.53 476.36h1.5v1.5h-1.5zM369.34 476.76h1.5v1.5h-1.5zM382.92 476.76h1.5v1.5h-1.5zM400.2 481.23h1.5v1.5h-1.5zM503.37 475.06h1.5v1.5h-1.5zM475.22 481.14h1.5v1.5h-1.5zM465.99 475.76h1.5v1.5h-1.5zM373.02 474.68h1.5v1.5h-1.5zM484.82 476.58h1.5v1.5h-1.5zM461.22 478.1h1.5v1.5h-1.5zM388.29 475.18h1.5v1.5h-1.5zM400.55 478.36h1.5v1.5h-1.5zM460.6 476.1h1.5v1.5h-1.5zM392.26 479.57h1.5v1.5h-1.5zM433.73 476.95h1.5v1.5h-1.5zM363.61 477.41h1.5v1.5h-1.5zM411.54 473.06h1.5v1.5h-1.5zM410.16 476.32h1.5v1.5h-1.5zM435.88 475.67h1.5v1.5h-1.5zM493.03 473.68h1.5v1.5h-1.5zM388.46 477.38h1.5v1.5h-1.5zM411.01 479.02h1.5v1.5h-1.5zM451.98 478.54h1.5v1.5h-1.5zM414.44 478.02h1.5v1.5h-1.5zM360.03 479.86h1.5v1.5h-1.5zM396.59 474.72h1.5v1.5h-1.5zM450.59 476.59h1.5v1.5h-1.5zM472.53 480.07h1.5v1.5h-1.5zM458.15 474.62h1.5v1.5h-1.5zM423.11 478.91h1.5v1.5h-1.5zM374.36 477.13h1.5v1.5h-1.5zM433.69 478.34h1.5v1.5h-1.5zM416.05 481.89h1.5v1.5h-1.5zM386.3 478.47h1.5v1.5h-1.5zM437.77 479.87h1.5v1.5h-1.5zM432.84 482.59h1.5v1.5h-1.5zM388.66 478.08h1.5v1.5h-1.5zM471.12 476.05h1.5v1.5h-1.5zM473.08 477.19h1.5v1.5h-1.5zM465.23 474.7h1.5v1.5h-1.5zM413.68 476.14h1.5v1.5h-1.5zM369.22 477.09h1.5v1.5h-1.5zM439.65 476.37h1.5v1.5h-1.5zM374.42 478.04h1.5v1.5h-1.5zM395.79 477.03h1.5v1.5h-1.5zM396.41 475.88h1.5v1.5h-1.5zM403.3 477.66h1.5v1.5h-1.5zM413.66 477.37h1.5v1.5h-1.5zM392.17 476.48h1.5v1.5h-1.5zM407.53 476.3h1.5v1.5h-1.5zM504.24 473.93h1.5v1.5h-1.5zM365.07 473.22h1.5v1.5h-1.5zM416.7 480.23h1.5v1.5h-1.5zM370.3 475.19h1.5v1.5h-1.5zM423.17 477.37h1.5v1.5h-1.5zM480.3 478.53h1.5v1.5h-1.5zM489.08 479.57h1.5v1.5h-1.5zM455.65 474.76h1.5v1.5h-1.5zM395.32 478.24h1.5v1.5h-1.5zM485.22 474.47h1.5v1.5h-1.5zM501.69 480.88h1.5v1.5h-1.5zM450.73 478.92h1.5v1.5h-1.5zM378.75 475.48h1.5v1.5h-1.5zM463.16 478.44h1.5v1.5h-1.5zM455.04 480.58h1.5v1.5h-1.5zM362.93 476.2h1.5v1.5h-1.5zM408.61 480.19h1.5v1.5h-1.5zM457.02 478.02h1.5v1.5h-1.5zM438.95 475.73h1.5v1.5h-1.5zM376.52 482.25h1.5v1.5h-1.5zM363.4 479.69h1.5v1.5h-1.5zM413.25 475.5h1.5v1.5h-1.5zM419.96 479.14h1.5v1.5h-1.5zM435.6 479.67h1.5v1.5h-1.5zM422.92 477.11h1.5v1.5h-1.5zM500.32 475.03h1.5v1.5h-1.5zM416.8 474.24h1.5v1.5h-1.5zM400.2 479.87h1.5v1.5h-1.5zM486.56 478.18h1.5v1.5h-1.5zM423.66 477.34h1.5v1.5h-1.5zM435.09 478.8h1.5v1.5h-1.5zM495.93 477.76h1.5v1.5h-1.5zM420.15 480.36h1.5v1.5h-1.5zM424.22 476.6h1.5v1.5h-1.5zM462.82 480.31h1.5v1.5h-1.5zM493.84 476.44h1.5v1.5h-1.5zM362.56 480.86h1.5v1.5h-1.5zM378.13 478.8h1.5v1.5h-1.5zM392.03 477.67h1.5v1.5h-1.5zM372.89 476.36h1.5v1.5h-1.5zM478.9 477.42h1.5v1.5h-1.5zM396.3 477.91h1.5v1.5h-1.5zM467.44 476.97h1.5v1.5h-1.5zM496.8 473.96h1.5v1.5h-1.5zM374.32 475.02h1.5v1.5h-1.5zM460.39 477.23h1.5v1.5h-1.5zM431.85 475.8h1.5v1.5h-1.5zM423.17 475.96h1.5v1.5h-1.5zM399.63 476.6h1.5v1.5h-1.5zM372.16 475.96h1.5v1.5h-1.5zM376.43 477.59h1.5v1.5h-1.5zM432.86 475.96h1.5v1.5h-1.5zM489.26 479.17h1.5v1.5h-1.5zM502.1 482.81h1.5v1.5h-1.5zM397.07 477.23h1.5v1.5h-1.5zM448.54 480.73h1.5v1.5h-1.5zM477.24 477.5h1.5v1.5h-1.5zM371.29 478.32h1.5v1.5h-1.5zM449.16 479.07h1.5v1.5h-1.5zM426.87 480.21h1.5v1.5h-1.5zM374.91 479.38h1.5v1.5h-1.5zM453.99 478.93h1.5v1.5h-1.5zM499.07 477.93h1.5v1.5h-1.5zM421.39 476.35h1.5v1.5h-1.5zM454.1 474.14h1.5v1.5h-1.5zM442.39 479.59h1.5v1.5h-1.5zM499.75 482.52h1.5v1.5h-1.5zM503.77 478.42h1.5v1.5h-1.5zM467.52 476.17h1.5v1.5h-1.5zM495.94 478.81h1.5v1.5h-1.5zM474.01 476.36h1.5v1.5h-1.5zM405.09 478.83h1.5v1.5h-1.5zM482.31 473.52h1.5v1.5h-1.5zM384.46 476.17h1.5v1.5h-1.5zM408.59 476.92h1.5v1.5h-1.5zM382.21 478.25h1.5v1.5h-1.5zM407.5 481.76h1.5v1.5h-1.5zM403.66 477.28h1.5v1.5h-1.5zM422.95 477.76h1.5v1.5h-1.5zM361.58 477.5h1.5v1.5h-1.5zM499.1 477.6h1.5v1.5h-1.5zM396.46 480.36h1.5v1.5h-1.5zM444.2 479.58h1.5v1.5h-1.5zM395.47 479.64h1.5v1.5h-1.5zM503.32 477.15h1.5v1.5h-1.5zM377.83 480.99h1.5v1.5h-1.5zM477.22 478.01h1.5v1.5h-1.5zM439.52 479.1h1.5v1.5h-1.5zM398.32 479.81h1.5v1.5h-1.5zM387.51 474.12h1.5v1.5h-1.5zM450.91 475.85h1.5v1.5h-1.5zM493.52 475.76h1.5v1.5h-1.5zM494.38 476.75h1.5v1.5h-1.5zM374.57 476.17h1.5v1.5h-1.5zM453.44 472.65h1.5v1.5h-1.5zM495.76 475.24h1.5v1.5h-1.5zM469.97 478.37h1.5v1.5h-1.5zM375.68 478.15h1.5v1.5h-1.5zM458.95 476h1.5v1.5h-1.5zM378.27 475.57h1.5v1.5h-1.5zM497.51 477.64h1.5v1.5h-1.5zM424.41 476.63h1.5v1.5h-1.5zM500.76 476.55h1.5v1.5h-1.5zM370.78 480.05h1.5v1.5h-1.5zM419.54 477.83h1.5v1.5h-1.5zM419.77 478.09h1.5v1.5h-1.5zM394.26 474.68h1.5v1.5h-1.5zM431.06 475.96h1.5v1.5h-1.5zM406.62 475.48h1.5v1.5h-1.5zM504.35 477.37h1.5v1.5h-1.5zM373.36 477.84h1.5v1.5h-1.5zM421.11 475.7h1.5v1.5h-1.5zM481.19 472.13h1.5v1.5h-1.5zM443.97 476.28h1.5v1.5h-1.5zM449.81 478.7h1.5v1.5h-1.5zM438.44 475.31h1.5v1.5h-1.5zM374.58 477.66h1.5v1.5h-1.5zM475.88 479.77h1.5v1.5h-1.5zM486.13 479.53h1.5v1.5h-1.5zM469.81 479.9h1.5v1.5h-1.5zM399.88 475.3h1.5v1.5h-1.5zM479.62 477.6h1.5v1.5h-1.5zM414.73 480.44h1.5v1.5h-1.5zM470.21 476.2h1.5v1.5h-1.5zM494.45 479.95h1.5v1.5h-1.5zM492.3 478.08h1.5v1.5h-1.5zM426.49 477.52h1.5v1.5h-1.5zM465.21 475.76h1.5v1.5h-1.5zM451.78 475.8h1.5v1.5h-1.5zM462.04 479.48h1.5v1.5h-1.5zM486.91 477.72h1.5v1.5h-1.5zM474.42 475.19h1.5v1.5h-1.5zM394.3 474.38h1.5v1.5h-1.5zM392.6 474.6h1.5v1.5h-1.5zM406.98 477.01h1.5v1.5h-1.5zM498.24 479.13h1.5v1.5h-1.5zM434.63 477.06h1.5v1.5h-1.5zM409.96 478.83h1.5v1.5h-1.5zM472.07 480.06h1.5v1.5h-1.5zM362.45 472.39h1.5v1.5h-1.5zM383.43 477.78h1.5v1.5h-1.5zM417.38 478.27h1.5v1.5h-1.5zM407.56 477.2h1.5v1.5h-1.5zM379.16 476.67h1.5v1.5h-1.5zM377.42 474.79h1.5v1.5h-1.5zM433.36 479.3h1.5v1.5h-1.5zM391.2 473.86h1.5v1.5h-1.5zM477.33 481.97h1.5v1.5h-1.5zM479.61 477.58h1.5v1.5h-1.5zM470.96 474.77h1.5v1.5h-1.5zM502.64 474.45h1.5v1.5h-1.5zM480.75 476.25h1.5v1.5h-1.5zM459.05 480.62h1.5v1.5h-1.5zM442 477.52h1.5v1.5h-1.5zM379.39 480.3h1.5v1.5h-1.5zM488.77 476.48h1.5v1.5h-1.5zM377.43 474.44h1.5v1.5h-1.5zM470.94 479.01h1.5v1.5h-1.5zM471.71 478.59h1.5v1.5h-1.5zM478.05 479.15h1.5v1.5h-1.5zM487.42 478.81h1.5v1.5h-1.5zM370.4 480.29h1.5v1.5h-1.5zM371.86 479.32h1.5v1.5h-1.5zM456.04 475.53h1.5v1.5h-1.5zM364.26 478.85h1.5v1.5h-1.5zM394.87 476.69h1.5v1.5h-1.5zM436.9 473.79h1.5v1.5h-1.5zM378.21 477.07h1.5v1.5h-1.5zM467.01 479.28h1.5v1.5h-1.5zM406.96 479.61h1.5v1.5h-1.5zM429.49 475.18h1.5v1.5h-1.5zM493.48 474.85h1.5v1.5h-1.5zM484.9 478.44h1.5v1.5h-1.5zM397.28 473.79h1.5v1.5h-1.5zM382.46 477.5h1.5v1.5h-1.5zM503.49 474.44h1.5v1.5h-1.5zM489.19 480.38h1.5v1.5h-1.5zM377.67 477.25h1.5v1.5h-1.5zM455.53 472.57h1.5v1.5h-1.5zM434.47 475.22h1.5v1.5h-1.5zM492.11 478.37h1.5v1.5h-1.5zM494.16 478.72h1.5v1.5h-1.5zM493.4 477.28h1.5v1.5h-1.5zM486.35 478.04h1.5v1.5h-1.5zM482.77 477.52h1.5v1.5h-1.5zM414.05 478.38h1.5v1.5h-1.5zM427.72 481.13h1.5v1.5h-1.5zM388.27 477.44h1.5v1.5h-1.5zM501.66 476.61h1.5v1.5h-1.5zM414.2 473.45h1.5v1.5h-1.5zM496.89 475.41h1.5v1.5h-1.5zM412.79 479.97h1.5v1.5h-1.5zM444.38 478.67h1.5v1.5h-1.5zM502.3 476.19h1.5v1.5h-1.5zM384.67 479.39h1.5v1.5h-1.5zM445.5 476.06h1.5v1.5h-1.5zM405.52 478.3h1.5v1.5h-1.5zM424.5 476.17h1.5v1.5h-1.5zM367.54 476.97h1.5v1.5h-1.5zM409.93 478.79h1.5v1.5h-1.5zM472.97 476.51h1.5v1.5h-1.5zM437.74 478.34h1.5v1.5h-1.5zM456.61 477.77h1.5v1.5h-1.5zM414.94 478.34h1.5v1.5h-1.5zM369.46 475.86h1.5v1.5h-1.5zM454.69 480h1.5v1.5h-1.5zM364.71 478.24h1.5v1.5h-1.5zM450.51 476.04h1.5v1.5h-1.5zM386.73 478.09h1.5v1.5h-1.5zM478.1 477.11h1.5v1.5h-1.5zM476.82 475.56h1.5v1.5h-1.5zM454.65 476.23h1.5v1.5h-1.5zM501.04 477.01h1.5v1.5h-1.5zM437.01 479.15h1.5v1.5h-1.5zM393.22 478.72h1.5v1.5h-1.5zM361.62 480.16h1.5v1.5h-1.5zM464.05 474.72h1.5v1.5h-1.5zM393.46 476.49h1.5v1.5h-1.5zM410.53 480.91h1.5v1.5h-1.5zM442.9 479.69h1.5v1.5h-1.5zM502.89 477.36h1.5v1.5h-1.5zM487.05 475.46h1.5v1.5h-1.5zM471.46 476.94h1.5v1.5h-1.5zM389.96 474.04h1.5v1.5h-1.5zM430.75 476.4h1.5v1.5h-1.5zM471.65 477.48h1.5v1.5h-1.5zM397.33 477.56h1.5v1.5h-1.5zM470.63 474.2h1.5v1.5h-1.5zM456.81 478.8h1.5v1.5h-1.5zM437.4 477.36h1.5v1.5h-1.5zM404.84 476.1h1.5v1.5h-1.5zM373.67 477.18h1.5v1.5h-1.5zM384.85 474.69h1.5v1.5h-1.5zM376.69 478.14h1.5v1.5h-1.5zM396.28 478.34h1.5v1.5h-1.5zM398.93 479.21h1.5v1.5h-1.5zM468.56 476.87h1.5v1.5h-1.5zM441.17 482.78h1.5v1.5h-1.5zM361.66 475.83h1.5v1.5h-1.5zM406.33 473.29h1.5v1.5h-1.5zM363.22 479.55h1.5v1.5h-1.5zM404.58 478.97h1.5v1.5h-1.5zM390.53 476.52h1.5v1.5h-1.5zM413.03 478.26h1.5v1.5h-1.5zM443.67 479.06h1.5v1.5h-1.5zM404.01 478.08h1.5v1.5h-1.5zM409.6 474.06h1.5v1.5h-1.5zM474.56 475.61h1.5v1.5h-1.5zM379.21 477.85h1.5v1.5h-1.5zM448.02 481.65h1.5v1.5h-1.5zM364.63 475.48h1.5v1.5h-1.5zM394.31 478.58h1.5v1.5h-1.5zM432.06 475.79h1.5v1.5h-1.5zM387.66 471.97h1.5v1.5h-1.5zM386.98 480.38h1.5v1.5h-1.5zM365.73 478.47h1.5v1.5h-1.5zM436.4 478.39h1.5v1.5h-1.5zM475.07 474.42h1.5v1.5h-1.5zM378.12 474.5h1.5v1.5h-1.5zM470.74 479.37h1.5v1.5h-1.5zM417.5 476.72h1.5v1.5h-1.5zM409.64 478.69h1.5v1.5h-1.5zM438.94 476.62h1.5v1.5h-1.5zM376.78 478.1h1.5v1.5h-1.5zM446.92 473.93h1.5v1.5h-1.5zM498.81 478.29h1.5v1.5h-1.5zM405.8 474.1h1.5v1.5h-1.5zM419.33 482.48h1.5v1.5h-1.5zM415.53 478.93h1.5v1.5h-1.5zM428.18 476.68h1.5v1.5h-1.5zM363.41 480.17h1.5v1.5h-1.5zM371.24 476.53h1.5v1.5h-1.5zM501.12 475.47h1.5v1.5h-1.5zM498.57 476.54h1.5v1.5h-1.5zM447.67 474.15h1.5v1.5h-1.5zM493.8 474.21h1.5v1.5h-1.5zM399.68 475.28h1.5v1.5h-1.5zM493.73 478.7h1.5v1.5h-1.5zM504.1 477.85h1.5v1.5h-1.5zM390.21 480.15h1.5v1.5h-1.5zM444.35 475.6h1.5v1.5h-1.5zM419.72 479.84h1.5v1.5h-1.5zM368.03 477.6h1.5v1.5h-1.5zM374.9 479.49h1.5v1.5h-1.5zM365.88 474.55h1.5v1.5h-1.5zM431.28 479.16h1.5v1.5h-1.5zM476.12 479.64h1.5v1.5h-1.5zM486.88 477.39h1.5v1.5h-1.5zM426.46 479.17h1.5v1.5h-1.5zM442.44 474.92h1.5v1.5h-1.5zM503.24 477.36h1.5v1.5h-1.5zM362.16 477.11h1.5v1.5h-1.5zM420.42 478.59h1.5v1.5h-1.5zM493.36 480.01h1.5v1.5h-1.5zM465.65 475.2h1.5v1.5h-1.5zM403.52 478.31h1.5v1.5h-1.5zM446.13 480.24h1.5v1.5h-1.5zM384.09 479.34h1.5v1.5h-1.5zM501.65 474h1.5v1.5h-1.5zM390.25 476.95h1.5v1.5h-1.5zM453.79 473.96h1.5v1.5h-1.5zM434.61 480.35h1.5v1.5h-1.5zM454.94 476.04h1.5v1.5h-1.5zM431.42 476.51h1.5v1.5h-1.5zM421.54 477.04h1.5v1.5h-1.5zM422.47 476.13h1.5v1.5h-1.5zM421.69 479.22h1.5v1.5h-1.5zM500.77 481.05h1.5v1.5h-1.5zM417.1 477.92h1.5v1.5h-1.5zM445.62 477.58h1.5v1.5h-1.5zM486.54 477.94h1.5v1.5h-1.5zM401.24 477.21h1.5v1.5h-1.5zM489.27 478.23h1.5v1.5h-1.5zM394.73 476.29h1.5v1.5h-1.5zM427.9 473.83h1.5v1.5h-1.5zM393.64 480.39h1.5v1.5h-1.5zM376.34 474.26h1.5v1.5h-1.5zM502.7 476.36h1.5v1.5h-1.5zM368.53 477.86h1.5v1.5h-1.5zM369.7 476.29h1.5v1.5h-1.5zM489.12 475.4h1.5v1.5h-1.5zM449.22 475.6h1.5v1.5h-1.5zM395.96 476.34h1.5v1.5h-1.5zM465.71 477.82h1.5v1.5h-1.5zM442.88 479.55h1.5v1.5h-1.5zM423.54 479.01h1.5v1.5h-1.5zM407.73 480.74h1.5v1.5h-1.5zM497.85 476.71h1.5v1.5h-1.5zM419.3 476.89h1.5v1.5h-1.5zM452.35 478.66h1.5v1.5h-1.5zM441.08 477.79h1.5v1.5h-1.5zM404.17 479.7h1.5v1.5h-1.5zM396.7 476h1.5v1.5h-1.5zM399.75 478.5h1.5v1.5h-1.5zM423.4 478.97h1.5v1.5h-1.5zM383.75 478.58h1.5v1.5h-1.5zM407.96 478.67h1.5v1.5h-1.5zM469.98 475.37h1.5v1.5h-1.5zM472.09 477.89h1.5v1.5h-1.5zM421.49 477.53h1.5v1.5h-1.5zM435.98 483.62h1.5v1.5h-1.5zM415.08 480.57h1.5v1.5h-1.5zM411.92 480.99h1.5v1.5h-1.5zM426.6 477.92h1.5v1.5h-1.5zM408.54 478.87h1.5v1.5h-1.5zM438.59 476.98h1.5v1.5h-1.5zM369.75 475.28h1.5v1.5h-1.5zM390.46 475.69h1.5v1.5h-1.5zM395.82 476.94h1.5v1.5h-1.5zM400.4 478.53h1.5v1.5h-1.5zM461.05 473.8h1.5v1.5h-1.5zM454.63 478.82h1.5v1.5h-1.5zM397.2 477.91h1.5v1.5h-1.5zM479.03 476.07h1.5v1.5h-1.5zM502.2 478.25h1.5v1.5h-1.5zM409.26 479.23h1.5v1.5h-1.5zM482.75 477.36h1.5v1.5h-1.5zM454.51 478.97h1.5v1.5h-1.5zM374.37 476.36h1.5v1.5h-1.5zM476.66 475.48h1.5v1.5h-1.5zM400.68 474.95h1.5v1.5h-1.5zM372.34 480.47h1.5v1.5h-1.5zM410.52 478.37h1.5v1.5h-1.5zM423.01 477.57h1.5v1.5h-1.5zM451.08 478.87h1.5v1.5h-1.5zM433.85 478.3h1.5v1.5h-1.5zM385.01 476.79h1.5v1.5h-1.5zM434.3 474.2h1.5v1.5h-1.5zM489.47 476.38h1.5v1.5h-1.5zM365.84 479.46h1.5v1.5h-1.5zM380.51 477.77h1.5v1.5h-1.5zM473.21 476.37h1.5v1.5h-1.5zM459.74 481.68h1.5v1.5h-1.5zM459.35 476.48h1.5v1.5h-1.5zM455.37 478.24h1.5v1.5h-1.5zM379.16 476.61h1.5v1.5h-1.5zM415.63 478.21h1.5v1.5h-1.5zM439.86 477.84h1.5v1.5h-1.5zM407.6 476.65h1.5v1.5h-1.5zM485.16 477.81h1.5v1.5h-1.5zM474.02 474.84h1.5v1.5h-1.5zM376.81 481.22h1.5v1.5h-1.5zM406.48 480.13h1.5v1.5h-1.5zM437.84 476.48h1.5v1.5h-1.5zM475.27 473.78h1.5v1.5h-1.5zM405.79 477.8h1.5v1.5h-1.5zM413.66 474.18h1.5v1.5h-1.5zM382.05 473.65h1.5v1.5h-1.5zM409.04 478.53h1.5v1.5h-1.5zM434.22 479.07h1.5v1.5h-1.5zM460.37 476.17h1.5v1.5h-1.5zM484.75 475.59h1.5v1.5h-1.5zM399.47 476.84h1.5v1.5h-1.5zM475.96 478.8h1.5v1.5h-1.5zM499.66 478.29h1.5v1.5h-1.5zM477.28 474.97h1.5v1.5h-1.5zM419.28 476.64h1.5v1.5h-1.5zM372.81 478.51h1.5v1.5h-1.5zM457.33 478.27h1.5v1.5h-1.5zM476.8 478.2h1.5v1.5h-1.5zM361.3 477.25h1.5v1.5h-1.5zM472.77 473.85h1.5v1.5h-1.5zM382.42 476.81h1.5v1.5h-1.5zM490.45 475.54h1.5v1.5h-1.5zM400.07 479.05h1.5v1.5h-1.5zM473.31 476.36h1.5v1.5h-1.5zM430.38 480.91h1.5v1.5h-1.5zM412.54 476.59h1.5v1.5h-1.5zM441.4 475.34h1.5v1.5h-1.5zM436.53 482.24h1.5v1.5h-1.5zM463.37 477.76h1.5v1.5h-1.5zM483.07 475.73h1.5v1.5h-1.5zM479.22 480.52h1.5v1.5h-1.5zM504 478.63h1.5v1.5h-1.5zM370.83 477.87h1.5v1.5h-1.5zM406.46 476.71h1.5v1.5h-1.5zM491.63 477.84h1.5v1.5h-1.5zM440.81 476.48h1.5v1.5h-1.5zM410.07 480.34h1.5v1.5h-1.5zM498.49 477.95h1.5v1.5h-1.5zM377.69 476.78h1.5v1.5h-1.5zM378.06 481.71h1.5v1.5h-1.5zM498.86 477.19h1.5v1.5h-1.5zM391.94 477.44h1.5v1.5h-1.5zM436.38 478.29h1.5v1.5h-1.5zM457.51 476.03h1.5v1.5h-1.5zM466.37 476.48h1.5v1.5h-1.5zM463.39 475.79h1.5v1.5h-1.5zM365.57 477.96h1.5v1.5h-1.5zM449.16 480.43h1.5v1.5h-1.5zM483.6 474.07h1.5v1.5h-1.5zM430.61 477.07h1.5v1.5h-1.5zM502.62 481.12h1.5v1.5h-1.5zM360.66 475.82h1.5v1.5h-1.5zM376.05 479.96h1.5v1.5h-1.5zM408.8 476.65h1.5v1.5h-1.5zM385.26 479.2h1.5v1.5h-1.5zM445.28 480.09h1.5v1.5h-1.5zM466.11 478.61h1.5v1.5h-1.5zM495.65 471.93h1.5v1.5h-1.5zM437.36 483.3h1.5v1.5h-1.5zM396.53 479.17h1.5v1.5h-1.5zM441.1 476.98h1.5v1.5h-1.5zM443.55 481.81h1.5v1.5h-1.5zM397 476.07h1.5v1.5h-1.5zM362.42 479.13h1.5v1.5h-1.5zM413.03 476.97h1.5v1.5h-1.5zM394.08 476.98h1.5v1.5h-1.5zM493.26 476.75h1.5v1.5h-1.5zM460.82 478.1h1.5v1.5h-1.5zM504.52 478.25h1.5v1.5h-1.5zM426.32 482.49h1.5v1.5h-1.5zM437.02 476.6h1.5v1.5h-1.5zM434.99 477.14h1.5v1.5h-1.5zM482.06 474.3h1.5v1.5h-1.5zM440.85 478.92h1.5v1.5h-1.5zM363.32 481.68h1.5v1.5h-1.5zM443.16 479.64h1.5v1.5h-1.5zM386.6 476.44h1.5v1.5h-1.5zM445.56 478.52h1.5v1.5h-1.5zM463.24 477.57h1.5v1.5h-1.5zM396.82 480.48h1.5v1.5h-1.5zM385.07 474.08h1.5v1.5h-1.5zM469.19 477.27h1.5v1.5h-1.5zM422.36 477.87h1.5v1.5h-1.5zM445.06 477.77h1.5v1.5h-1.5zM460.53 478.39h1.5v1.5h-1.5zM392.1 479.49h1.5v1.5h-1.5zM405.58 477.38h1.5v1.5h-1.5zM383.3 476.95h1.5v1.5h-1.5zM475.3 475.7h1.5v1.5h-1.5zM374.48 472.84h1.5v1.5h-1.5zM375 478.98h1.5v1.5h-1.5zM456.94 479.65h1.5v1.5h-1.5zM469.77 479.73h1.5v1.5h-1.5zM428.31 475.77h1.5v1.5h-1.5zM386.75 476.09h1.5v1.5h-1.5zM439.53 480.36h1.5v1.5h-1.5zM407.42 477.46h1.5v1.5h-1.5zM451.23 477.6h1.5v1.5h-1.5zM504.74 480.92h1.5v1.5h-1.5zM495.97 475h1.5v1.5h-1.5zM389.26 473.94h1.5v1.5h-1.5zM502.54 476.68h1.5v1.5h-1.5zM467.83 479.9h1.5v1.5h-1.5zM494.67 478.4h1.5v1.5h-1.5zM365.06 477.56h1.5v1.5h-1.5zM363.67 476.56h1.5v1.5h-1.5zM483.98 476.46h1.5v1.5h-1.5zM499.04 475.55h1.5v1.5h-1.5zM397.91 475.67h1.5v1.5h-1.5zM360.33 475.59h1.5v1.5h-1.5zM432.39 481.66h1.5v1.5h-1.5zM403.14 477.93h1.5v1.5h-1.5zM472.82 476.56h1.5v1.5h-1.5zM435.8 471.33h1.5v1.5h-1.5zM493.1 480.08h1.5v1.5h-1.5zM466.51 477.92h1.5v1.5h-1.5zM480.31 478.01h1.5v1.5h-1.5zM451.26 477.02h1.5v1.5h-1.5zM436.95 482.48h1.5v1.5h-1.5zM409.15 483.09h1.5v1.5h-1.5zM490.77 480.06h1.5v1.5h-1.5zM360.37 480.25h1.5v1.5h-1.5zM477.2 479.83h1.5v1.5h-1.5zM474.63 478.52h1.5v1.5h-1.5zM481.98 477.63h1.5v1.5h-1.5zM434.64 478.24h1.5v1.5h-1.5zM406.9 476.68h1.5v1.5h-1.5zM502.36 478.07h1.5v1.5h-1.5zM444.05 473.63h1.5v1.5h-1.5zM472.13 478.44h1.5v1.5h-1.5zM468.66 477.34h1.5v1.5h-1.5zM406.85 478.32h1.5v1.5h-1.5zM422.85 477.49h1.5v1.5h-1.5zM504.48 476.76h1.5v1.5h-1.5zM471.07 475h1.5v1.5h-1.5zM419.74 476.2h1.5v1.5h-1.5zM404.63 473.15h1.5v1.5h-1.5zM466.72 475.16h1.5v1.5h-1.5zM370.9 479.1h1.5v1.5h-1.5zM404.92 480.88h1.5v1.5h-1.5zM465.87 478.6h1.5v1.5h-1.5zM389.63 478.95h1.5v1.5h-1.5zM392.75 474.83h1.5v1.5h-1.5zM417.03 480.17h1.5v1.5h-1.5zM451.5 481.09h1.5v1.5h-1.5zM384.72 476.78h1.5v1.5h-1.5zM403.61 477.51h1.5v1.5h-1.5zM429.66 474.78h1.5v1.5h-1.5zM444.66 476.09h1.5v1.5h-1.5zM412.91 481.42h1.5v1.5h-1.5zM378.13 477.07h1.5v1.5h-1.5zM392 477.85h1.5v1.5h-1.5zM431.45 477.87h1.5v1.5h-1.5zM397.32 477.59h1.5v1.5h-1.5zM397.47 477.7h1.5v1.5h-1.5zM406.8 476.31h1.5v1.5h-1.5zM362.53 479.05h1.5v1.5h-1.5zM466.87 479.15h1.5v1.5h-1.5zM490.42 477.58h1.5v1.5h-1.5zM389.54 478.42h1.5v1.5h-1.5zM432.45 476.84h1.5v1.5h-1.5zM376.77 475.13h1.5v1.5h-1.5zM450.94 475.32h1.5v1.5h-1.5zM414.59 481.72h1.5v1.5h-1.5zM485.24 477.97h1.5v1.5h-1.5zM370.78 478.51h1.5v1.5h-1.5zM388.81 479.34h1.5v1.5h-1.5zM478.6 473.76h1.5v1.5h-1.5zM397.49 481.05h1.5v1.5h-1.5zM457.45 476.81h1.5v1.5h-1.5zM475.34 478.23h1.5v1.5h-1.5zM379.48 475.56h1.5v1.5h-1.5zM435.88 475.13h1.5v1.5h-1.5zM468.93 476.24h1.5v1.5h-1.5zM394.83 477.26h1.5v1.5h-1.5zM370.92 479.98h1.5v1.5h-1.5zM372.48 475.45h1.5v1.5h-1.5zM445.59 478.51h1.5v1.5h-1.5zM441.87 477.71h1.5v1.5h-1.5zM371.41 477.73h1.5v1.5h-1.5zM436.6 480.48h1.5v1.5h-1.5zM497.06 475.12h1.5v1.5h-1.5zM481.58 478.82h1.5v1.5h-1.5zM471.41 476.9h1.5v1.5h-1.5zM498.94 474.48h1.5v1.5h-1.5zM470.03 475.4h1.5v1.5h-1.5zM393.3 476.56h1.5v1.5h-1.5zM391.84 475.23h1.5v1.5h-1.5zM462.29 477.71h1.5v1.5h-1.5zM503.35 478.08h1.5v1.5h-1.5zM456.85 475.91h1.5v1.5h-1.5zM496.21 477.24h1.5v1.5h-1.5zM427.97 477.94h1.5v1.5h-1.5zM404.48 476.71h1.5v1.5h-1.5zM384.66 477.63h1.5v1.5h-1.5zM410.27 475.41h1.5v1.5h-1.5zM379.13 477.14h1.5v1.5h-1.5zM440.92 477.15h1.5v1.5h-1.5zM406.1 479.56h1.5v1.5h-1.5zM431.32 478.72h1.5v1.5h-1.5zM389.66 477.59h1.5v1.5h-1.5zM417.71 479.86h1.5v1.5h-1.5zM443.27 477.04h1.5v1.5h-1.5zM452.89 478.49h1.5v1.5h-1.5zM364.97 475.8h1.5v1.5h-1.5zM437.28 480.87h1.5v1.5h-1.5zM413.98 479.03h1.5v1.5h-1.5zM400.91 476.35h1.5v1.5h-1.5zM489.45 478.85h1.5v1.5h-1.5zM399.06 478.63h1.5v1.5h-1.5zM390.28 477.42h1.5v1.5h-1.5zM370.65 478.27h1.5v1.5h-1.5zM474.83 474.15h1.5v1.5h-1.5zM488.87 478.53h1.5v1.5h-1.5zM489.09 475.26h1.5v1.5h-1.5zM397.16 476.85h1.5v1.5h-1.5zM383.55 477.57h1.5v1.5h-1.5zM443.01 479.02h1.5v1.5h-1.5zM427.74 479.59h1.5v1.5h-1.5zM397.98 477.12h1.5v1.5h-1.5zM448.19 474.96h1.5v1.5h-1.5zM498.15 481.79h1.5v1.5h-1.5zM383.65 478.94h1.5v1.5h-1.5zM379.63 475.43h1.5v1.5h-1.5zM427.95 476.34h1.5v1.5h-1.5zM463.94 476.04h1.5v1.5h-1.5zM496 481.43h1.5v1.5h-1.5zM502.66 475.71h1.5v1.5h-1.5zM396.99 479.1h1.5v1.5h-1.5zM491.06 471.8h1.5v1.5h-1.5zM488.71 477.33h1.5v1.5h-1.5zM374.94 473.71h1.5v1.5h-1.5zM386.74 477.12h1.5v1.5h-1.5zM502.63 476.8h1.5v1.5h-1.5zM468.65 476.92h1.5v1.5h-1.5zM494.03 478.69h1.5v1.5h-1.5zM366.67 476.45h1.5v1.5h-1.5zM370.79 479.58h1.5v1.5h-1.5zM463.75 477.19h1.5v1.5h-1.5zM434.6 479.92h1.5v1.5h-1.5zM424.47 479.22h1.5v1.5h-1.5zM480.24 478.31h1.5v1.5h-1.5zM367.35 478.27h1.5v1.5h-1.5zM452.12 481.86h1.5v1.5h-1.5zM377.8 476.69h1.5v1.5h-1.5zM470.34 480.52h1.5v1.5h-1.5zM376.92 477.47h1.5v1.5h-1.5zM378.57 474.46h1.5v1.5h-1.5zM361.24 474.49h1.5v1.5h-1.5zM500.89 477.16h1.5v1.5h-1.5zM375.91 481.95h1.5v1.5h-1.5zM489.87 477.36h1.5v1.5h-1.5zM447.77 477.4h1.5v1.5h-1.5zM471.62 478.73h1.5v1.5h-1.5zM454.51 478.57h1.5v1.5h-1.5zM375.25 478.34h1.5v1.5h-1.5zM411.53 474.9h1.5v1.5h-1.5zM444.05 473.58h1.5v1.5h-1.5zM413.22 475.82h1.5v1.5h-1.5zM443.53 476.65h1.5v1.5h-1.5zM444.2 476.49h1.5v1.5h-1.5zM428.43 480.15h1.5v1.5h-1.5zM405.33 477.88h1.5v1.5h-1.5zM478.83 476.3h1.5v1.5h-1.5zM396.89 476.23h1.5v1.5h-1.5zM437.02 477.79h1.5v1.5h-1.5zM411.34 474.97h1.5v1.5h-1.5zM481.17 479.09h1.5v1.5h-1.5zM370.08 476.92h1.5v1.5h-1.5zM363.34 476.69h1.5v1.5h-1.5zM423.8 475.75h1.5v1.5h-1.5zM382.99 478.31h1.5v1.5h-1.5zM444.68 474.31h1.5v1.5h-1.5zM391.25 480.63h1.5v1.5h-1.5zM442.86 478.17h1.5v1.5h-1.5zM440.2 474.94h1.5v1.5h-1.5zM400.57 478.07h1.5v1.5h-1.5zM495.68 479.61h1.5v1.5h-1.5zM388.45 477.58h1.5v1.5h-1.5zM433.64 480.9h1.5v1.5h-1.5zM372.42 475.9h1.5v1.5h-1.5zM461.43 476.06h1.5v1.5h-1.5zM364.94 475.43h1.5v1.5h-1.5zM480.97 478.64h1.5v1.5h-1.5zM491.02 477.86h1.5v1.5h-1.5zM383.62 481.47h1.5v1.5h-1.5zM453.39 475.54h1.5v1.5h-1.5zM372.46 478.29h1.5v1.5h-1.5zM380.63 475.68h1.5v1.5h-1.5zM461.99 480.14h1.5v1.5h-1.5zM498.17 478.64h1.5v1.5h-1.5zM486.88 476.31h1.5v1.5h-1.5zM407.92 476.91h1.5v1.5h-1.5zM427.05 475.79h1.5v1.5h-1.5zM491.03 474.91h1.5v1.5h-1.5zM370.71 472.58h1.5v1.5h-1.5zM431.14 476.17h1.5v1.5h-1.5zM461.91 480.27h1.5v1.5h-1.5zM490.67 477.28h1.5v1.5h-1.5zM407.12 476.94h1.5v1.5h-1.5zM399.73 475.18h1.5v1.5h-1.5zM463.46 478.93h1.5v1.5h-1.5zM455.23 479.67h1.5v1.5h-1.5zM399.14 477.14h1.5v1.5h-1.5zM404.1 481.31h1.5v1.5h-1.5zM430.3 477.67h1.5v1.5h-1.5zM461.81 476.87h1.5v1.5h-1.5zM429.74 476.16h1.5v1.5h-1.5zM460.67 477.36h1.5v1.5h-1.5zM404.71 475.16h1.5v1.5h-1.5zM462.77 476.46h1.5v1.5h-1.5zM415.47 479.58h1.5v1.5h-1.5zM365.47 477.84h1.5v1.5h-1.5zM491.48 479.91h1.5v1.5h-1.5zM400.81 481.18h1.5v1.5h-1.5zM454.22 477.46h1.5v1.5h-1.5zM480.8 475.82h1.5v1.5h-1.5zM469.6 477.49h1.5v1.5h-1.5zM412.22 479.81h1.5v1.5h-1.5zM486.8 474.79h1.5v1.5h-1.5zM487.41 477.73h1.5v1.5h-1.5zM411.67 475.03h1.5v1.5h-1.5zM397.29 476.99h1.5v1.5h-1.5zM457 481.93h1.5v1.5h-1.5zM500.54 475.74h1.5v1.5h-1.5zM434.4 477h1.5v1.5h-1.5zM432.53 478.22h1.5v1.5h-1.5zM470.38 476.72h1.5v1.5h-1.5zM367.39 482.58h1.5v1.5h-1.5zM483.95 480.57h1.5v1.5h-1.5zM416.18 476.59h1.5v1.5h-1.5zM448.04 480.7h1.5v1.5h-1.5zM407.14 474.1h1.5v1.5h-1.5zM472.73 477.06h1.5v1.5h-1.5zM370.75 476.83h1.5v1.5h-1.5zM412.55 478.98h1.5v1.5h-1.5zM451.91 477.31h1.5v1.5h-1.5zM441.18 479.59h1.5v1.5h-1.5zM500.3 480.65h1.5v1.5h-1.5zM474.47 476.97h1.5v1.5h-1.5zM479.37 474.84h1.5v1.5h-1.5zM451.03 478.42h1.5v1.5h-1.5zM406.97 479.35h1.5v1.5h-1.5zM473.14 478.32h1.5v1.5h-1.5zM368.7 477.52h1.5v1.5h-1.5zM370.96 476.17h1.5v1.5h-1.5zM483.8 479.24h1.5v1.5h-1.5zM451.23 472.2h1.5v1.5h-1.5zM399.99 478.92h1.5v1.5h-1.5zM429.19 479.14h1.5v1.5h-1.5zM475.64 479.63h1.5v1.5h-1.5zM368.32 480.52h1.5v1.5h-1.5zM366.31 481.02h1.5v1.5h-1.5zM380.94 474.3h1.5v1.5h-1.5zM422.9 479.3h1.5v1.5h-1.5zM418.13 476.51h1.5v1.5h-1.5zM387.38 482.89h1.5v1.5h-1.5zM439.35 477.44h1.5v1.5h-1.5zM457.93 476.94h1.5v1.5h-1.5zM494.29 475.8h1.5v1.5h-1.5zM437.15 478.34h1.5v1.5h-1.5zM456.92 477.08h1.5v1.5h-1.5zM426 475.79h1.5v1.5h-1.5zM464.01 476.71h1.5v1.5h-1.5zM376.04 477.95h1.5v1.5h-1.5zM386.42 476.49h1.5v1.5h-1.5zM491.51 475.84h1.5v1.5h-1.5zM395.41 479.6h1.5v1.5h-1.5zM443.68 480.17h1.5v1.5h-1.5zM477.33 474.84h1.5v1.5h-1.5zM455.02 478.85h1.5v1.5h-1.5zM373.05 479.56h1.5v1.5h-1.5zM452.46 476.84h1.5v1.5h-1.5zM472.06 476.07h1.5v1.5h-1.5zM434.17 479.07h1.5v1.5h-1.5zM390.2 476.54h1.5v1.5h-1.5zM498.5 475.13h1.5v1.5h-1.5zM486.6 477.81h1.5v1.5h-1.5zM378.56 477.13h1.5v1.5h-1.5zM486.54 475.83h1.5v1.5h-1.5zM421.39 475.94h1.5v1.5h-1.5zM439.28 480.76h1.5v1.5h-1.5zM443.14 480.63h1.5v1.5h-1.5zM402.4 476.85h1.5v1.5h-1.5zM390.08 481.64h1.5v1.5h-1.5zM440.27 479.78h1.5v1.5h-1.5zM435.64 478.77h1.5v1.5h-1.5zM389.23 476.2h1.5v1.5h-1.5zM393.44 481.27h1.5v1.5h-1.5zM364.41 476.88h1.5v1.5h-1.5zM376.1 475.06h1.5v1.5h-1.5zM496.22 475.4h1.5v1.5h-1.5zM433.08 476.74h1.5v1.5h-1.5zM487.86 476.52h1.5v1.5h-1.5zM386.89 479.03h1.5v1.5h-1.5zM481.77 475.33h1.5v1.5h-1.5zM388.8 475.87h1.5v1.5h-1.5zM466.45 477.17h1.5v1.5h-1.5zM362.92 477.39h1.5v1.5h-1.5zM454.59 480.78h1.5v1.5h-1.5zM435.51 477.37h1.5v1.5h-1.5zM498.76 477.95h1.5v1.5h-1.5zM480.93 477.05h1.5v1.5h-1.5zM391.2 480.13h1.5v1.5h-1.5zM391.54 478.87h1.5v1.5h-1.5zM384.95 474.98h1.5v1.5h-1.5zM497.66 475.21h1.5v1.5h-1.5zM458.85 480.78h1.5v1.5h-1.5zM470.55 475.01h1.5v1.5h-1.5zM397.7 482.83h1.5v1.5h-1.5zM408.82 476.5h1.5v1.5h-1.5zM458.26 478.33h1.5v1.5h-1.5zM417.09 475.26h1.5v1.5h-1.5zM454.73 477.94h1.5v1.5h-1.5zM361.69 477.15h1.5v1.5h-1.5zM373.87 481.42h1.5v1.5h-1.5zM392.4 479.94h1.5v1.5h-1.5zM469.12 475.04h1.5v1.5h-1.5zM440 479.13h1.5v1.5h-1.5zM433.4 475.35h1.5v1.5h-1.5zM459.87 478.09h1.5v1.5h-1.5zM460.2 477.74h1.5v1.5h-1.5zM411.03 474.8h1.5v1.5h-1.5zM373.15 480.77h1.5v1.5h-1.5zM386.35 474.53h1.5v1.5h-1.5zM476.87 478.44h1.5v1.5h-1.5zM408.44 476.45h1.5v1.5h-1.5zM465.2 476.13h1.5v1.5h-1.5zM416.62 481.73h1.5v1.5h-1.5zM392.2 476.98h1.5v1.5h-1.5zM455.83 475.54h1.5v1.5h-1.5zM361.47 476.9h1.5v1.5h-1.5zM498.88 480.24h1.5v1.5h-1.5zM369.03 480.01h1.5v1.5h-1.5zM434.8 481.07h1.5v1.5h-1.5zM399.16 478.41h1.5v1.5h-1.5zM491.01 479.22h1.5v1.5h-1.5zM393.59 479.57h1.5v1.5h-1.5zM453.76 479.28h1.5v1.5h-1.5zM439.34 477.45h1.5v1.5h-1.5zM491.71 474.51h1.5v1.5h-1.5zM386.3 476.4h1.5v1.5h-1.5zM368.83 473.71h1.5v1.5h-1.5zM400.79 479.51h1.5v1.5h-1.5zM467.73 475.53h1.5v1.5h-1.5zM400.04 475.78h1.5v1.5h-1.5zM436.73 479.31h1.5v1.5h-1.5zM384.18 478.56h1.5v1.5h-1.5zM482.97 479.17h1.5v1.5h-1.5zM412.96 482.88h1.5v1.5h-1.5zM388.91 478.83h1.5v1.5h-1.5zM470.32 477.55h1.5v1.5h-1.5zM377.73 477.29h1.5v1.5h-1.5zM372 475.5h1.5v1.5h-1.5zM431.27 480.52h1.5v1.5h-1.5zM482.15 481.6h1.5v1.5h-1.5zM441.73 475.23h1.5v1.5h-1.5zM384.41 477.82h1.5v1.5h-1.5zM448.86 478.98h1.5v1.5h-1.5zM471.14 477.99h1.5v1.5h-1.5zM482.67 476.72h1.5v1.5h-1.5zM451.47 476.8h1.5v1.5h-1.5zM464.44 475.43h1.5v1.5h-1.5zM380.08 477.55h1.5v1.5h-1.5zM451.43 477.16h1.5v1.5h-1.5zM463.46 475.07h1.5v1.5h-1.5zM468.46 477.91h1.5v1.5h-1.5zM433.78 476.11h1.5v1.5h-1.5zM389.67 476.64h1.5v1.5h-1.5zM489.59 480.17h1.5v1.5h-1.5zM398.77 475.1h1.5v1.5h-1.5zM361.02 476.82h1.5v1.5h-1.5zM435.04 476.76h1.5v1.5h-1.5zM457.07 480.14h1.5v1.5h-1.5zM370.3 475.9h1.5v1.5h-1.5zM488.1 476.5h1.5v1.5h-1.5zM487.72 473.31h1.5v1.5h-1.5zM481.18 478.62h1.5v1.5h-1.5zM427.32 474.37h1.5v1.5h-1.5zM476.31 480.32h1.5v1.5h-1.5zM466.39 476.81h1.5v1.5h-1.5zM417.82 476.02h1.5v1.5h-1.5zM397.63 477.47h1.5v1.5h-1.5zM482.52 476.56h1.5v1.5h-1.5zM442.91 475.12h1.5v1.5h-1.5zM360.81 479.02h1.5v1.5h-1.5zM427.58 477.27h1.5v1.5h-1.5zM396.75 481.41h1.5v1.5h-1.5zM475.54 478.36h1.5v1.5h-1.5zM397.06 475.88h1.5v1.5h-1.5zM497.7 479.29h1.5v1.5h-1.5zM458.55 479.27h1.5v1.5h-1.5zM375.09 477.6h1.5v1.5h-1.5zM395.98 476.93h1.5v1.5h-1.5zM462.88 476.26h1.5v1.5h-1.5zM436.21 479.47h1.5v1.5h-1.5zM444.04 474.19h1.5v1.5h-1.5zM409.07 475.91h1.5v1.5h-1.5zM441.45 480.77h1.5v1.5h-1.5zM394.68 478.21h1.5v1.5h-1.5zM425.02 477.61h1.5v1.5h-1.5zM488.73 477.53h1.5v1.5h-1.5zM405.52 473.64h1.5v1.5h-1.5zM503.7 472.99h1.5v1.5h-1.5zM397.43 481.46h1.5v1.5h-1.5zM404.72 476.27h1.5v1.5h-1.5zM487.78 480.48h1.5v1.5h-1.5zM386.16 477.1h1.5v1.5h-1.5zM483.03 474.97h1.5v1.5h-1.5zM446.53 478.1h1.5v1.5h-1.5zM368.83 474.31h1.5v1.5h-1.5zM398.75 475.61h1.5v1.5h-1.5zM437.8 479.01h1.5v1.5h-1.5zM488.94 477.33h1.5v1.5h-1.5zM376.08 478.94h1.5v1.5h-1.5zM493.17 474.51h1.5v1.5h-1.5zM485.11 481.22h1.5v1.5h-1.5zM503.76 479.07h1.5v1.5h-1.5zM432.65 478.23h1.5v1.5h-1.5zM396.55 477.02h1.5v1.5h-1.5zM377.62 476.39h1.5v1.5h-1.5zM372.94 480.7h1.5v1.5h-1.5zM487.32 479.93h1.5v1.5h-1.5zM476.47 476.47h1.5v1.5h-1.5zM478.74 476.04h1.5v1.5h-1.5zM366.51 478.43h1.5v1.5h-1.5zM469.18 482.36h1.5v1.5h-1.5zM373.45 479.53h1.5v1.5h-1.5zM457.32 480.14h1.5v1.5h-1.5zM428.9 479.69h1.5v1.5h-1.5zM460.02 475.3h1.5v1.5h-1.5zM368.59 478.04h1.5v1.5h-1.5zM445.43 474.95h1.5v1.5h-1.5zM469.36 477.09h1.5v1.5h-1.5zM390.75 480.16h1.5v1.5h-1.5zM435.32 477.26h1.5v1.5h-1.5zM433.5 476.07h1.5v1.5h-1.5zM443.82 474.2h1.5v1.5h-1.5zM487.61 477.35h1.5v1.5h-1.5zM473.53 478.8h1.5v1.5h-1.5zM405.25 478.71h1.5v1.5h-1.5zM431.02 481.13h1.5v1.5h-1.5zM413.61 477.5h1.5v1.5h-1.5zM493.91 473.73h1.5v1.5h-1.5zM414.21 473.52h1.5v1.5h-1.5zM476.37 480.01h1.5v1.5h-1.5zM420.04 480.69h1.5v1.5h-1.5zM427.05 481.41h1.5v1.5h-1.5zM470.95 474.52h1.5v1.5h-1.5zM413.33 478.16h1.5v1.5h-1.5zM385.47 479.46h1.5v1.5h-1.5zM378.88 476.15h1.5v1.5h-1.5zM459.27 478.43h1.5v1.5h-1.5zM363.21 477.67h1.5v1.5h-1.5zM402.39 473.04h1.5v1.5h-1.5zM460.8 480.68h1.5v1.5h-1.5zM439.32 476.88h1.5v1.5h-1.5zM400.85 478.77h1.5v1.5h-1.5zM445.62 477.4h1.5v1.5h-1.5zM500.68 478.95h1.5v1.5h-1.5zM385.83 474.17h1.5v1.5h-1.5zM365.45 478.79h1.5v1.5h-1.5zM385.01 478.24h1.5v1.5h-1.5zM474.32 478.82h1.5v1.5h-1.5zM380.14 477.31h1.5v1.5h-1.5zM476.64 478.22h1.5v1.5h-1.5zM475.6 474.87h1.5v1.5h-1.5zM365.86 477.11h1.5v1.5h-1.5zM470.57 474.97h1.5v1.5h-1.5zM400.27 479.58h1.5v1.5h-1.5zM382.22 474.79h1.5v1.5h-1.5zM365.37 477.38h1.5v1.5h-1.5zM464.03 481.29h1.5v1.5h-1.5zM388.38 475.39h1.5v1.5h-1.5zM361.1 474.94h1.5v1.5h-1.5zM489.96 474.38h1.5v1.5h-1.5zM494.08 477.17h1.5v1.5h-1.5zM434.57 476.98h1.5v1.5h-1.5zM439.16 477.59h1.5v1.5h-1.5zM408.38 477.89h1.5v1.5h-1.5zM468.15 479.42h1.5v1.5h-1.5zM425.98 479.42h1.5v1.5h-1.5zM467.77 479.43h1.5v1.5h-1.5zM415.94 480.47h1.5v1.5h-1.5zM454.52 476.81h1.5v1.5h-1.5zM376.16 473.73h1.5v1.5h-1.5zM455.99 480.16h1.5v1.5h-1.5zM442.42 482.45h1.5v1.5h-1.5zM444.02 483.03h1.5v1.5h-1.5zM387.27 476.57h1.5v1.5h-1.5zM456.48 474.15h1.5v1.5h-1.5zM430.39 474.49h1.5v1.5h-1.5zM372.7 473.82h1.5v1.5h-1.5zM361.67 476.71h1.5v1.5h-1.5zM420.54 477.37h1.5v1.5h-1.5zM485.6 473.64h1.5v1.5h-1.5zM376.7 477.31h1.5v1.5h-1.5zM495.97 477.87h1.5v1.5h-1.5zM391.61 478.74h1.5v1.5h-1.5zM462.35 472.47h1.5v1.5h-1.5zM421.69 475.59h1.5v1.5h-1.5zM359.77 478.71h1.5v1.5h-1.5zM477.1 477.72h1.5v1.5h-1.5zM403.24 477.01h1.5v1.5h-1.5zM375.78 477.46h1.5v1.5h-1.5zM418.48 475.45h1.5v1.5h-1.5zM504.78 477.83h1.5v1.5h-1.5zM385.9 472.24h1.5v1.5h-1.5zM472.59 475.78h1.5v1.5h-1.5zM438.04 480.96h1.5v1.5h-1.5zM447.41 477.06h1.5v1.5h-1.5zM423.11 475.5h1.5v1.5h-1.5zM372.82 479.51h1.5v1.5h-1.5zM502.94 473.87h1.5v1.5h-1.5zM477.62 477.41h1.5v1.5h-1.5zM415.07 478.5h1.5v1.5h-1.5zM362.07 480.45h1.5v1.5h-1.5zM385.15 477.52h1.5v1.5h-1.5zM486.9 477.1h1.5v1.5h-1.5zM497.65 474.38h1.5v1.5h-1.5zM496.27 474.77h1.5v1.5h-1.5zM483.93 478.16h1.5v1.5h-1.5zM472.43 474.43h1.5v1.5h-1.5zM371.84 474.92h1.5v1.5h-1.5zM385.74 475.47h1.5v1.5h-1.5zM500.32 479.93h1.5v1.5h-1.5zM457.37 472.48h1.5v1.5h-1.5zM420.45 478.16h1.5v1.5h-1.5zM400.34 478.16h1.5v1.5h-1.5zM490.27 479.56h1.5v1.5h-1.5zM490.05 475.55h1.5v1.5h-1.5zM462.95 477.66h1.5v1.5h-1.5zM404.98 480.38h1.5v1.5h-1.5zM365.95 476.33h1.5v1.5h-1.5zM438.45 479.5h1.5v1.5h-1.5zM503.91 482.85h1.5v1.5h-1.5zM436.09 476.1h1.5v1.5h-1.5zM388.41 473.84h1.5v1.5h-1.5zM493.51 477.89h1.5v1.5h-1.5zM460.6 479.21h1.5v1.5h-1.5zM368.81 479.34h1.5v1.5h-1.5zM502.03 479.1h1.5v1.5h-1.5zM368.46 479.31h1.5v1.5h-1.5zM392.88 474.28h1.5v1.5h-1.5zM361.72 473.75h1.5v1.5h-1.5zM444.2 477.26h1.5v1.5h-1.5zM410.79 477.71h1.5v1.5h-1.5zM408.42 475.27h1.5v1.5h-1.5zM477.37 481.14h1.5v1.5h-1.5zM431.13 478.16h1.5v1.5h-1.5zM392.37 476.63h1.5v1.5h-1.5zM431.05 482.44h1.5v1.5h-1.5zM418.65 476.15h1.5v1.5h-1.5zM374.99 476.23h1.5v1.5h-1.5zM486.98 477.39h1.5v1.5h-1.5zM387.69 478.75h1.5v1.5h-1.5zM398.42 477.53h1.5v1.5h-1.5zM408.53 479.16h1.5v1.5h-1.5zM404.7 477.74h1.5v1.5h-1.5zM374.58 482.06h1.5v1.5h-1.5zM476.7 473.66h1.5v1.5h-1.5zM429.85 478.73h1.5v1.5h-1.5zM466.41 478.69h1.5v1.5h-1.5zM378.68 482.15h1.5v1.5h-1.5zM469.18 479.57h1.5v1.5h-1.5zM499.24 478h1.5v1.5h-1.5zM387.51 479.17h1.5v1.5h-1.5zM446.08 477.96h1.5v1.5h-1.5zM405.41 474.88h1.5v1.5h-1.5zM497.47 476.35h1.5v1.5h-1.5zM468.16 477.65h1.5v1.5h-1.5zM481.47 480.35h1.5v1.5h-1.5zM446.18 476.82h1.5v1.5h-1.5zM476.28 481.5h1.5v1.5h-1.5zM368.99 480.55h1.5v1.5h-1.5zM495.18 480.4h1.5v1.5h-1.5zM467.97 476.6h1.5v1.5h-1.5zM392.02 477.44h1.5v1.5h-1.5zM377.84 475.14h1.5v1.5h-1.5zM398.2 479.72h1.5v1.5h-1.5zM468.31 475.41h1.5v1.5h-1.5zM423.11 475.67h1.5v1.5h-1.5zM472.72 478.41h1.5v1.5h-1.5zM402.99 477.61h1.5v1.5h-1.5zM459.17 477.82h1.5v1.5h-1.5zM407.61 477.18h1.5v1.5h-1.5zM470.05 475.65h1.5v1.5h-1.5zM380.1 475.94h1.5v1.5h-1.5zM414.56 478.26h1.5v1.5h-1.5zM436.25 480.44h1.5v1.5h-1.5zM463.87 478.7h1.5v1.5h-1.5zM417.28 478.7h1.5v1.5h-1.5zM362.41 477.68h1.5v1.5h-1.5zM435.65 477.37h1.5v1.5h-1.5zM365 477.52h1.5v1.5h-1.5zM488.26 476.09h1.5v1.5h-1.5zM437.87 475.38h1.5v1.5h-1.5zM452.8 475.52h1.5v1.5h-1.5zM376.64 473.11h1.5v1.5h-1.5zM406.12 479.03h1.5v1.5h-1.5zM469.34 472.01h1.5v1.5h-1.5zM435.75 480.11h1.5v1.5h-1.5zM442.18 478.53h1.5v1.5h-1.5zM409.39 477.36h1.5v1.5h-1.5zM458.66 475.4h1.5v1.5h-1.5zM413.35 473.37h1.5v1.5h-1.5zM398.92 477.97h1.5v1.5h-1.5zM416.7 480.99h1.5v1.5h-1.5zM432.74 482.58h1.5v1.5h-1.5zM419.59 475.39h1.5v1.5h-1.5zM372.86 479.44h1.5v1.5h-1.5zM444.93 479.18h1.5v1.5h-1.5zM408.69 477.85h1.5v1.5h-1.5zM385.01 477.18h1.5v1.5h-1.5zM459.59 480.36h1.5v1.5h-1.5zM468.6 480.33h1.5v1.5h-1.5zM429.95 479.16h1.5v1.5h-1.5zM495.72 478.49h1.5v1.5h-1.5zM454.08 476.26h1.5v1.5h-1.5zM479.44 475.07h1.5v1.5h-1.5zM413.78 478.28h1.5v1.5h-1.5zM460.19 479.2h1.5v1.5h-1.5zM494.93 478.14h1.5v1.5h-1.5zM402.33 473.83h1.5v1.5h-1.5zM502.34 481.38h1.5v1.5h-1.5zM392.39 475.86h1.5v1.5h-1.5zM457.6 478.16h1.5v1.5h-1.5zM370.11 478.99h1.5v1.5h-1.5zM379.17 478.78h1.5v1.5h-1.5zM412.5 483.48h1.5v1.5h-1.5zM420.77 476.3h1.5v1.5h-1.5zM378.94 480.96h1.5v1.5h-1.5zM380.08 474.49h1.5v1.5h-1.5zM490.61 477.61h1.5v1.5h-1.5zM449.5 476.73h1.5v1.5h-1.5zM466.66 477.48h1.5v1.5h-1.5zM466.1 477.7h1.5v1.5h-1.5zM449.79 475.64h1.5v1.5h-1.5zM500.31 481.09h1.5v1.5h-1.5z" fill="#0a0a0a"/>
<line x1="360.5" y1="477.9" x2="505.6" y2="477.9" stroke="#a01826" stroke-width="1.2"/>
<path d="M324.1 472.1h1.8v1.8h-1.8zM324.1 480.6h1.8v1.8h-1.8zM324.9 483.7h1.8v1.8h-1.8zM327.1 488.3h1.8v1.8h-1.8zM327.1 496.1h1.8v1.8h-1.8zM327.6 499.1h1.8v1.8h-1.8zM335.6 492.1h1.8v1.8h-1.8zM336.4 496.1h1.8v1.8h-1.8zM342.6 478.3h1.8v1.8h-1.8zM342.6 482.1h1.8v1.8h-1.8zM342.6 489.1h1.8v1.8h-1.8zM341.1 490.6h1.8v1.8h-1.8zM358.7 486.8h1.8v1.8h-1.8zM359.9 497.6h1.8v1.8h-1.8zM331.1 498.1h1.8v1.8h-1.8zM337.1 498.1h1.8v1.8h-1.8zM399.1 495.1h1.8v1.8h-1.8zM492.6 501.9h1.8v1.8h-1.8z" fill="#111"/>
<path d="M305.23 536.64h1.6v1.6h-1.6zM306.91 538.52h1.6v1.6h-1.6zM319.47 538.71h1.6v1.6h-1.6zM308.99 536.86h1.6v1.6h-1.6zM319.26 537.22h1.6v1.6h-1.6zM318.29 535.56h1.6v1.6h-1.6zM311.04 539.49h1.6v1.6h-1.6zM307.74 537.97h1.6v1.6h-1.6zM319.67 538.11h1.6v1.6h-1.6zM307.83 537.8h1.6v1.6h-1.6zM313.69 537.33h1.6v1.6h-1.6zM316.65 537.94h1.6v1.6h-1.6zM310.03 538.4h1.6v1.6h-1.6zM309.99 536.47h1.6v1.6h-1.6zM314.87 536.76h1.6v1.6h-1.6zM308.12 539.84h1.6v1.6h-1.6zM308.16 540h1.6v1.6h-1.6zM308.23 537.07h1.6v1.6h-1.6zM309.2 539.5h1.6v1.6h-1.6zM318.46 538.24h1.6v1.6h-1.6zM317.77 539.98h1.6v1.6h-1.6zM314.54 537.87h1.6v1.6h-1.6zM308.98 539.53h1.6v1.6h-1.6zM314.59 535.79h1.6v1.6h-1.6zM310.44 536.91h1.6v1.6h-1.6zM309.66 539.04h1.6v1.6h-1.6zM312.82 538.58h1.6v1.6h-1.6zM315.52 537.46h1.6v1.6h-1.6zM312.27 537.83h1.6v1.6h-1.6zM313.78 536.8h1.6v1.6h-1.6zM315.73 535.18h1.6v1.6h-1.6zM306.34 534.47h1.6v1.6h-1.6zM317.85 536.41h1.6v1.6h-1.6zM317.75 535.95h1.6v1.6h-1.6zM319.56 537.54h1.6v1.6h-1.6zM307.88 535.47h1.6v1.6h-1.6zM307.95 535.75h1.6v1.6h-1.6zM302.23 539.23h1.6v1.6h-1.6zM315.88 537.21h1.6v1.6h-1.6zM315.4 537.04h1.6v1.6h-1.6zM308.24 538.09h1.6v1.6h-1.6zM317.03 538.87h1.6v1.6h-1.6zM309.46 537.94h1.6v1.6h-1.6zM307.78 538h1.6v1.6h-1.6zM304.55 537.44h1.6v1.6h-1.6zM314.94 538.8h1.6v1.6h-1.6zM314.98 537.67h1.6v1.6h-1.6zM316.86 538.13h1.6v1.6h-1.6zM311.95 535.2h1.6v1.6h-1.6zM301.26 537.05h1.6v1.6h-1.6zM312.62 540.21h1.6v1.6h-1.6zM312.25 536.38h1.6v1.6h-1.6zM312.76 535.71h1.6v1.6h-1.6zM303.57 536.8h1.6v1.6h-1.6zM306.91 538.5h1.6v1.6h-1.6zM306.11 538.04h1.6v1.6h-1.6zM318.67 537.6h1.6v1.6h-1.6zM313.07 539.12h1.6v1.6h-1.6zM313.63 539.55h1.6v1.6h-1.6zM314.63 538.37h1.6v1.6h-1.6zM302 540.62h1.6v1.6h-1.6zM314.01 539.09h1.6v1.6h-1.6zM308.76 538.93h1.6v1.6h-1.6zM317.51 538.53h1.6v1.6h-1.6zM315.18 536.56h1.6v1.6h-1.6zM313.37 537.12h1.6v1.6h-1.6zM308.54 537.48h1.6v1.6h-1.6zM313.8 539.16h1.6v1.6h-1.6zM307.54 537.17h1.6v1.6h-1.6zM307.73 538.42h1.6v1.6h-1.6zM304.61 537.54h1.6v1.6h-1.6zM315.56 539.57h1.6v1.6h-1.6zM310.2 536.72h1.6v1.6h-1.6zM305.24 536.34h1.6v1.6h-1.6zM306.77 539.97h1.6v1.6h-1.6zM315.9 536.25h1.6v1.6h-1.6zM309.65 534.81h1.6v1.6h-1.6zM302.81 538.69h1.6v1.6h-1.6zM304.75 537.42h1.6v1.6h-1.6zM302.07 539.33h1.6v1.6h-1.6zM310.71 537.52h1.6v1.6h-1.6zM306.01 535.79h1.6v1.6h-1.6zM312.28 539.81h1.6v1.6h-1.6zM310.33 537.1h1.6v1.6h-1.6zM302.55 537.99h1.6v1.6h-1.6zM302.95 537.26h1.6v1.6h-1.6zM309.89 534.76h1.6v1.6h-1.6zM317.42 539.85h1.6v1.6h-1.6zM311.13 535.62h1.6v1.6h-1.6zM314.29 538.64h1.6v1.6h-1.6zM305.83 536.24h1.6v1.6h-1.6zM301.4 537.44h1.6v1.6h-1.6zM309.48 538.92h1.6v1.6h-1.6zM314.94 536.59h1.6v1.6h-1.6zM312.74 539h1.6v1.6h-1.6zM304.16 538.3h1.6v1.6h-1.6zM305.2 538.43h1.6v1.6h-1.6zM311.2 538.51h1.6v1.6h-1.6zM309.79 536.92h1.6v1.6h-1.6zM302.81 537.72h1.6v1.6h-1.6zM303.92 538.62h1.6v1.6h-1.6zM304.16 539.16h1.6v1.6h-1.6zM317.48 540.93h1.6v1.6h-1.6zM302.67 539.37h1.6v1.6h-1.6zM315.25 538.47h1.6v1.6h-1.6zM314.57 537.44h1.6v1.6h-1.6zM317.88 536.47h1.6v1.6h-1.6zM316.97 538.51h1.6v1.6h-1.6zM305.87 538.1h1.6v1.6h-1.6zM318.48 538.59h1.6v1.6h-1.6zM307.69 537.4h1.6v1.6h-1.6zM303.07 536.61h1.6v1.6h-1.6zM306.54 534.83h1.6v1.6h-1.6zM306.15 539.57h1.6v1.6h-1.6zM317.92 538.31h1.6v1.6h-1.6zM306.41 536.2h1.6v1.6h-1.6zM309.13 534.99h1.6v1.6h-1.6zM318.5 536.79h1.6v1.6h-1.6zM314.03 537.74h1.6v1.6h-1.6zM313.97 537.67h1.6v1.6h-1.6zM304.72 539.39h1.6v1.6h-1.6zM303.09 538.57h1.6v1.6h-1.6zM308.87 537.76h1.6v1.6h-1.6zM304.51 536.53h1.6v1.6h-1.6zM312.45 538.8h1.6v1.6h-1.6zM301.54 537.18h1.6v1.6h-1.6zM313.95 538.68h1.6v1.6h-1.6zM312.8 535.65h1.6v1.6h-1.6zM303.44 537.61h1.6v1.6h-1.6zM304.25 537.4h1.6v1.6h-1.6zM306.82 537.63h1.6v1.6h-1.6zM310.52 539.37h1.6v1.6h-1.6zM306.78 537.62h1.6v1.6h-1.6zM318.79 536.24h1.6v1.6h-1.6zM315.11 538.78h1.6v1.6h-1.6zM313.27 538.15h1.6v1.6h-1.6zM313.13 536.06h1.6v1.6h-1.6zM316.82 539.47h1.6v1.6h-1.6zM309.45 540.85h1.6v1.6h-1.6zM312.46 537.63h1.6v1.6h-1.6zM317.96 539.31h1.6v1.6h-1.6zM304.77 539.18h1.6v1.6h-1.6zM313.94 541.79h1.6v1.6h-1.6zM313.38 535.38h1.6v1.6h-1.6zM316.08 539.28h1.6v1.6h-1.6zM314.12 535.16h1.6v1.6h-1.6zM308.07 537.38h1.6v1.6h-1.6zM309.63 538.49h1.6v1.6h-1.6zM309.97 537.77h1.6v1.6h-1.6zM318.6 537.01h1.6v1.6h-1.6zM312.9 538.48h1.6v1.6h-1.6zM311.37 539.63h1.6v1.6h-1.6zM304.56 538.83h1.6v1.6h-1.6zM305.66 536.35h1.6v1.6h-1.6zM317.54 536.35h1.6v1.6h-1.6zM309.14 538.11h1.6v1.6h-1.6zM303.09 536.86h1.6v1.6h-1.6zM309.54 538.2h1.6v1.6h-1.6zM302.62 537.95h1.6v1.6h-1.6zM307.04 537.04h1.6v1.6h-1.6zM307.04 537.93h1.6v1.6h-1.6zM316.95 536.36h1.6v1.6h-1.6zM311.71 539.19h1.6v1.6h-1.6zM303.54 539.35h1.6v1.6h-1.6zM302.11 539.23h1.6v1.6h-1.6zM311.48 537.87h1.6v1.6h-1.6zM303.32 536.46h1.6v1.6h-1.6zM315.73 539.46h1.6v1.6h-1.6zM304.48 538.59h1.6v1.6h-1.6zM307.62 537.49h1.6v1.6h-1.6z" fill="#0a0a0a"/>
<line x1="301.9" y1="538.7" x2="320.6" y2="538.7" stroke="#a01826" stroke-width="1.2"/>
<path d="M504.17 537.39h1.5v1.5h-1.5zM437.67 536.18h1.5v1.5h-1.5zM375.92 536.85h1.5v1.5h-1.5zM464.13 541.06h1.5v1.5h-1.5zM383.93 537.41h1.5v1.5h-1.5zM468.6 535.82h1.5v1.5h-1.5zM397.11 538.67h1.5v1.5h-1.5zM491.03 536.75h1.5v1.5h-1.5zM498.58 542.04h1.5v1.5h-1.5zM473.75 537.48h1.5v1.5h-1.5zM427.59 538.82h1.5v1.5h-1.5zM490.43 536.3h1.5v1.5h-1.5zM436.52 538.9h1.5v1.5h-1.5zM369.03 539.53h1.5v1.5h-1.5zM450.69 538.85h1.5v1.5h-1.5zM459.69 535.87h1.5v1.5h-1.5zM409.26 540.13h1.5v1.5h-1.5zM381.57 541.27h1.5v1.5h-1.5zM416.09 540.62h1.5v1.5h-1.5zM499.84 535.57h1.5v1.5h-1.5zM419.09 538.27h1.5v1.5h-1.5zM409.07 536.62h1.5v1.5h-1.5zM482.81 540.34h1.5v1.5h-1.5zM446.81 536.36h1.5v1.5h-1.5zM416.66 537.71h1.5v1.5h-1.5zM464.03 536.14h1.5v1.5h-1.5zM374.65 539.31h1.5v1.5h-1.5zM478.34 537.7h1.5v1.5h-1.5zM394.3 535.83h1.5v1.5h-1.5zM370.01 539.27h1.5v1.5h-1.5zM403.22 538.15h1.5v1.5h-1.5zM419.78 536.69h1.5v1.5h-1.5zM463.3 536.77h1.5v1.5h-1.5zM396.06 539.93h1.5v1.5h-1.5zM468.88 539.8h1.5v1.5h-1.5zM443.57 538.76h1.5v1.5h-1.5zM417.53 537.35h1.5v1.5h-1.5zM487.02 539.06h1.5v1.5h-1.5zM491.49 535.9h1.5v1.5h-1.5zM420.64 537.36h1.5v1.5h-1.5zM488.22 539.33h1.5v1.5h-1.5zM487.51 538.62h1.5v1.5h-1.5zM469.78 536.85h1.5v1.5h-1.5zM443.24 540.75h1.5v1.5h-1.5zM385.16 536.66h1.5v1.5h-1.5zM428.8 534.29h1.5v1.5h-1.5zM377.87 536.76h1.5v1.5h-1.5zM404.65 540.72h1.5v1.5h-1.5zM400.62 537.17h1.5v1.5h-1.5zM421.26 534.07h1.5v1.5h-1.5zM477.57 537.71h1.5v1.5h-1.5zM425.59 535.99h1.5v1.5h-1.5zM394.6 534.35h1.5v1.5h-1.5zM477.31 539.13h1.5v1.5h-1.5zM502.43 536.24h1.5v1.5h-1.5zM369.93 539.52h1.5v1.5h-1.5zM383.6 537.9h1.5v1.5h-1.5zM428.62 540h1.5v1.5h-1.5zM386.67 537.6h1.5v1.5h-1.5zM501.01 537.59h1.5v1.5h-1.5zM394.06 536.7h1.5v1.5h-1.5zM491.03 539.81h1.5v1.5h-1.5zM444.13 538.07h1.5v1.5h-1.5zM425.69 539.93h1.5v1.5h-1.5zM473.03 539.77h1.5v1.5h-1.5zM478.72 538.9h1.5v1.5h-1.5zM417.97 540.81h1.5v1.5h-1.5zM460.01 538.84h1.5v1.5h-1.5zM421.74 537.97h1.5v1.5h-1.5zM411.55 540.48h1.5v1.5h-1.5zM417.99 540.75h1.5v1.5h-1.5zM504.66 536.82h1.5v1.5h-1.5zM428.78 539.37h1.5v1.5h-1.5zM459.23 536.8h1.5v1.5h-1.5zM439.58 539.71h1.5v1.5h-1.5zM498.12 537.21h1.5v1.5h-1.5zM410.89 540.8h1.5v1.5h-1.5zM479.79 536.92h1.5v1.5h-1.5zM450.44 539.49h1.5v1.5h-1.5zM454.71 535.78h1.5v1.5h-1.5zM471.06 535.63h1.5v1.5h-1.5zM472.39 543.47h1.5v1.5h-1.5zM482.01 534.6h1.5v1.5h-1.5zM491.42 541.29h1.5v1.5h-1.5zM424.26 541.97h1.5v1.5h-1.5zM480.72 539.28h1.5v1.5h-1.5zM428.7 540.05h1.5v1.5h-1.5zM397.99 538.41h1.5v1.5h-1.5zM412.75 539.71h1.5v1.5h-1.5zM378.64 536.98h1.5v1.5h-1.5zM481.38 537.71h1.5v1.5h-1.5zM376.95 538.32h1.5v1.5h-1.5zM489.98 537.21h1.5v1.5h-1.5zM444 540.09h1.5v1.5h-1.5zM454.33 538.99h1.5v1.5h-1.5zM404.44 538.07h1.5v1.5h-1.5zM403.55 541.54h1.5v1.5h-1.5zM401.52 538.8h1.5v1.5h-1.5zM478.3 540.64h1.5v1.5h-1.5zM483.63 538.54h1.5v1.5h-1.5zM448.38 539.18h1.5v1.5h-1.5zM412.43 536.04h1.5v1.5h-1.5zM429.48 536.47h1.5v1.5h-1.5zM455.47 534.96h1.5v1.5h-1.5zM420.01 539.68h1.5v1.5h-1.5zM459.69 539.8h1.5v1.5h-1.5zM409.37 537.82h1.5v1.5h-1.5zM447.99 537.05h1.5v1.5h-1.5zM465.34 541.26h1.5v1.5h-1.5zM486.69 537.63h1.5v1.5h-1.5zM464.96 537.24h1.5v1.5h-1.5zM420.55 535.35h1.5v1.5h-1.5zM424.74 537.91h1.5v1.5h-1.5zM489.99 537.09h1.5v1.5h-1.5zM488.8 539.96h1.5v1.5h-1.5zM396.57 539.93h1.5v1.5h-1.5zM390.8 537.92h1.5v1.5h-1.5zM381.4 535.27h1.5v1.5h-1.5zM445.36 537.65h1.5v1.5h-1.5zM495.2 535.81h1.5v1.5h-1.5zM455.69 536.58h1.5v1.5h-1.5zM370.99 538.08h1.5v1.5h-1.5zM457.19 536.06h1.5v1.5h-1.5zM493.32 537.99h1.5v1.5h-1.5zM382.2 538.44h1.5v1.5h-1.5zM502.79 534.12h1.5v1.5h-1.5zM384.42 536.27h1.5v1.5h-1.5zM474.36 538.27h1.5v1.5h-1.5zM500.62 537.39h1.5v1.5h-1.5zM395.61 541.64h1.5v1.5h-1.5zM401.3 536.75h1.5v1.5h-1.5zM479.64 538.42h1.5v1.5h-1.5zM494.13 540.17h1.5v1.5h-1.5zM467.81 538.48h1.5v1.5h-1.5zM499.25 537.54h1.5v1.5h-1.5zM419.52 536.8h1.5v1.5h-1.5zM418.41 537.66h1.5v1.5h-1.5zM439.08 539.26h1.5v1.5h-1.5zM454.33 536.9h1.5v1.5h-1.5zM478.04 538.72h1.5v1.5h-1.5zM425.5 537.55h1.5v1.5h-1.5zM502.05 540.13h1.5v1.5h-1.5zM439.2 536.79h1.5v1.5h-1.5zM422.35 540.45h1.5v1.5h-1.5zM441.64 535.52h1.5v1.5h-1.5zM417.86 536.85h1.5v1.5h-1.5zM414.1 541.39h1.5v1.5h-1.5zM437.08 538.44h1.5v1.5h-1.5zM462.71 540.28h1.5v1.5h-1.5zM368.06 540.29h1.5v1.5h-1.5zM434.7 539.38h1.5v1.5h-1.5zM411.26 536.64h1.5v1.5h-1.5zM471.96 537.06h1.5v1.5h-1.5zM469.03 532.41h1.5v1.5h-1.5zM468.09 536.42h1.5v1.5h-1.5zM495.63 537.18h1.5v1.5h-1.5zM443.25 540.11h1.5v1.5h-1.5zM494.77 539.63h1.5v1.5h-1.5zM472.72 537.8h1.5v1.5h-1.5zM447.17 536.64h1.5v1.5h-1.5zM366.85 536.74h1.5v1.5h-1.5zM406.06 537.94h1.5v1.5h-1.5zM467.93 539.4h1.5v1.5h-1.5zM452.72 538.74h1.5v1.5h-1.5zM471.04 536.44h1.5v1.5h-1.5zM383.04 540.02h1.5v1.5h-1.5zM454.55 537.63h1.5v1.5h-1.5zM500.84 537.25h1.5v1.5h-1.5zM493.75 538.83h1.5v1.5h-1.5zM449.88 541.16h1.5v1.5h-1.5zM461.05 537.58h1.5v1.5h-1.5zM499.93 536.94h1.5v1.5h-1.5zM424.15 539.89h1.5v1.5h-1.5zM389.51 538.08h1.5v1.5h-1.5zM432.08 538.4h1.5v1.5h-1.5zM364.91 541.22h1.5v1.5h-1.5zM420.42 538.03h1.5v1.5h-1.5zM392.62 540.31h1.5v1.5h-1.5zM485.5 536.91h1.5v1.5h-1.5zM415.03 542.41h1.5v1.5h-1.5zM382.3 540.66h1.5v1.5h-1.5zM478.9 535.65h1.5v1.5h-1.5zM395.16 540.03h1.5v1.5h-1.5zM440.06 540.16h1.5v1.5h-1.5zM463.8 536.61h1.5v1.5h-1.5zM382.13 536.91h1.5v1.5h-1.5zM388.54 538.29h1.5v1.5h-1.5zM426.91 536.12h1.5v1.5h-1.5zM382.13 536.47h1.5v1.5h-1.5zM414.73 539.92h1.5v1.5h-1.5zM385.5 537.15h1.5v1.5h-1.5zM486.77 538.6h1.5v1.5h-1.5zM394.94 535.08h1.5v1.5h-1.5zM366.67 536.94h1.5v1.5h-1.5zM462.42 536.35h1.5v1.5h-1.5zM375.64 539.11h1.5v1.5h-1.5zM486.43 541.07h1.5v1.5h-1.5zM493.53 536.05h1.5v1.5h-1.5zM422.54 537.61h1.5v1.5h-1.5zM365.18 539.47h1.5v1.5h-1.5zM440.69 538h1.5v1.5h-1.5zM386.89 540.84h1.5v1.5h-1.5zM486.63 539.84h1.5v1.5h-1.5zM404.36 539.95h1.5v1.5h-1.5zM463.4 537.96h1.5v1.5h-1.5zM465.47 539.57h1.5v1.5h-1.5zM412.4 538.54h1.5v1.5h-1.5zM445.02 540.24h1.5v1.5h-1.5zM448.51 539.07h1.5v1.5h-1.5zM421.32 538.41h1.5v1.5h-1.5zM440.15 535.36h1.5v1.5h-1.5zM448.98 535.35h1.5v1.5h-1.5zM378.71 540.45h1.5v1.5h-1.5zM480.27 537.06h1.5v1.5h-1.5zM424.21 535.17h1.5v1.5h-1.5zM475.52 538.52h1.5v1.5h-1.5zM436.13 537.89h1.5v1.5h-1.5zM423.02 538.42h1.5v1.5h-1.5zM472.46 541.15h1.5v1.5h-1.5zM389.52 538.63h1.5v1.5h-1.5zM442.97 534.91h1.5v1.5h-1.5zM394.15 537.72h1.5v1.5h-1.5zM370.31 535.78h1.5v1.5h-1.5zM448.12 536.55h1.5v1.5h-1.5zM390.96 536.43h1.5v1.5h-1.5zM418.75 537.74h1.5v1.5h-1.5zM488.06 537.27h1.5v1.5h-1.5zM402.78 535.85h1.5v1.5h-1.5zM398.69 539.19h1.5v1.5h-1.5zM461.1 540.91h1.5v1.5h-1.5zM379.03 536.9h1.5v1.5h-1.5zM455.73 540.2h1.5v1.5h-1.5zM368.76 538.7h1.5v1.5h-1.5zM394.06 537.55h1.5v1.5h-1.5zM481.01 538.95h1.5v1.5h-1.5zM491.35 537.93h1.5v1.5h-1.5zM448.07 537.41h1.5v1.5h-1.5zM412.36 534.01h1.5v1.5h-1.5zM491.11 538.72h1.5v1.5h-1.5zM392.73 533.94h1.5v1.5h-1.5zM472.12 539.91h1.5v1.5h-1.5zM426.14 537.15h1.5v1.5h-1.5zM401.38 537.86h1.5v1.5h-1.5zM476.75 542.18h1.5v1.5h-1.5zM405.29 540.78h1.5v1.5h-1.5zM498.95 540.56h1.5v1.5h-1.5zM402.2 536.46h1.5v1.5h-1.5zM491.84 538.82h1.5v1.5h-1.5zM459.01 539.09h1.5v1.5h-1.5zM399.8 538.9h1.5v1.5h-1.5zM443.66 538.99h1.5v1.5h-1.5zM414.8 541.95h1.5v1.5h-1.5zM363.59 540.53h1.5v1.5h-1.5zM365.9 538.6h1.5v1.5h-1.5zM450.5 538.92h1.5v1.5h-1.5zM500.93 541.7h1.5v1.5h-1.5zM495.15 536.55h1.5v1.5h-1.5zM421.26 539.91h1.5v1.5h-1.5zM386.22 535.88h1.5v1.5h-1.5zM503.55 538.87h1.5v1.5h-1.5zM362.81 538.76h1.5v1.5h-1.5zM436.21 537.55h1.5v1.5h-1.5zM481.9 534.49h1.5v1.5h-1.5zM500.91 535.22h1.5v1.5h-1.5zM410.51 537.8h1.5v1.5h-1.5zM458.52 535.3h1.5v1.5h-1.5zM464.37 538.25h1.5v1.5h-1.5zM441.16 539.02h1.5v1.5h-1.5zM402.48 536.78h1.5v1.5h-1.5zM501.25 539.57h1.5v1.5h-1.5zM440.56 534.82h1.5v1.5h-1.5zM436.78 537.12h1.5v1.5h-1.5zM412.31 538.34h1.5v1.5h-1.5zM402.82 538.95h1.5v1.5h-1.5zM421.52 540.55h1.5v1.5h-1.5zM426.67 540.25h1.5v1.5h-1.5zM423.6 537.74h1.5v1.5h-1.5zM440.51 537.28h1.5v1.5h-1.5zM468.73 538.23h1.5v1.5h-1.5zM502.86 538.64h1.5v1.5h-1.5zM398.1 540h1.5v1.5h-1.5zM423.97 538.76h1.5v1.5h-1.5zM473.82 537.82h1.5v1.5h-1.5zM392.97 538.88h1.5v1.5h-1.5zM400.62 538.83h1.5v1.5h-1.5zM400.48 537.61h1.5v1.5h-1.5zM445.98 538.73h1.5v1.5h-1.5zM393.24 538.43h1.5v1.5h-1.5zM370.51 538.2h1.5v1.5h-1.5zM403.24 538.03h1.5v1.5h-1.5zM449.21 537.27h1.5v1.5h-1.5zM410.46 536.32h1.5v1.5h-1.5zM427.8 535.67h1.5v1.5h-1.5zM457.21 537.69h1.5v1.5h-1.5zM432.44 532.58h1.5v1.5h-1.5zM405.78 534.12h1.5v1.5h-1.5zM501.22 536.62h1.5v1.5h-1.5zM387.72 537.61h1.5v1.5h-1.5zM423.05 538.07h1.5v1.5h-1.5zM444.06 540.32h1.5v1.5h-1.5zM456.21 538.63h1.5v1.5h-1.5zM367.7 539.5h1.5v1.5h-1.5zM458.52 535.95h1.5v1.5h-1.5zM368.57 536.78h1.5v1.5h-1.5zM434.56 537.59h1.5v1.5h-1.5zM399.28 536.16h1.5v1.5h-1.5zM454.39 537.52h1.5v1.5h-1.5zM401.76 538.65h1.5v1.5h-1.5zM472.18 539.58h1.5v1.5h-1.5zM365.61 536.92h1.5v1.5h-1.5zM489.18 539.49h1.5v1.5h-1.5zM418.54 538.96h1.5v1.5h-1.5zM365.86 536.69h1.5v1.5h-1.5zM366.74 537.86h1.5v1.5h-1.5zM495.27 540.59h1.5v1.5h-1.5zM457.1 535.15h1.5v1.5h-1.5zM406.61 537h1.5v1.5h-1.5zM371.9 538.82h1.5v1.5h-1.5zM457.38 534.36h1.5v1.5h-1.5zM382.8 538.87h1.5v1.5h-1.5zM395.48 539.59h1.5v1.5h-1.5zM416.84 533.76h1.5v1.5h-1.5zM408.09 542.96h1.5v1.5h-1.5zM504.02 536.7h1.5v1.5h-1.5zM432.04 539.84h1.5v1.5h-1.5zM493.27 537.05h1.5v1.5h-1.5zM402.75 537.73h1.5v1.5h-1.5zM398.75 537.09h1.5v1.5h-1.5zM377.47 541.67h1.5v1.5h-1.5zM434.11 538.1h1.5v1.5h-1.5zM460.22 537.16h1.5v1.5h-1.5zM396.76 538.02h1.5v1.5h-1.5zM413.16 538.22h1.5v1.5h-1.5zM486.96 539.55h1.5v1.5h-1.5zM495.18 538.89h1.5v1.5h-1.5zM481.17 540.22h1.5v1.5h-1.5zM394.79 537.91h1.5v1.5h-1.5zM396.99 538h1.5v1.5h-1.5zM457.31 536.05h1.5v1.5h-1.5zM411.56 537.15h1.5v1.5h-1.5zM468.06 535.16h1.5v1.5h-1.5zM480.25 539.44h1.5v1.5h-1.5zM477.48 542.54h1.5v1.5h-1.5zM426.74 539.27h1.5v1.5h-1.5zM467.35 537.45h1.5v1.5h-1.5zM466.6 537.73h1.5v1.5h-1.5zM415.94 539.15h1.5v1.5h-1.5zM404.82 535.62h1.5v1.5h-1.5zM388.68 535.58h1.5v1.5h-1.5zM450.12 536.17h1.5v1.5h-1.5zM461.37 536.08h1.5v1.5h-1.5zM402.95 536.83h1.5v1.5h-1.5zM476.17 540.97h1.5v1.5h-1.5zM434.24 537.52h1.5v1.5h-1.5zM462.81 541.1h1.5v1.5h-1.5zM416.98 537.05h1.5v1.5h-1.5zM368.66 536.44h1.5v1.5h-1.5zM369.79 538.98h1.5v1.5h-1.5zM490.35 538.02h1.5v1.5h-1.5zM456.4 534.95h1.5v1.5h-1.5zM397.81 533.87h1.5v1.5h-1.5zM435.72 535.64h1.5v1.5h-1.5zM491.46 536.66h1.5v1.5h-1.5zM384 540.46h1.5v1.5h-1.5zM488.33 538.57h1.5v1.5h-1.5zM429.38 536.9h1.5v1.5h-1.5zM476.65 536.68h1.5v1.5h-1.5zM392.37 539.31h1.5v1.5h-1.5zM460.71 539.64h1.5v1.5h-1.5zM426.83 539.3h1.5v1.5h-1.5zM417.2 541.14h1.5v1.5h-1.5zM427.67 537.62h1.5v1.5h-1.5zM394.38 535.47h1.5v1.5h-1.5zM377.35 538.62h1.5v1.5h-1.5zM386.95 536.58h1.5v1.5h-1.5zM473.88 540.48h1.5v1.5h-1.5zM416.81 538.78h1.5v1.5h-1.5zM477.31 540.72h1.5v1.5h-1.5zM501.45 536.58h1.5v1.5h-1.5zM458.16 539.92h1.5v1.5h-1.5zM414.49 536.12h1.5v1.5h-1.5zM442.5 538.35h1.5v1.5h-1.5zM429.36 539.3h1.5v1.5h-1.5zM462.4 540.16h1.5v1.5h-1.5zM433.4 533.41h1.5v1.5h-1.5zM392.78 540.69h1.5v1.5h-1.5zM443.32 536.73h1.5v1.5h-1.5zM411.14 539.44h1.5v1.5h-1.5zM475.14 537.7h1.5v1.5h-1.5zM427.8 540.56h1.5v1.5h-1.5zM466.85 542.31h1.5v1.5h-1.5zM491.07 537.91h1.5v1.5h-1.5zM377.89 540.4h1.5v1.5h-1.5zM387.28 539.97h1.5v1.5h-1.5zM369.92 539.69h1.5v1.5h-1.5zM426.49 536.46h1.5v1.5h-1.5zM474.09 537.64h1.5v1.5h-1.5zM428.41 536.35h1.5v1.5h-1.5zM394.63 537.97h1.5v1.5h-1.5zM486.86 539.37h1.5v1.5h-1.5zM442.19 537.67h1.5v1.5h-1.5zM498.14 537.15h1.5v1.5h-1.5zM481.94 539.47h1.5v1.5h-1.5zM366.71 535.77h1.5v1.5h-1.5zM461.79 541.33h1.5v1.5h-1.5zM481.51 537.07h1.5v1.5h-1.5zM411.17 541.55h1.5v1.5h-1.5zM374.78 538.2h1.5v1.5h-1.5zM425.15 535.96h1.5v1.5h-1.5zM394.12 535.62h1.5v1.5h-1.5zM472.17 539.77h1.5v1.5h-1.5zM496.83 538.34h1.5v1.5h-1.5zM403.49 540.77h1.5v1.5h-1.5zM417.16 535.89h1.5v1.5h-1.5zM366.19 536.28h1.5v1.5h-1.5zM382.29 540.09h1.5v1.5h-1.5zM483.93 538.91h1.5v1.5h-1.5zM373.52 538.42h1.5v1.5h-1.5zM444.79 537.64h1.5v1.5h-1.5zM409.66 540.38h1.5v1.5h-1.5zM377.81 542.45h1.5v1.5h-1.5zM392.09 538.16h1.5v1.5h-1.5zM389.14 537.9h1.5v1.5h-1.5zM473.38 540.86h1.5v1.5h-1.5zM501.16 536.47h1.5v1.5h-1.5zM403.35 537.61h1.5v1.5h-1.5zM501.02 538.12h1.5v1.5h-1.5zM447.48 536.47h1.5v1.5h-1.5zM464.76 537.39h1.5v1.5h-1.5zM362.91 540.08h1.5v1.5h-1.5zM491.7 535.89h1.5v1.5h-1.5zM367.42 539.85h1.5v1.5h-1.5zM391.72 535.84h1.5v1.5h-1.5zM448.35 539.17h1.5v1.5h-1.5zM434.43 538.91h1.5v1.5h-1.5zM459.27 535.15h1.5v1.5h-1.5zM420.6 541.28h1.5v1.5h-1.5zM376.82 538.97h1.5v1.5h-1.5zM400.33 540.68h1.5v1.5h-1.5zM466.73 537.37h1.5v1.5h-1.5zM442.72 539.86h1.5v1.5h-1.5zM393.47 538.87h1.5v1.5h-1.5zM418.49 538.31h1.5v1.5h-1.5zM493.06 539.65h1.5v1.5h-1.5zM423.45 538.04h1.5v1.5h-1.5zM465.19 537.08h1.5v1.5h-1.5zM477.21 541.39h1.5v1.5h-1.5zM365.73 536.21h1.5v1.5h-1.5zM492.65 537.26h1.5v1.5h-1.5zM444.96 541.45h1.5v1.5h-1.5zM460.33 540.48h1.5v1.5h-1.5zM464.57 541.04h1.5v1.5h-1.5zM423.14 537.14h1.5v1.5h-1.5zM437.32 539.21h1.5v1.5h-1.5zM375.8 532.69h1.5v1.5h-1.5zM503.8 538.73h1.5v1.5h-1.5zM453.78 538.42h1.5v1.5h-1.5zM433.52 539.14h1.5v1.5h-1.5zM499.97 540.48h1.5v1.5h-1.5zM372.84 536.42h1.5v1.5h-1.5zM401.25 540.9h1.5v1.5h-1.5zM435.37 541.16h1.5v1.5h-1.5zM388.33 538.29h1.5v1.5h-1.5zM502.04 535.73h1.5v1.5h-1.5zM491.19 537.94h1.5v1.5h-1.5zM488.14 535.59h1.5v1.5h-1.5zM428.27 538.08h1.5v1.5h-1.5zM482.96 539.98h1.5v1.5h-1.5zM432.05 538.32h1.5v1.5h-1.5zM396.14 536.19h1.5v1.5h-1.5zM381.84 539.6h1.5v1.5h-1.5zM458.38 533.43h1.5v1.5h-1.5zM422.52 539.89h1.5v1.5h-1.5zM383.52 538.16h1.5v1.5h-1.5zM401.47 541.63h1.5v1.5h-1.5zM423.6 539.72h1.5v1.5h-1.5zM376.68 536.84h1.5v1.5h-1.5zM377.64 539.97h1.5v1.5h-1.5zM434.33 534.51h1.5v1.5h-1.5zM446.37 538.12h1.5v1.5h-1.5zM452.28 538.32h1.5v1.5h-1.5zM437.89 538.35h1.5v1.5h-1.5zM402 538.99h1.5v1.5h-1.5zM458.42 537.5h1.5v1.5h-1.5zM426.33 536.4h1.5v1.5h-1.5zM460.02 541.19h1.5v1.5h-1.5zM462.61 536.95h1.5v1.5h-1.5zM431.32 538.29h1.5v1.5h-1.5zM466.83 540.11h1.5v1.5h-1.5zM492.65 538.85h1.5v1.5h-1.5zM450.58 535.15h1.5v1.5h-1.5zM498.38 534.62h1.5v1.5h-1.5zM477.35 537.87h1.5v1.5h-1.5zM445.02 541.13h1.5v1.5h-1.5zM472.63 539.47h1.5v1.5h-1.5zM378.07 540.6h1.5v1.5h-1.5zM401.56 536.62h1.5v1.5h-1.5zM450.3 535.93h1.5v1.5h-1.5zM489.73 540.33h1.5v1.5h-1.5zM454.44 536.71h1.5v1.5h-1.5zM468.65 538.56h1.5v1.5h-1.5zM464.47 538.25h1.5v1.5h-1.5zM417.37 534.75h1.5v1.5h-1.5zM469.98 539.46h1.5v1.5h-1.5zM391 538.11h1.5v1.5h-1.5zM488.97 536.71h1.5v1.5h-1.5zM389.78 540.64h1.5v1.5h-1.5zM365.55 541.16h1.5v1.5h-1.5zM416.25 539.15h1.5v1.5h-1.5zM484.74 543.77h1.5v1.5h-1.5zM486.76 540.06h1.5v1.5h-1.5zM443.12 535.76h1.5v1.5h-1.5zM464.4 539.33h1.5v1.5h-1.5zM490.37 537.95h1.5v1.5h-1.5zM425.35 537.72h1.5v1.5h-1.5zM444.5 539.99h1.5v1.5h-1.5zM396.83 535.8h1.5v1.5h-1.5zM405.02 534.58h1.5v1.5h-1.5zM488.95 536.99h1.5v1.5h-1.5zM452.66 534.7h1.5v1.5h-1.5zM389.67 542.69h1.5v1.5h-1.5zM368.25 537.49h1.5v1.5h-1.5zM396.4 539.49h1.5v1.5h-1.5zM390.23 541.1h1.5v1.5h-1.5zM500.92 536.82h1.5v1.5h-1.5zM470.04 537.4h1.5v1.5h-1.5zM458.8 539.79h1.5v1.5h-1.5zM457.69 537.7h1.5v1.5h-1.5zM496.22 540.84h1.5v1.5h-1.5zM370.84 536.54h1.5v1.5h-1.5zM416.55 540.32h1.5v1.5h-1.5zM412.04 536.37h1.5v1.5h-1.5zM454.82 538.19h1.5v1.5h-1.5zM386.81 538.75h1.5v1.5h-1.5zM400.4 537.53h1.5v1.5h-1.5zM467.2 541.5h1.5v1.5h-1.5zM448.51 540.19h1.5v1.5h-1.5zM437.98 534.37h1.5v1.5h-1.5zM374.52 539.78h1.5v1.5h-1.5zM402.24 537.86h1.5v1.5h-1.5zM367.19 538.45h1.5v1.5h-1.5zM366.5 536.55h1.5v1.5h-1.5zM477.7 539.31h1.5v1.5h-1.5zM453.64 542.72h1.5v1.5h-1.5zM502.2 539.76h1.5v1.5h-1.5zM447.4 541.81h1.5v1.5h-1.5zM366.22 538.23h1.5v1.5h-1.5zM389.88 537.84h1.5v1.5h-1.5zM445.35 538.6h1.5v1.5h-1.5zM473.8 536.12h1.5v1.5h-1.5zM500.82 535.93h1.5v1.5h-1.5zM409.66 540.69h1.5v1.5h-1.5zM410.19 538.03h1.5v1.5h-1.5zM402.67 541.19h1.5v1.5h-1.5zM465.36 538.9h1.5v1.5h-1.5zM392.49 539.05h1.5v1.5h-1.5zM458.36 538.64h1.5v1.5h-1.5zM433.06 536.85h1.5v1.5h-1.5zM412.48 537.93h1.5v1.5h-1.5zM392.53 541.53h1.5v1.5h-1.5zM459.79 537.16h1.5v1.5h-1.5zM369.16 536.5h1.5v1.5h-1.5zM455.26 536.53h1.5v1.5h-1.5zM457.17 534.72h1.5v1.5h-1.5zM481.76 537.04h1.5v1.5h-1.5zM395.93 537.93h1.5v1.5h-1.5zM378.09 537.51h1.5v1.5h-1.5zM480.36 540.51h1.5v1.5h-1.5zM489.79 539.05h1.5v1.5h-1.5zM390.41 540.52h1.5v1.5h-1.5zM393.66 538.58h1.5v1.5h-1.5zM477.36 538.17h1.5v1.5h-1.5zM485.4 541.86h1.5v1.5h-1.5zM415.68 538.7h1.5v1.5h-1.5zM462.17 537.63h1.5v1.5h-1.5zM378.63 539.1h1.5v1.5h-1.5zM491.38 538.54h1.5v1.5h-1.5zM400.25 540.44h1.5v1.5h-1.5zM433.81 539.62h1.5v1.5h-1.5zM477.91 539.48h1.5v1.5h-1.5zM438.96 536.57h1.5v1.5h-1.5zM494.62 537.4h1.5v1.5h-1.5zM504.41 536.08h1.5v1.5h-1.5zM482.1 538.36h1.5v1.5h-1.5zM440.71 539.52h1.5v1.5h-1.5zM380.96 537.03h1.5v1.5h-1.5zM397.01 540.54h1.5v1.5h-1.5zM476.02 537.8h1.5v1.5h-1.5zM436.59 539.69h1.5v1.5h-1.5zM420.12 536.89h1.5v1.5h-1.5zM486.1 536.17h1.5v1.5h-1.5zM480.05 538.38h1.5v1.5h-1.5zM391.12 537.65h1.5v1.5h-1.5zM472.42 539.53h1.5v1.5h-1.5zM451.42 540.65h1.5v1.5h-1.5zM472.75 540.33h1.5v1.5h-1.5zM449.22 534.56h1.5v1.5h-1.5zM474.09 538.12h1.5v1.5h-1.5zM452.25 541.61h1.5v1.5h-1.5zM364.86 539.4h1.5v1.5h-1.5zM419.25 536.9h1.5v1.5h-1.5zM494.85 534.55h1.5v1.5h-1.5zM397.74 537.72h1.5v1.5h-1.5zM499.31 538.93h1.5v1.5h-1.5zM432.28 539.36h1.5v1.5h-1.5zM472.01 537.4h1.5v1.5h-1.5zM400.84 536.63h1.5v1.5h-1.5zM443.75 537.81h1.5v1.5h-1.5zM394.47 536.24h1.5v1.5h-1.5zM425.97 537.97h1.5v1.5h-1.5zM385.76 537.76h1.5v1.5h-1.5zM460.32 535.48h1.5v1.5h-1.5zM435.44 540.16h1.5v1.5h-1.5zM427.57 536.94h1.5v1.5h-1.5zM416 535.3h1.5v1.5h-1.5zM379.98 540.06h1.5v1.5h-1.5zM401.01 537.52h1.5v1.5h-1.5zM454.04 539.95h1.5v1.5h-1.5zM485.05 539.4h1.5v1.5h-1.5zM475.26 536.54h1.5v1.5h-1.5zM398.94 536.16h1.5v1.5h-1.5zM436.76 535.85h1.5v1.5h-1.5zM498.65 539.88h1.5v1.5h-1.5zM404.73 537.81h1.5v1.5h-1.5zM481.16 536.35h1.5v1.5h-1.5zM497.34 538.92h1.5v1.5h-1.5zM385.97 537.51h1.5v1.5h-1.5zM416.87 540.02h1.5v1.5h-1.5zM367.29 537.52h1.5v1.5h-1.5zM430.91 538.12h1.5v1.5h-1.5zM455.4 539.56h1.5v1.5h-1.5zM365.26 536.44h1.5v1.5h-1.5zM444.42 537.65h1.5v1.5h-1.5zM470.48 539.03h1.5v1.5h-1.5zM428.98 535.81h1.5v1.5h-1.5zM463.57 537.33h1.5v1.5h-1.5zM373.06 537.3h1.5v1.5h-1.5zM411.3 539.92h1.5v1.5h-1.5zM425.15 537.09h1.5v1.5h-1.5zM364.51 538.32h1.5v1.5h-1.5zM416.52 539.18h1.5v1.5h-1.5zM490.85 538.15h1.5v1.5h-1.5zM502.01 540.94h1.5v1.5h-1.5zM417.48 537.32h1.5v1.5h-1.5zM383.31 537.31h1.5v1.5h-1.5zM385.53 536.79h1.5v1.5h-1.5zM494.84 540.5h1.5v1.5h-1.5zM391.92 538.1h1.5v1.5h-1.5zM463.72 538.56h1.5v1.5h-1.5zM382.65 539.49h1.5v1.5h-1.5zM394.42 538.36h1.5v1.5h-1.5zM396.45 540.94h1.5v1.5h-1.5zM421.96 538.94h1.5v1.5h-1.5zM362.94 538.41h1.5v1.5h-1.5zM369.26 540.16h1.5v1.5h-1.5zM405.92 536.47h1.5v1.5h-1.5zM423.18 539.2h1.5v1.5h-1.5zM382.66 538.52h1.5v1.5h-1.5zM409.44 537.2h1.5v1.5h-1.5zM435.04 537.31h1.5v1.5h-1.5zM433.15 538.54h1.5v1.5h-1.5zM392.53 536.12h1.5v1.5h-1.5zM461.05 537.95h1.5v1.5h-1.5zM387.92 538.92h1.5v1.5h-1.5zM429.57 538.95h1.5v1.5h-1.5zM394.48 536.96h1.5v1.5h-1.5zM396.01 540.11h1.5v1.5h-1.5zM422.82 537.32h1.5v1.5h-1.5zM485.32 537.79h1.5v1.5h-1.5zM369.1 536.85h1.5v1.5h-1.5zM493.88 541.7h1.5v1.5h-1.5zM396.09 534.95h1.5v1.5h-1.5zM401.3 537.29h1.5v1.5h-1.5zM496.25 544.34h1.5v1.5h-1.5zM430.98 539.5h1.5v1.5h-1.5zM413.92 534.33h1.5v1.5h-1.5zM435.38 535.23h1.5v1.5h-1.5zM390.23 535.64h1.5v1.5h-1.5zM493.03 539.09h1.5v1.5h-1.5zM425.38 534.83h1.5v1.5h-1.5zM460.91 534.71h1.5v1.5h-1.5zM487.97 537.71h1.5v1.5h-1.5zM414.64 534.62h1.5v1.5h-1.5zM396.53 536.99h1.5v1.5h-1.5zM398.78 538.1h1.5v1.5h-1.5zM377.72 537.94h1.5v1.5h-1.5zM446.56 537.72h1.5v1.5h-1.5zM445.74 538.79h1.5v1.5h-1.5zM423.62 537.36h1.5v1.5h-1.5zM478.16 539.28h1.5v1.5h-1.5zM463.99 538.35h1.5v1.5h-1.5zM457.85 539.68h1.5v1.5h-1.5zM493.08 538.1h1.5v1.5h-1.5zM389.23 539.02h1.5v1.5h-1.5zM464.65 537.25h1.5v1.5h-1.5zM415.93 537.57h1.5v1.5h-1.5zM402.11 536.98h1.5v1.5h-1.5zM401.62 538.14h1.5v1.5h-1.5zM452.15 537.45h1.5v1.5h-1.5zM470.84 539.59h1.5v1.5h-1.5zM455.49 537.76h1.5v1.5h-1.5zM367.07 537.7h1.5v1.5h-1.5zM388.66 536.5h1.5v1.5h-1.5zM403.3 535.83h1.5v1.5h-1.5zM492.55 535.85h1.5v1.5h-1.5zM486.77 539.9h1.5v1.5h-1.5zM494.49 539.54h1.5v1.5h-1.5zM458.22 537.76h1.5v1.5h-1.5zM379 539.65h1.5v1.5h-1.5zM406.29 537.62h1.5v1.5h-1.5zM502.27 536.02h1.5v1.5h-1.5zM371.59 540.98h1.5v1.5h-1.5zM371.26 538.36h1.5v1.5h-1.5zM425.96 541.91h1.5v1.5h-1.5zM431.82 537.83h1.5v1.5h-1.5zM427.08 538.65h1.5v1.5h-1.5zM500.81 539.83h1.5v1.5h-1.5zM481.17 539.33h1.5v1.5h-1.5zM371.56 540.84h1.5v1.5h-1.5zM463.87 539.72h1.5v1.5h-1.5zM369.46 538.47h1.5v1.5h-1.5zM373.53 537h1.5v1.5h-1.5zM474.97 539.22h1.5v1.5h-1.5zM386.62 540.72h1.5v1.5h-1.5zM383.63 535.79h1.5v1.5h-1.5zM483.04 538.38h1.5v1.5h-1.5zM412.84 537.07h1.5v1.5h-1.5zM409.47 537.78h1.5v1.5h-1.5zM454.86 537.15h1.5v1.5h-1.5zM459.89 537.36h1.5v1.5h-1.5zM374.98 537.44h1.5v1.5h-1.5zM455.68 539.21h1.5v1.5h-1.5zM386.07 536.86h1.5v1.5h-1.5zM434.52 538.14h1.5v1.5h-1.5zM365.91 538.49h1.5v1.5h-1.5zM446.2 539.25h1.5v1.5h-1.5zM429.24 536.97h1.5v1.5h-1.5zM500.12 534.58h1.5v1.5h-1.5zM387.53 535.04h1.5v1.5h-1.5zM383.17 535.74h1.5v1.5h-1.5zM379.12 539.45h1.5v1.5h-1.5zM421.47 539.39h1.5v1.5h-1.5zM495.97 536.43h1.5v1.5h-1.5zM416.84 537.22h1.5v1.5h-1.5zM362.98 537.57h1.5v1.5h-1.5zM460.08 534.8h1.5v1.5h-1.5zM420.85 538.46h1.5v1.5h-1.5zM446.04 544.78h1.5v1.5h-1.5zM438.56 537.61h1.5v1.5h-1.5zM423.62 540.05h1.5v1.5h-1.5zM489.3 536.86h1.5v1.5h-1.5zM498.11 538.52h1.5v1.5h-1.5zM430.91 536.1h1.5v1.5h-1.5zM364.29 538.66h1.5v1.5h-1.5zM433.53 537.94h1.5v1.5h-1.5zM408.48 538.75h1.5v1.5h-1.5zM377.04 538.59h1.5v1.5h-1.5zM463.47 540.45h1.5v1.5h-1.5zM433.24 540.44h1.5v1.5h-1.5zM481.7 536.35h1.5v1.5h-1.5zM394.24 538.23h1.5v1.5h-1.5zM494.21 535.96h1.5v1.5h-1.5zM491.72 534.88h1.5v1.5h-1.5zM386.09 537.26h1.5v1.5h-1.5zM364.42 539.44h1.5v1.5h-1.5zM423.11 537.79h1.5v1.5h-1.5zM495.17 539.08h1.5v1.5h-1.5zM428.31 536.95h1.5v1.5h-1.5zM446.34 535.9h1.5v1.5h-1.5zM406.47 537.03h1.5v1.5h-1.5zM365.03 535.62h1.5v1.5h-1.5zM483.1 533.72h1.5v1.5h-1.5zM496.77 535.68h1.5v1.5h-1.5zM450.31 536.97h1.5v1.5h-1.5zM490.41 539.44h1.5v1.5h-1.5zM459.76 537.11h1.5v1.5h-1.5zM453.19 540.96h1.5v1.5h-1.5zM417.48 538.05h1.5v1.5h-1.5zM378.72 537.94h1.5v1.5h-1.5zM427.83 537.87h1.5v1.5h-1.5zM504.82 536.58h1.5v1.5h-1.5zM380.1 536.36h1.5v1.5h-1.5zM444.09 538.06h1.5v1.5h-1.5zM408.71 539.24h1.5v1.5h-1.5zM390.95 535.67h1.5v1.5h-1.5zM382.47 540.19h1.5v1.5h-1.5zM436.85 537.64h1.5v1.5h-1.5zM380.1 539.34h1.5v1.5h-1.5zM416.33 538.26h1.5v1.5h-1.5zM468.52 539.88h1.5v1.5h-1.5zM367.75 539.57h1.5v1.5h-1.5zM402.65 537.3h1.5v1.5h-1.5zM392.24 540.4h1.5v1.5h-1.5zM419.21 536.17h1.5v1.5h-1.5zM495.78 537.58h1.5v1.5h-1.5zM502.88 537.13h1.5v1.5h-1.5zM420.67 537.97h1.5v1.5h-1.5zM435.49 538.81h1.5v1.5h-1.5zM427.39 536.83h1.5v1.5h-1.5zM392.49 537.45h1.5v1.5h-1.5zM434.87 539.16h1.5v1.5h-1.5zM426.1 540.02h1.5v1.5h-1.5zM388.8 536.95h1.5v1.5h-1.5zM407.96 537.82h1.5v1.5h-1.5zM496.3 537.86h1.5v1.5h-1.5zM436.12 538.56h1.5v1.5h-1.5zM378.76 536.83h1.5v1.5h-1.5zM467.09 536.97h1.5v1.5h-1.5zM371.2 535.59h1.5v1.5h-1.5zM441.67 537.74h1.5v1.5h-1.5zM411.36 536.29h1.5v1.5h-1.5zM394.83 539.56h1.5v1.5h-1.5zM430.61 538.25h1.5v1.5h-1.5zM502.99 534.73h1.5v1.5h-1.5zM462.39 537.86h1.5v1.5h-1.5zM421.98 541.1h1.5v1.5h-1.5zM378.92 537.35h1.5v1.5h-1.5zM384.01 535h1.5v1.5h-1.5zM453.12 541.44h1.5v1.5h-1.5zM452.22 535.3h1.5v1.5h-1.5zM442.44 536.6h1.5v1.5h-1.5zM448 540.43h1.5v1.5h-1.5zM472.93 534.32h1.5v1.5h-1.5zM448.19 537.04h1.5v1.5h-1.5zM406.53 536.89h1.5v1.5h-1.5zM500.52 537.67h1.5v1.5h-1.5zM489.96 539.04h1.5v1.5h-1.5zM408.21 540.48h1.5v1.5h-1.5zM450.32 537.81h1.5v1.5h-1.5zM432.63 539.01h1.5v1.5h-1.5zM407.29 534.84h1.5v1.5h-1.5zM459.09 539.34h1.5v1.5h-1.5zM480.6 538.19h1.5v1.5h-1.5zM497.94 538.6h1.5v1.5h-1.5zM482.23 541.57h1.5v1.5h-1.5zM365.2 540.37h1.5v1.5h-1.5zM475.36 540.65h1.5v1.5h-1.5zM433.21 536.09h1.5v1.5h-1.5zM384.96 535.91h1.5v1.5h-1.5zM389 537.55h1.5v1.5h-1.5zM373.57 537.62h1.5v1.5h-1.5zM436.82 537.2h1.5v1.5h-1.5zM488.03 542.01h1.5v1.5h-1.5zM499.82 536.37h1.5v1.5h-1.5zM459.44 541.02h1.5v1.5h-1.5zM367.52 537.64h1.5v1.5h-1.5zM377.3 541.24h1.5v1.5h-1.5zM408.75 536.86h1.5v1.5h-1.5zM363.76 537.57h1.5v1.5h-1.5zM493.36 538.63h1.5v1.5h-1.5zM504.23 537.43h1.5v1.5h-1.5zM430.15 537.47h1.5v1.5h-1.5zM441.92 536.42h1.5v1.5h-1.5zM363.92 538.6h1.5v1.5h-1.5zM388.81 541.16h1.5v1.5h-1.5zM504.2 539.21h1.5v1.5h-1.5zM480.7 539.24h1.5v1.5h-1.5zM484.13 536.64h1.5v1.5h-1.5zM404.89 538.39h1.5v1.5h-1.5zM465.88 539.6h1.5v1.5h-1.5zM502.43 536.89h1.5v1.5h-1.5zM445.78 539.88h1.5v1.5h-1.5zM493.07 540.25h1.5v1.5h-1.5zM425.88 537.63h1.5v1.5h-1.5zM408.47 540.19h1.5v1.5h-1.5zM378.79 538.3h1.5v1.5h-1.5zM488.31 540.05h1.5v1.5h-1.5zM431.61 539.82h1.5v1.5h-1.5zM404.66 535.95h1.5v1.5h-1.5zM371.67 539.27h1.5v1.5h-1.5zM449.44 534.11h1.5v1.5h-1.5zM489.32 536.34h1.5v1.5h-1.5zM436.51 535.3h1.5v1.5h-1.5zM415.4 539h1.5v1.5h-1.5zM466.89 536.66h1.5v1.5h-1.5zM412.17 537.02h1.5v1.5h-1.5zM425.84 537.01h1.5v1.5h-1.5zM451.51 539.24h1.5v1.5h-1.5zM390.04 535.5h1.5v1.5h-1.5zM456.84 537.62h1.5v1.5h-1.5zM363.74 535.5h1.5v1.5h-1.5zM494.41 537.8h1.5v1.5h-1.5zM455.39 538.43h1.5v1.5h-1.5zM488.48 537.19h1.5v1.5h-1.5zM426.92 532.11h1.5v1.5h-1.5zM379.44 536.48h1.5v1.5h-1.5zM447.07 539.11h1.5v1.5h-1.5zM437.7 544.85h1.5v1.5h-1.5zM414.26 538.14h1.5v1.5h-1.5zM501.49 539.17h1.5v1.5h-1.5zM413.53 542.09h1.5v1.5h-1.5zM375.79 537.54h1.5v1.5h-1.5zM440.88 536.26h1.5v1.5h-1.5zM363.44 538.89h1.5v1.5h-1.5zM396.29 538.79h1.5v1.5h-1.5zM409.82 542.03h1.5v1.5h-1.5zM464.07 536.55h1.5v1.5h-1.5zM399.74 537.33h1.5v1.5h-1.5zM376.96 536.7h1.5v1.5h-1.5zM363.23 541.38h1.5v1.5h-1.5zM434.64 537.7h1.5v1.5h-1.5zM468.22 536.94h1.5v1.5h-1.5zM487.53 539.05h1.5v1.5h-1.5zM391.37 538.76h1.5v1.5h-1.5zM407.02 536.81h1.5v1.5h-1.5zM469.62 539.5h1.5v1.5h-1.5zM374.74 537.6h1.5v1.5h-1.5zM388.44 539.19h1.5v1.5h-1.5zM501.64 537.65h1.5v1.5h-1.5zM391.31 536.1h1.5v1.5h-1.5zM410.62 538.37h1.5v1.5h-1.5zM417.35 537.35h1.5v1.5h-1.5zM366.97 536.08h1.5v1.5h-1.5zM389.67 536.32h1.5v1.5h-1.5zM482.5 541.64h1.5v1.5h-1.5zM390.77 538.48h1.5v1.5h-1.5zM447.35 540.13h1.5v1.5h-1.5zM403.05 535.07h1.5v1.5h-1.5zM435.41 541.03h1.5v1.5h-1.5zM379.87 538.85h1.5v1.5h-1.5zM385.77 536.59h1.5v1.5h-1.5zM492.17 537.8h1.5v1.5h-1.5zM465.81 537.12h1.5v1.5h-1.5zM429.13 536.79h1.5v1.5h-1.5zM422.3 541.56h1.5v1.5h-1.5zM467.19 533.58h1.5v1.5h-1.5zM405.77 538.53h1.5v1.5h-1.5zM471.29 540.35h1.5v1.5h-1.5zM492.73 537.96h1.5v1.5h-1.5zM431.01 538.76h1.5v1.5h-1.5zM486.28 534.97h1.5v1.5h-1.5zM465.9 537.37h1.5v1.5h-1.5zM425.28 538.88h1.5v1.5h-1.5zM502.98 535.79h1.5v1.5h-1.5zM471.96 537.72h1.5v1.5h-1.5zM445.12 539.04h1.5v1.5h-1.5zM387.31 539.39h1.5v1.5h-1.5zM441.03 538.05h1.5v1.5h-1.5zM410.11 537.65h1.5v1.5h-1.5zM482.04 542.65h1.5v1.5h-1.5zM433.34 540.01h1.5v1.5h-1.5zM445.18 538.91h1.5v1.5h-1.5zM371.42 543.01h1.5v1.5h-1.5zM391.05 539.62h1.5v1.5h-1.5zM452.69 536.21h1.5v1.5h-1.5zM387.74 538.62h1.5v1.5h-1.5zM371.29 540.49h1.5v1.5h-1.5zM419.22 537.72h1.5v1.5h-1.5zM382.81 537.83h1.5v1.5h-1.5zM416.14 537.32h1.5v1.5h-1.5zM462.2 538.63h1.5v1.5h-1.5zM481.39 537.64h1.5v1.5h-1.5zM437.68 541.74h1.5v1.5h-1.5zM383.97 536.7h1.5v1.5h-1.5zM423.58 533.8h1.5v1.5h-1.5zM365.01 539.21h1.5v1.5h-1.5zM439.59 536.73h1.5v1.5h-1.5zM483.62 538.37h1.5v1.5h-1.5zM460.46 539.24h1.5v1.5h-1.5zM483.48 538.53h1.5v1.5h-1.5zM493.22 538.71h1.5v1.5h-1.5zM456.26 537.88h1.5v1.5h-1.5zM447.33 539.02h1.5v1.5h-1.5zM443.5 544.11h1.5v1.5h-1.5zM397.98 537.75h1.5v1.5h-1.5zM393.25 536.04h1.5v1.5h-1.5zM442.13 540.5h1.5v1.5h-1.5zM465.2 536.05h1.5v1.5h-1.5zM480.61 538.74h1.5v1.5h-1.5zM376.72 538.56h1.5v1.5h-1.5zM471.23 537.53h1.5v1.5h-1.5zM496.02 536.44h1.5v1.5h-1.5zM394.71 537.94h1.5v1.5h-1.5zM481.26 541.24h1.5v1.5h-1.5zM408.38 537.2h1.5v1.5h-1.5zM437.97 540.35h1.5v1.5h-1.5zM482.76 538.29h1.5v1.5h-1.5zM395.59 537.33h1.5v1.5h-1.5zM477.41 539.98h1.5v1.5h-1.5zM394.59 537.33h1.5v1.5h-1.5zM405.24 538.49h1.5v1.5h-1.5zM463.89 536.5h1.5v1.5h-1.5zM365.34 539.99h1.5v1.5h-1.5zM483.64 536.12h1.5v1.5h-1.5zM504.1 537.03h1.5v1.5h-1.5zM470.13 538.72h1.5v1.5h-1.5zM457.05 540.76h1.5v1.5h-1.5zM409.18 538.43h1.5v1.5h-1.5zM454.31 538.83h1.5v1.5h-1.5zM372.96 541.07h1.5v1.5h-1.5zM488.81 543.97h1.5v1.5h-1.5zM467.91 536.13h1.5v1.5h-1.5zM437.77 542.8h1.5v1.5h-1.5zM424.41 536.43h1.5v1.5h-1.5zM438.93 539.71h1.5v1.5h-1.5zM450.65 534.15h1.5v1.5h-1.5zM438.45 534.73h1.5v1.5h-1.5zM458.23 537.35h1.5v1.5h-1.5zM384.78 539.67h1.5v1.5h-1.5zM369.7 536.56h1.5v1.5h-1.5zM419.43 537.05h1.5v1.5h-1.5zM382.28 539.2h1.5v1.5h-1.5zM436.16 538.16h1.5v1.5h-1.5zM385.33 535.9h1.5v1.5h-1.5zM441.91 536.05h1.5v1.5h-1.5zM413.24 535.81h1.5v1.5h-1.5zM445.38 540.03h1.5v1.5h-1.5zM483.06 540.04h1.5v1.5h-1.5zM478.7 536.95h1.5v1.5h-1.5zM404.51 537.39h1.5v1.5h-1.5zM401.21 537.81h1.5v1.5h-1.5zM378.12 538.04h1.5v1.5h-1.5zM475.77 539.11h1.5v1.5h-1.5zM502.94 538.74h1.5v1.5h-1.5zM476.32 540.3h1.5v1.5h-1.5zM376.13 535.91h1.5v1.5h-1.5zM464.26 539.63h1.5v1.5h-1.5zM428.47 537.59h1.5v1.5h-1.5zM441.44 541.56h1.5v1.5h-1.5zM436.87 539.64h1.5v1.5h-1.5zM433.92 535.4h1.5v1.5h-1.5zM469.73 539.41h1.5v1.5h-1.5zM403.27 537.31h1.5v1.5h-1.5zM449.19 537.27h1.5v1.5h-1.5zM372.83 538.95h1.5v1.5h-1.5zM458.96 538.83h1.5v1.5h-1.5zM372.06 538.56h1.5v1.5h-1.5zM364.63 538.67h1.5v1.5h-1.5zM466.47 539.23h1.5v1.5h-1.5zM368.99 538.24h1.5v1.5h-1.5zM408.18 538.51h1.5v1.5h-1.5zM452.42 537.33h1.5v1.5h-1.5zM455.5 540.02h1.5v1.5h-1.5zM400.25 543.54h1.5v1.5h-1.5zM456.48 537.25h1.5v1.5h-1.5zM457.61 537.86h1.5v1.5h-1.5zM445.57 538.44h1.5v1.5h-1.5zM440.16 537.53h1.5v1.5h-1.5zM493.16 538.27h1.5v1.5h-1.5zM447.24 540.01h1.5v1.5h-1.5zM371.2 537.15h1.5v1.5h-1.5zM384.02 538.45h1.5v1.5h-1.5zM492.14 533.94h1.5v1.5h-1.5zM471.77 536.37h1.5v1.5h-1.5zM402.84 538.6h1.5v1.5h-1.5zM394.84 536.94h1.5v1.5h-1.5zM447.57 536.89h1.5v1.5h-1.5zM465.69 537.34h1.5v1.5h-1.5zM377.55 535.94h1.5v1.5h-1.5zM428.51 537h1.5v1.5h-1.5zM389.05 536.49h1.5v1.5h-1.5zM433.44 537.17h1.5v1.5h-1.5zM428.89 540.2h1.5v1.5h-1.5zM369.93 538.97h1.5v1.5h-1.5zM389.14 540.55h1.5v1.5h-1.5zM405.1 541.88h1.5v1.5h-1.5zM372.39 538.66h1.5v1.5h-1.5zM489.69 535.82h1.5v1.5h-1.5zM454.08 539.21h1.5v1.5h-1.5zM382.13 536.36h1.5v1.5h-1.5zM475.94 539.28h1.5v1.5h-1.5zM459.56 540.57h1.5v1.5h-1.5zM455.28 537.7h1.5v1.5h-1.5zM421.02 537.86h1.5v1.5h-1.5zM444.27 534.43h1.5v1.5h-1.5zM428.65 534.52h1.5v1.5h-1.5zM479.41 538.57h1.5v1.5h-1.5zM404.86 540.94h1.5v1.5h-1.5zM476.75 540.03h1.5v1.5h-1.5zM485.92 537.03h1.5v1.5h-1.5zM419.92 540.66h1.5v1.5h-1.5zM431.54 535.05h1.5v1.5h-1.5zM500.63 537.79h1.5v1.5h-1.5zM493.29 539.12h1.5v1.5h-1.5zM437.41 539.6h1.5v1.5h-1.5zM377.7 535.73h1.5v1.5h-1.5zM486.56 535.7h1.5v1.5h-1.5zM389.45 539.36h1.5v1.5h-1.5zM459.24 540.27h1.5v1.5h-1.5zM434.04 539.99h1.5v1.5h-1.5zM385.26 537.79h1.5v1.5h-1.5zM415.5 537.2h1.5v1.5h-1.5zM469.87 538.8h1.5v1.5h-1.5zM442 537.1h1.5v1.5h-1.5zM441.03 537.11h1.5v1.5h-1.5zM457.39 539.09h1.5v1.5h-1.5zM459.54 539.55h1.5v1.5h-1.5zM444.23 537.77h1.5v1.5h-1.5zM455.32 534.66h1.5v1.5h-1.5zM391.13 537.91h1.5v1.5h-1.5zM502.35 535.68h1.5v1.5h-1.5zM483.44 537.46h1.5v1.5h-1.5zM490.38 536.01h1.5v1.5h-1.5zM405.08 539.68h1.5v1.5h-1.5zM431.45 537.04h1.5v1.5h-1.5zM500.65 541.64h1.5v1.5h-1.5zM385.91 537.15h1.5v1.5h-1.5zM477.29 538.47h1.5v1.5h-1.5zM439.16 537.58h1.5v1.5h-1.5zM432.7 537.4h1.5v1.5h-1.5zM364.64 541.4h1.5v1.5h-1.5zM457.89 539.73h1.5v1.5h-1.5zM490.59 535.08h1.5v1.5h-1.5zM447.96 538.37h1.5v1.5h-1.5zM368.98 541.98h1.5v1.5h-1.5zM405.1 536.79h1.5v1.5h-1.5zM452.77 541.46h1.5v1.5h-1.5zM473.77 535.48h1.5v1.5h-1.5zM473.27 535.94h1.5v1.5h-1.5zM364.06 540.23h1.5v1.5h-1.5zM425.69 538.61h1.5v1.5h-1.5zM463.06 536.12h1.5v1.5h-1.5zM450.22 538.38h1.5v1.5h-1.5zM462.55 539.6h1.5v1.5h-1.5zM451.86 537.45h1.5v1.5h-1.5zM398.65 537.34h1.5v1.5h-1.5zM469.76 537.57h1.5v1.5h-1.5zM407.15 536.54h1.5v1.5h-1.5zM421.27 541.53h1.5v1.5h-1.5zM363.44 540.94h1.5v1.5h-1.5zM411.71 538.05h1.5v1.5h-1.5zM460.72 538.57h1.5v1.5h-1.5zM478.91 535.54h1.5v1.5h-1.5zM459.4 539.16h1.5v1.5h-1.5zM390.04 537.61h1.5v1.5h-1.5zM385.33 537.9h1.5v1.5h-1.5zM375.07 536.89h1.5v1.5h-1.5zM469.3 539.12h1.5v1.5h-1.5zM371.81 540.74h1.5v1.5h-1.5zM502.69 538.03h1.5v1.5h-1.5zM393.75 538.26h1.5v1.5h-1.5zM398.57 539.27h1.5v1.5h-1.5zM477.98 541.29h1.5v1.5h-1.5zM453.24 538.95h1.5v1.5h-1.5zM363.23 539.11h1.5v1.5h-1.5zM405.62 539.24h1.5v1.5h-1.5zM497.05 540.3h1.5v1.5h-1.5zM429.59 535.17h1.5v1.5h-1.5zM395.75 538.91h1.5v1.5h-1.5zM407.75 538.83h1.5v1.5h-1.5zM404.36 538.27h1.5v1.5h-1.5zM483.59 540.41h1.5v1.5h-1.5zM465.94 542.08h1.5v1.5h-1.5zM475.67 538.9h1.5v1.5h-1.5zM499.33 537.28h1.5v1.5h-1.5zM366.61 537.16h1.5v1.5h-1.5zM463.96 540.58h1.5v1.5h-1.5zM406.16 538.68h1.5v1.5h-1.5zM486.03 540.32h1.5v1.5h-1.5zM465 540.14h1.5v1.5h-1.5zM498.23 537.77h1.5v1.5h-1.5zM405.18 537.63h1.5v1.5h-1.5zM423.53 540.34h1.5v1.5h-1.5zM370.02 540.07h1.5v1.5h-1.5zM445.7 536.51h1.5v1.5h-1.5zM466.57 541.19h1.5v1.5h-1.5zM386.06 538.68h1.5v1.5h-1.5zM421.91 537.58h1.5v1.5h-1.5zM461.1 539.29h1.5v1.5h-1.5zM476.15 535.81h1.5v1.5h-1.5zM459.71 537.7h1.5v1.5h-1.5zM415.54 539.6h1.5v1.5h-1.5zM447.23 540.03h1.5v1.5h-1.5zM501.83 536.83h1.5v1.5h-1.5zM467.05 540.32h1.5v1.5h-1.5zM458.31 538.04h1.5v1.5h-1.5zM436.82 536.82h1.5v1.5h-1.5zM468.18 539.59h1.5v1.5h-1.5zM390.45 534.28h1.5v1.5h-1.5zM365.03 538.8h1.5v1.5h-1.5zM480.81 536.77h1.5v1.5h-1.5zM418.86 539.98h1.5v1.5h-1.5zM373.83 539.01h1.5v1.5h-1.5zM402.95 537.26h1.5v1.5h-1.5zM461.66 537.52h1.5v1.5h-1.5zM364.09 539.77h1.5v1.5h-1.5zM416.03 538.74h1.5v1.5h-1.5zM383.62 540.29h1.5v1.5h-1.5zM377.25 536.48h1.5v1.5h-1.5zM377.55 537.86h1.5v1.5h-1.5zM370.73 537.97h1.5v1.5h-1.5zM404.43 538.78h1.5v1.5h-1.5zM460.52 535.19h1.5v1.5h-1.5zM452.76 540.96h1.5v1.5h-1.5zM392.51 539.43h1.5v1.5h-1.5zM483.57 537.56h1.5v1.5h-1.5zM430.53 538.21h1.5v1.5h-1.5zM391.16 539.56h1.5v1.5h-1.5zM497.86 538.67h1.5v1.5h-1.5zM445.1 536.63h1.5v1.5h-1.5zM491.9 535.3h1.5v1.5h-1.5zM436.93 536.33h1.5v1.5h-1.5zM463.73 536.73h1.5v1.5h-1.5zM384 537.41h1.5v1.5h-1.5zM500.74 539.37h1.5v1.5h-1.5zM445.42 538.29h1.5v1.5h-1.5zM503.29 541.25h1.5v1.5h-1.5zM502.44 539.64h1.5v1.5h-1.5zM498.18 536.16h1.5v1.5h-1.5zM475.85 536.06h1.5v1.5h-1.5zM479.23 538.87h1.5v1.5h-1.5zM499.31 535.69h1.5v1.5h-1.5zM450.62 538.33h1.5v1.5h-1.5zM383.04 535.22h1.5v1.5h-1.5zM407.6 540.88h1.5v1.5h-1.5zM379.36 538.72h1.5v1.5h-1.5zM401.83 537.23h1.5v1.5h-1.5zM394.84 533.64h1.5v1.5h-1.5zM484.55 540.78h1.5v1.5h-1.5zM380.81 536.68h1.5v1.5h-1.5zM393.51 537.31h1.5v1.5h-1.5zM490 541.83h1.5v1.5h-1.5zM504.82 535.24h1.5v1.5h-1.5zM497.15 540.7h1.5v1.5h-1.5zM414.02 538.33h1.5v1.5h-1.5zM430.03 536.43h1.5v1.5h-1.5zM384.53 537.08h1.5v1.5h-1.5zM423.48 540.91h1.5v1.5h-1.5zM402.96 537.42h1.5v1.5h-1.5zM391.41 536.88h1.5v1.5h-1.5zM433 537.49h1.5v1.5h-1.5zM425.12 536.23h1.5v1.5h-1.5zM380.74 534.57h1.5v1.5h-1.5zM447.95 535.42h1.5v1.5h-1.5zM500.21 538.46h1.5v1.5h-1.5zM367.03 539.94h1.5v1.5h-1.5zM393.35 537.49h1.5v1.5h-1.5zM442.75 534.93h1.5v1.5h-1.5zM367.39 540.44h1.5v1.5h-1.5zM472.62 538.34h1.5v1.5h-1.5zM424.55 538.89h1.5v1.5h-1.5zM449.3 539.19h1.5v1.5h-1.5zM383.96 541.89h1.5v1.5h-1.5zM378.13 536.58h1.5v1.5h-1.5zM420.88 538.13h1.5v1.5h-1.5zM365.03 540.9h1.5v1.5h-1.5zM402.97 539.14h1.5v1.5h-1.5zM380.88 537.82h1.5v1.5h-1.5zM406.92 534.11h1.5v1.5h-1.5zM421.42 535.84h1.5v1.5h-1.5zM415.44 537.54h1.5v1.5h-1.5zM397.85 538.43h1.5v1.5h-1.5zM412.25 536.71h1.5v1.5h-1.5zM368.62 535.49h1.5v1.5h-1.5zM479.49 538.43h1.5v1.5h-1.5zM461.05 537h1.5v1.5h-1.5zM458.55 540.11h1.5v1.5h-1.5zM428.88 535.06h1.5v1.5h-1.5zM496.95 536.57h1.5v1.5h-1.5zM413.14 536.05h1.5v1.5h-1.5zM382.32 538.87h1.5v1.5h-1.5zM457.47 538.58h1.5v1.5h-1.5zM391.84 537.55h1.5v1.5h-1.5zM432.16 540.44h1.5v1.5h-1.5zM503.94 539.4h1.5v1.5h-1.5zM492.15 537.14h1.5v1.5h-1.5zM496.54 538.59h1.5v1.5h-1.5zM375.08 538.81h1.5v1.5h-1.5zM369.48 536.27h1.5v1.5h-1.5zM368.88 540.57h1.5v1.5h-1.5zM498.87 535.58h1.5v1.5h-1.5zM405.8 539.93h1.5v1.5h-1.5zM504.33 537.1h1.5v1.5h-1.5zM441.77 538.35h1.5v1.5h-1.5zM500.9 541.61h1.5v1.5h-1.5zM479.87 537.98h1.5v1.5h-1.5zM457.05 535.67h1.5v1.5h-1.5zM501.99 541.65h1.5v1.5h-1.5zM432.8 536.29h1.5v1.5h-1.5zM399.46 536.4h1.5v1.5h-1.5zM426.42 537.22h1.5v1.5h-1.5zM435.7 532.91h1.5v1.5h-1.5zM472.33 541.49h1.5v1.5h-1.5zM461.24 539.12h1.5v1.5h-1.5zM476.37 540.11h1.5v1.5h-1.5zM496.93 536.26h1.5v1.5h-1.5zM485.66 539.37h1.5v1.5h-1.5zM457.45 540.23h1.5v1.5h-1.5zM372.52 541.74h1.5v1.5h-1.5zM395.47 539.88h1.5v1.5h-1.5zM446.82 537.48h1.5v1.5h-1.5zM438.26 539.39h1.5v1.5h-1.5zM439.8 540.28h1.5v1.5h-1.5zM399.56 540.16h1.5v1.5h-1.5zM420.03 537.34h1.5v1.5h-1.5zM415.05 534.14h1.5v1.5h-1.5zM409.53 537.99h1.5v1.5h-1.5zM362.8 538.64h1.5v1.5h-1.5zM451.32 536.48h1.5v1.5h-1.5zM414.06 539.15h1.5v1.5h-1.5zM439.9 542.01h1.5v1.5h-1.5zM399.24 538.81h1.5v1.5h-1.5zM393.3 536.07h1.5v1.5h-1.5zM420.42 539.55h1.5v1.5h-1.5zM374.59 536.63h1.5v1.5h-1.5zM482.99 538.92h1.5v1.5h-1.5zM475.06 540h1.5v1.5h-1.5zM402.22 539.81h1.5v1.5h-1.5zM503.4 534.76h1.5v1.5h-1.5zM457.77 538.76h1.5v1.5h-1.5zM380.71 539.31h1.5v1.5h-1.5zM447.08 541.12h1.5v1.5h-1.5zM473.01 533.16h1.5v1.5h-1.5zM426.39 538.78h1.5v1.5h-1.5zM428.17 540.16h1.5v1.5h-1.5zM499.25 537.01h1.5v1.5h-1.5zM416.89 540.99h1.5v1.5h-1.5zM366.95 539.1h1.5v1.5h-1.5zM424.19 538.17h1.5v1.5h-1.5zM462.25 538.33h1.5v1.5h-1.5zM382.02 541.1h1.5v1.5h-1.5zM479.71 534.81h1.5v1.5h-1.5zM462.25 537.05h1.5v1.5h-1.5zM410.13 536.75h1.5v1.5h-1.5zM373.81 538.17h1.5v1.5h-1.5zM435.39 537.89h1.5v1.5h-1.5zM439.98 539.76h1.5v1.5h-1.5zM436.9 537.74h1.5v1.5h-1.5zM491.16 537.71h1.5v1.5h-1.5zM468.68 539.44h1.5v1.5h-1.5zM485.13 539.62h1.5v1.5h-1.5zM374.54 539.64h1.5v1.5h-1.5zM436.82 538.42h1.5v1.5h-1.5zM436.61 539.31h1.5v1.5h-1.5zM430.93 538.34h1.5v1.5h-1.5zM371.49 538.38h1.5v1.5h-1.5zM462.44 537.36h1.5v1.5h-1.5zM493.86 539.58h1.5v1.5h-1.5zM464.11 539.46h1.5v1.5h-1.5zM453.74 538.5h1.5v1.5h-1.5zM486.62 534.82h1.5v1.5h-1.5zM499.17 532.56h1.5v1.5h-1.5zM374.99 539.75h1.5v1.5h-1.5zM434.28 540.22h1.5v1.5h-1.5zM373.58 536.78h1.5v1.5h-1.5zM429.53 536.78h1.5v1.5h-1.5zM461.78 537.15h1.5v1.5h-1.5zM486.3 538.74h1.5v1.5h-1.5zM391.59 535.95h1.5v1.5h-1.5zM376.48 536.67h1.5v1.5h-1.5zM444.22 540.89h1.5v1.5h-1.5zM400.78 539.52h1.5v1.5h-1.5zM379.99 535.59h1.5v1.5h-1.5zM435.66 535.8h1.5v1.5h-1.5zM419.47 540.95h1.5v1.5h-1.5zM362.25 540.15h1.5v1.5h-1.5zM368.2 538.64h1.5v1.5h-1.5zM414.12 538.12h1.5v1.5h-1.5zM398.03 542.42h1.5v1.5h-1.5zM417.34 537.81h1.5v1.5h-1.5zM475.49 539.99h1.5v1.5h-1.5zM461 538.18h1.5v1.5h-1.5zM425.23 536.25h1.5v1.5h-1.5zM365.43 539.92h1.5v1.5h-1.5zM498.3 539.8h1.5v1.5h-1.5zM383.06 538.21h1.5v1.5h-1.5zM486.3 539.43h1.5v1.5h-1.5zM390.2 537.68h1.5v1.5h-1.5zM426.61 540.94h1.5v1.5h-1.5zM403.35 536.64h1.5v1.5h-1.5zM402.68 536.29h1.5v1.5h-1.5zM497.7 535.44h1.5v1.5h-1.5zM390.14 540.16h1.5v1.5h-1.5zM464.79 537.53h1.5v1.5h-1.5zM427.96 538.59h1.5v1.5h-1.5zM503.84 535.47h1.5v1.5h-1.5zM498.2 540h1.5v1.5h-1.5zM442.62 536.15h1.5v1.5h-1.5zM373.74 534.64h1.5v1.5h-1.5zM388.79 538.42h1.5v1.5h-1.5zM374.82 535.22h1.5v1.5h-1.5zM436.79 538.83h1.5v1.5h-1.5zM461.02 536.28h1.5v1.5h-1.5zM486.68 537.9h1.5v1.5h-1.5zM388.01 538.14h1.5v1.5h-1.5zM460.19 541.61h1.5v1.5h-1.5zM422.14 539.46h1.5v1.5h-1.5zM496.84 537.82h1.5v1.5h-1.5zM504.66 538.61h1.5v1.5h-1.5zM460.41 538.01h1.5v1.5h-1.5zM479.2 538.93h1.5v1.5h-1.5zM496.72 539.31h1.5v1.5h-1.5zM393.8 536.93h1.5v1.5h-1.5zM392.67 537.1h1.5v1.5h-1.5zM378.11 536.37h1.5v1.5h-1.5zM486.54 539.35h1.5v1.5h-1.5zM472.68 539.39h1.5v1.5h-1.5zM362.34 535.02h1.5v1.5h-1.5zM466.42 534.29h1.5v1.5h-1.5zM374.76 537.18h1.5v1.5h-1.5zM479.22 538.56h1.5v1.5h-1.5zM424.74 540.58h1.5v1.5h-1.5zM419.05 538.37h1.5v1.5h-1.5zM413.84 535.23h1.5v1.5h-1.5zM399.66 538.82h1.5v1.5h-1.5zM421.93 539.76h1.5v1.5h-1.5zM406.7 537.1h1.5v1.5h-1.5zM490.53 540.15h1.5v1.5h-1.5zM404.42 541.52h1.5v1.5h-1.5zM470.61 540.22h1.5v1.5h-1.5zM491.71 538.54h1.5v1.5h-1.5zM419.21 538.88h1.5v1.5h-1.5zM374.4 539.3h1.5v1.5h-1.5zM441.18 538.8h1.5v1.5h-1.5zM496.66 538.22h1.5v1.5h-1.5zM389.02 538.82h1.5v1.5h-1.5zM362.43 536.11h1.5v1.5h-1.5zM491.55 537.67h1.5v1.5h-1.5zM374.64 536.52h1.5v1.5h-1.5zM469.11 533.09h1.5v1.5h-1.5zM411.51 536.74h1.5v1.5h-1.5zM384.3 538.78h1.5v1.5h-1.5zM487.75 539.99h1.5v1.5h-1.5zM460.27 537.89h1.5v1.5h-1.5zM378.3 536.46h1.5v1.5h-1.5zM437.49 541.09h1.5v1.5h-1.5zM430.91 538.85h1.5v1.5h-1.5zM494.74 540.1h1.5v1.5h-1.5zM503.46 541.09h1.5v1.5h-1.5zM460.98 541.23h1.5v1.5h-1.5zM389.17 538.92h1.5v1.5h-1.5zM383.82 540.12h1.5v1.5h-1.5zM500.18 535.52h1.5v1.5h-1.5zM455.6 537.94h1.5v1.5h-1.5zM402.91 534.72h1.5v1.5h-1.5zM486.57 535.44h1.5v1.5h-1.5zM404.33 540.28h1.5v1.5h-1.5zM473.96 538.79h1.5v1.5h-1.5zM375.23 535.57h1.5v1.5h-1.5zM499.7 538.48h1.5v1.5h-1.5zM380.61 538.27h1.5v1.5h-1.5zM416.49 537.71h1.5v1.5h-1.5zM422.21 541.05h1.5v1.5h-1.5zM435.01 539.54h1.5v1.5h-1.5zM459.69 536.67h1.5v1.5h-1.5zM493.31 539.2h1.5v1.5h-1.5zM473 536.74h1.5v1.5h-1.5zM496.69 537.85h1.5v1.5h-1.5zM407.95 540.93h1.5v1.5h-1.5zM369.44 535.9h1.5v1.5h-1.5zM403.36 534.46h1.5v1.5h-1.5zM464.92 538.2h1.5v1.5h-1.5zM501.87 537.53h1.5v1.5h-1.5zM448.2 539.51h1.5v1.5h-1.5zM380.02 541.95h1.5v1.5h-1.5zM451.18 537.33h1.5v1.5h-1.5zM431.6 537.73h1.5v1.5h-1.5zM446.86 536.95h1.5v1.5h-1.5zM404.74 539.34h1.5v1.5h-1.5zM378.58 540.6h1.5v1.5h-1.5zM370.18 541.05h1.5v1.5h-1.5zM364.83 540.18h1.5v1.5h-1.5zM404.87 537.65h1.5v1.5h-1.5zM457.72 539.08h1.5v1.5h-1.5zM478.19 537.87h1.5v1.5h-1.5zM394.06 540.68h1.5v1.5h-1.5zM373.95 538.37h1.5v1.5h-1.5zM421.58 539.25h1.5v1.5h-1.5zM447.03 537.07h1.5v1.5h-1.5zM429.37 535.76h1.5v1.5h-1.5zM382.42 542.31h1.5v1.5h-1.5zM487.74 538.47h1.5v1.5h-1.5zM482.42 541.86h1.5v1.5h-1.5zM409.5 536.43h1.5v1.5h-1.5zM421.53 536.38h1.5v1.5h-1.5zM365.65 538.51h1.5v1.5h-1.5zM494.19 539.28h1.5v1.5h-1.5zM495.9 534.26h1.5v1.5h-1.5zM433.1 541.35h1.5v1.5h-1.5zM468.23 536.89h1.5v1.5h-1.5zM454.7 539.27h1.5v1.5h-1.5zM427.08 539.42h1.5v1.5h-1.5zM377.54 537.85h1.5v1.5h-1.5zM475.36 538.23h1.5v1.5h-1.5zM401.99 537.11h1.5v1.5h-1.5zM464.22 540.5h1.5v1.5h-1.5zM464.2 539.3h1.5v1.5h-1.5zM471.35 535.31h1.5v1.5h-1.5zM412.34 538.7h1.5v1.5h-1.5zM493.98 537.15h1.5v1.5h-1.5zM383.97 538.86h1.5v1.5h-1.5zM424.83 539.81h1.5v1.5h-1.5zM436.07 539.46h1.5v1.5h-1.5zM450.78 533.36h1.5v1.5h-1.5zM433.02 539.35h1.5v1.5h-1.5zM461.57 536.08h1.5v1.5h-1.5zM461.54 535.34h1.5v1.5h-1.5zM488.46 538.99h1.5v1.5h-1.5zM479.3 540.16h1.5v1.5h-1.5zM440.91 541.28h1.5v1.5h-1.5zM447.6 541.08h1.5v1.5h-1.5zM398.3 540.96h1.5v1.5h-1.5zM437.56 537.62h1.5v1.5h-1.5zM473.7 537.88h1.5v1.5h-1.5zM408.59 534.91h1.5v1.5h-1.5zM375.22 538.26h1.5v1.5h-1.5zM470.07 537.28h1.5v1.5h-1.5zM366.18 535.36h1.5v1.5h-1.5zM368.19 537.42h1.5v1.5h-1.5zM375.91 540.26h1.5v1.5h-1.5zM382.2 537.63h1.5v1.5h-1.5zM476.75 538.92h1.5v1.5h-1.5zM390.92 534.35h1.5v1.5h-1.5zM406.1 540.72h1.5v1.5h-1.5zM437.43 540.07h1.5v1.5h-1.5zM475.9 538.02h1.5v1.5h-1.5zM412.05 538.45h1.5v1.5h-1.5zM447.64 538h1.5v1.5h-1.5zM434.58 537.94h1.5v1.5h-1.5zM429.98 537.06h1.5v1.5h-1.5zM485.5 535.49h1.5v1.5h-1.5zM439.61 540.17h1.5v1.5h-1.5zM396.35 534.33h1.5v1.5h-1.5zM399.65 532.96h1.5v1.5h-1.5zM473.38 538.51h1.5v1.5h-1.5zM385.93 534.47h1.5v1.5h-1.5zM403.67 536.18h1.5v1.5h-1.5zM453.25 540.79h1.5v1.5h-1.5zM459.58 539.41h1.5v1.5h-1.5zM436.54 541.74h1.5v1.5h-1.5zM484.95 535.22h1.5v1.5h-1.5zM364.52 538.75h1.5v1.5h-1.5zM439.5 534.53h1.5v1.5h-1.5zM378.51 538.04h1.5v1.5h-1.5zM402.5 537.18h1.5v1.5h-1.5zM427.68 538.39h1.5v1.5h-1.5zM425.64 539.45h1.5v1.5h-1.5zM425.51 538.12h1.5v1.5h-1.5zM458.35 539.21h1.5v1.5h-1.5zM374.05 536.65h1.5v1.5h-1.5zM450.98 537.92h1.5v1.5h-1.5zM478.6 536.52h1.5v1.5h-1.5zM478.73 536.1h1.5v1.5h-1.5zM416.85 539.28h1.5v1.5h-1.5zM446.15 539.13h1.5v1.5h-1.5zM504.4 539.87h1.5v1.5h-1.5zM499.97 535.6h1.5v1.5h-1.5zM445.37 534.8h1.5v1.5h-1.5zM429.58 538.21h1.5v1.5h-1.5zM495.47 538.09h1.5v1.5h-1.5zM453.53 538.23h1.5v1.5h-1.5zM381.72 536.13h1.5v1.5h-1.5zM397.54 536.34h1.5v1.5h-1.5zM425.74 539.77h1.5v1.5h-1.5zM412.8 538.37h1.5v1.5h-1.5zM377.99 539.86h1.5v1.5h-1.5zM401.9 538.82h1.5v1.5h-1.5zM500.99 539.02h1.5v1.5h-1.5zM374.48 538.3h1.5v1.5h-1.5zM499.42 535.55h1.5v1.5h-1.5zM382.09 539.94h1.5v1.5h-1.5zM441.12 539.29h1.5v1.5h-1.5zM372.3 539.64h1.5v1.5h-1.5zM495.72 539.17h1.5v1.5h-1.5zM368.49 538.72h1.5v1.5h-1.5zM408.1 539.38h1.5v1.5h-1.5zM404.42 536.74h1.5v1.5h-1.5zM442.46 540.26h1.5v1.5h-1.5zM402.13 536.67h1.5v1.5h-1.5zM392.2 537.43h1.5v1.5h-1.5zM497.19 538.03h1.5v1.5h-1.5zM439.78 537.59h1.5v1.5h-1.5zM485.55 543.5h1.5v1.5h-1.5zM364.58 539.91h1.5v1.5h-1.5zM429.4 541.13h1.5v1.5h-1.5zM374.09 537.12h1.5v1.5h-1.5zM379.06 539.25h1.5v1.5h-1.5zM369.73 539.32h1.5v1.5h-1.5zM375.36 538.42h1.5v1.5h-1.5zM444.86 536.59h1.5v1.5h-1.5zM452.97 539.45h1.5v1.5h-1.5zM388.8 537.56h1.5v1.5h-1.5zM493.11 538.87h1.5v1.5h-1.5zM394.63 537.79h1.5v1.5h-1.5zM377.12 538.7h1.5v1.5h-1.5zM380.41 541.36h1.5v1.5h-1.5zM444.18 538.48h1.5v1.5h-1.5zM463.28 537.76h1.5v1.5h-1.5zM436.65 538.74h1.5v1.5h-1.5zM399.52 536.22h1.5v1.5h-1.5zM471.2 537.82h1.5v1.5h-1.5zM365.62 538.16h1.5v1.5h-1.5zM367.47 540.35h1.5v1.5h-1.5zM365.09 540.59h1.5v1.5h-1.5zM394.03 535.89h1.5v1.5h-1.5zM483.35 538.52h1.5v1.5h-1.5zM500.78 539.65h1.5v1.5h-1.5zM414.62 538.5h1.5v1.5h-1.5zM371.74 538.69h1.5v1.5h-1.5zM503.19 535.05h1.5v1.5h-1.5zM460.11 539h1.5v1.5h-1.5zM390.73 539.91h1.5v1.5h-1.5zM429.45 538.12h1.5v1.5h-1.5zM468.64 540.73h1.5v1.5h-1.5zM400.45 536.8h1.5v1.5h-1.5zM390.78 536.74h1.5v1.5h-1.5zM407.76 537.23h1.5v1.5h-1.5zM393.09 537.54h1.5v1.5h-1.5zM503.21 539.01h1.5v1.5h-1.5zM496.11 541.71h1.5v1.5h-1.5z" fill="#0a0a0a"/>
<line x1="363" y1="538.5" x2="505.6" y2="538.5" stroke="#a01826" stroke-width="1.2"/>
<rect x="320" y="571.3" width="43.8" height="2.6" fill="#6e0f1c"/>
<path d="M319.7 551.1h1.8v1.8h-1.8zM326.4 544.1h1.8v1.8h-1.8zM326.8 555.1h1.8v1.8h-1.8zM320.3 567.6h1.8v1.8h-1.8zM327.4 565.3h1.8v1.8h-1.8zM336.1 564.7h1.8v1.8h-1.8zM337 569.1h1.8v1.8h-1.8zM340.8 560.8h1.8v1.8h-1.8zM342.8 544.5h1.8v1.8h-1.8zM342.9 546.8h1.8v1.8h-1.8zM342.9 548.3h1.8v1.8h-1.8zM358.8 552.1h1.8v1.8h-1.8zM358.8 555.3h1.8v1.8h-1.8zM340.6 560.3h1.8v1.8h-1.8zM318.1 533.7h1.8v1.8h-1.8z" fill="#111"/>

</svg></body></html>
